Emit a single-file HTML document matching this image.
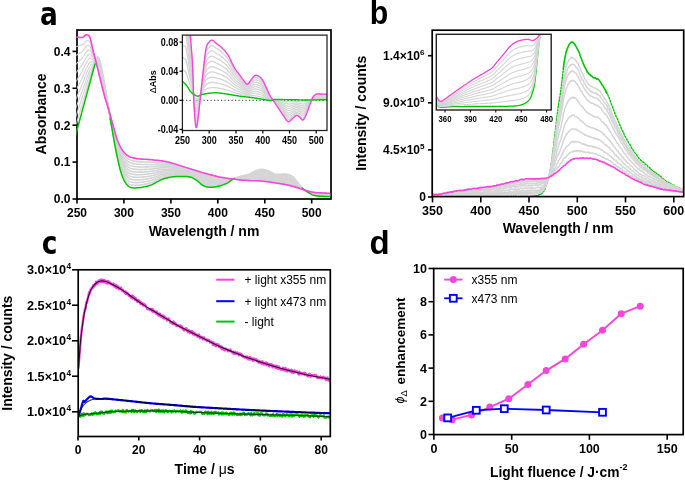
<!DOCTYPE html>
<html><head><meta charset="utf-8"><title>Figure</title>
<style>html,body{margin:0;padding:0;background:#fff;}svg{display:block;font-family:'Liberation Sans', Arial, sans-serif;}text{fill:#000;}</style>
</head><body>
<svg width="685" height="480" viewBox="0 0 685 480">
<rect width="685" height="480" fill="#fff"/>
<text x="0" y="0" font-size="31.5" font-weight="bold" text-anchor="middle" transform="translate(49 24.6) scale(0.84 1)" font-family="'DejaVu Sans', sans-serif">a</text>
<text x="0" y="0" font-size="33" font-weight="bold" text-anchor="middle" transform="translate(378.9 24.4) scale(0.92 1)">b</text>
<text x="0" y="0" font-size="31.5" font-weight="bold" text-anchor="middle" transform="translate(49.5 254.3) scale(0.84 1)" font-family="'DejaVu Sans', sans-serif">c</text>
<text x="379.5" y="254.3" font-size="33" font-weight="bold" text-anchor="middle">d</text>
<rect x="77" y="30" width="254" height="169" fill="none" stroke="#000" stroke-width="1.7"/>
<defs><clipPath id="ca"><rect x="76.3" y="30.9" width="253.79999999999998" height="167.2"/></clipPath></defs>
<g clip-path="url(#ca)">
<path d="M94.2,66.9l0.8-2.9 0.8-3 0.8-3.2 0.8-0.8 0.8,0.3 0.8,1.4 0.8,2.3 0.8,3.1 0.8,3.5 0.8,3.9 0.8,4.2 0.8,4.6 0.8,4.6 0.8,4.8 0.8,4.6 0.8,4.8 0.8,4.7 0.8,4.8 0.8,4.7 0.8,4.7 0.8,4.7" fill="none" stroke="#d5d5d5" stroke-width="2.0" stroke-linejoin="round" stroke-linecap="round"/>
<path d="M234.2,178.6l0.8-0.3 0.8-0.3 0.8-0.3 0.8-0.2 0.8-0.3 0.8-0.2 0.8-0.2 0.8-0.3 0.8-0.2 0.8-0.2 0.8-0.2 0.8-0.2 0.8-0.2 0.8-0.2 0.8-0.2 0.8-0.2 0.8-0.2 0.8-0.2 0.8-0.3 0.8-0.4 0.8-0.4 0.8-0.4 0.8-0.4 0.8-0.5 0.8-0.4 0.8-0.4 0.8-0.3 0.8-0.3 0.8-0.3 0.8-0.3 0.8-0.2 0.8-0.2 0.8-0.1 0.8-0.1 0.8,0 0.8,0.1 0.8,0.1 0.8,0.2 0.8,0.2 0.8,0.2 0.8,0.3 0.8,0.3 0.8,0.3 0.8,0.3 0.8,0.4 0.8,0.5 0.8,0.4 0.8,0.5 0.8,0.4 0.8,0.4 0.8,0.3 0.8,0.1 0.8,0.1 0.8,0.1 0.8-0.1 0.8,0 0.8,0 0.8,0 0.8-0.1 0.8-0.1 0.8-0.1 0.8-0.1 0.8,0 0.8,0 0.8,0.1 0.8,0.2 0.8,0.2 0.8,0.2 0.8,0.3 0.8,0.3 0.8,0.4 0.8,0.4 0.8,0.5 0.8,0.7 0.8,0.9 0.8,1 0.8,1 0.8,1 0.8,1 0.8,1 0.8,1 0.8,0.9 0.8,1 0.8,0.9" fill="none" stroke="#d5d5d5" stroke-width="2.0" stroke-linejoin="round" stroke-linecap="round"/>
<path d="M75.8,125.7l0.8-2.7 0.8-2.7 0.8-2.7 0.8-2.6 0.8-2.7 0.8-2.6 0.8-2.7 0.8-2.7 0.8-2.7 0.8-2.7 0.8-2.7 0.8-2.8 0.8-2.7 0.8-2.6 0.8-2.7 0.8-2.6 0.8-2.6 0.8-2.5 0.8-2.4 0.8-2.4 0.8-2.3 0.8-2.4 0.8-2.4 0.8-2.3 0.8-2.5 0.8-2.6 0.8-0.4 0.8,0.6 0.8,1.5 0.8,2.4 0.8,3.1" fill="none" stroke="#d5d5d5" stroke-width="1.15" stroke-linejoin="round" stroke-linecap="round"/>
<path d="M100.6,65.6l0.8,3.5 0.8,3.8 0.8,4.1 0.8,4.4 0.8,4.6 0.8,4.5 0.8,4.5 0.8,4.5 0.8,4.6 0.8,4.6 0.8,4.5 0.8,4.5 0.8,4.6 0.8,4.6 0.8,4.6 0.8,4.5 0.8,4.4 0.8,4.3 0.8,4 0.8,3.8 0.8,3.7 0.8,3.6 0.8,3.3 0.8,3.1 0.8,2.8 0.8,2.4 0.8,2.2 0.8,2 0.8,1.7 0.8,1.5 0.8,1.3 0.8,1.1 0.8,1 0.8,0.8 0.8,0.6 0.8,0.5 0.8,0.4 0.8,0.3 0.8,0.2 0.8,0.1 0.8,0.1 0.8,0 0.8,0 0.8,0 0.8,0 0.8,0 0.8,0 0.8-0.1 0.8-0.1 0.8-0.1 0.8-0.1 0.8-0.1 0.8-0.1 0.8-0.2 0.8-0.1 0.8-0.2 0.8-0.1 0.8-0.2 0.8-0.2 0.8-0.2 0.8-0.2 0.8-0.3 0.8-0.2 0.8-0.3 0.8-0.3 0.8-0.3 0.8-0.4 0.8-0.4 0.8-0.4 0.8-0.4 0.8-0.4 0.8-0.4 0.8-0.4 0.8-0.4 0.8-0.3 0.8-0.3 0.8-0.3 0.8-0.3 0.8-0.2 0.8-0.2 0.8-0.2 0.8-0.2 0.8-0.2 0.8-0.1 0.8-0.2 0.8-0.1 0.8-0.1 0.8-0.1 0.8,0 0.8-0.1 0.8-0.1 0.8,0 0.8,0 0.8-0.1 0.8,0 0.8,0 0.8,0 0.8,0 0.8,0 0.8,0 0.8,0 0.8,0 0.8,0 0.8,0.1 0.8,0 0.8,0.1 0.8,0 0.8,0.1 0.8,0.1 0.8,0.1 0.8,0.1 0.8,0.2 0.8,0.2 0.8,0.3 0.8,0.3 0.8,0.4 0.8,0.5 0.8,0.5 0.8,0.5 0.8,0.5 0.8,0.5 0.8,0.6 0.8,0.7 0.8,0.7 0.8,0.7 0.8,0.6 0.8,0.6 0.8,0.5 0.8,0.3 0.8,0.4 0.8,0.3 0.8,0.2 0.8,0.2 0.8,0.2 0.8,0.1 0.8,0 0.8,0.1 0.8,0 0.8,0 0.8-0.1 0.8-0.1 0.8,0 0.8-0.1 0.8-0.1 0.8-0.1 0.8-0.2 0.8-0.1 0.8-0.2 0.8-0.1 0.8-0.2 0.8-0.2 0.8-0.2 0.8-0.3 0.8-0.2 0.8-0.3 0.8-0.3 0.8-0.3 0.8-0.3 0.8-0.4 0.8-0.4 0.8-0.6 0.8-0.6 0.8-0.5 0.8-0.6 0.8-0.4 0.8-0.4 0.8-0.3 0.8-0.2 0.8-0.3 0.8-0.2 0.8-0.2 0.8-0.3 0.8-0.2 0.8-0.2 0.8-0.2 0.8-0.2 0.8-0.2 0.8-0.1 0.8-0.2 0.8-0.2 0.8-0.1 0.8-0.2 0.8-0.2 0.8-0.2 0.8-0.2 0.8-0.2 0.8-0.3 0.8-0.4 0.8-0.4 0.8-0.4 0.8-0.4 0.8-0.4 0.8-0.3 0.8-0.3 0.8-0.3 0.8-0.3 0.8-0.2 0.8-0.2 0.8-0.2 0.8-0.1 0.8,0 0.8-0.1 0.8,0.1 0.8,0.1 0.8,0.2 0.8,0.2 0.8,0.2 0.8,0.3 0.8,0.3 0.8,0.2 0.8,0.4 0.8,0.4 0.8,0.4 0.8,0.4 0.8,0.4 0.8,0.4 0.8,0.4 0.8,0.2 0.8,0.2 0.8,0.1 0.8,0 0.8,0 0.8,0 0.8,0 0.8,0 0.8-0.1 0.8-0.1 0.8,0 0.8-0.1 0.8,0 0.8,0.1 0.8,0.1 0.8,0.1 0.8,0.2 0.8,0.2 0.8,0.3 0.8,0.3 0.8,0.4 0.8,0.4 0.8,0.5 0.8,0.6 0.8,0.8 0.8,0.9 0.8,1 0.8,1 0.8,0.9 0.8,0.9 0.8,0.9 0.8,0.9 0.8,0.9 0.8,0.8 0.8,0.8 0.8,0.7 0.8,0.7 0.8,0.6 0.8,0.5 0.8,0.5 0.8,0.5 0.8,0.5 0.8,0.5 0.8,0.5 0.8,0.5 0.8,0.4 0.8,0.4 0.8,0.3 0.8,0.2 0.8,0.3 0.8,0.1 0.8,0.2 0.8,0.1 0.8,0.1 0.8,0.1 0.8,0 0.8,0.1 0.8,0 0.8,0.1 0.8,0 0.8,0 0.8,0.1 0.8,0 0.8,0 0.8,0.1 0.8,0 0.8,0 0.8,0 0.8,0.1 0.8,0" fill="none" stroke="#d5d5d5" stroke-width="1.6" stroke-linejoin="round" stroke-linecap="round"/>
<path d="M75.8,117l0.8-2.5 0.8-2.4 0.8-2.4 0.8-2.4 0.8-2.4 0.8-2.4 0.8-2.4 0.8-2.4 0.8-2.4 0.8-2.6 0.8-2.5 0.8-2.5 0.8-2.5 0.8-2.4 0.8-2.4 0.8-2.3 0.8-2.2 0.8-2.1 0.8-1.9 0.8-1.7 0.8-1.8 0.8-1.8 0.8-1.9 0.8-1.8 0.8-1.9 0.8-2 0.8-0.1 0.8,0.9 0.8,1.7 0.8,2.5 0.8,3" fill="none" stroke="#d5d5d5" stroke-width="1.15" stroke-linejoin="round" stroke-linecap="round"/>
<path d="M100.6,67l0.8,3.5 0.8,3.8 0.8,4 0.8,4.3 0.8,4.4 0.8,4.4 0.8,4.3 0.8,4.3 0.8,4.4 0.8,4.3 0.8,4.4 0.8,4.4 0.8,4.4 0.8,4.4 0.8,4.4 0.8,4.4 0.8,4.2 0.8,4.1 0.8,3.9 0.8,3.7 0.8,3.6 0.8,3.5 0.8,3.2 0.8,2.9 0.8,2.6 0.8,2.4 0.8,2.1 0.8,1.9 0.8,1.6 0.8,1.5 0.8,1.2 0.8,1.1 0.8,0.9 0.8,0.8 0.8,0.6 0.8,0.5 0.8,0.4 0.8,0.2 0.8,0.2 0.8,0.2 0.8,0.1 0.8,0 0.8,0.1 0.8,0 0.8,0 0.8,0 0.8,0 0.8-0.1 0.8,0 0.8-0.1 0.8-0.1 0.8-0.1 0.8-0.1 0.8-0.1 0.8-0.2 0.8-0.1 0.8-0.2 0.8-0.1 0.8-0.2 0.8-0.2 0.8-0.2 0.8-0.2 0.8-0.2 0.8-0.2 0.8-0.3 0.8-0.3 0.8-0.3 0.8-0.3 0.8-0.4 0.8-0.3 0.8-0.4 0.8-0.4 0.8-0.3 0.8-0.4 0.8-0.3 0.8-0.2 0.8-0.3 0.8-0.2 0.8-0.2 0.8-0.2 0.8-0.1 0.8-0.2 0.8-0.1 0.8-0.1 0.8-0.1 0.8-0.1 0.8-0.1 0.8-0.1 0.8,0 0.8,0 0.8-0.1 0.8,0 0.8,0 0.8,0 0.8,0 0.8,0 0.8,0 0.8,0.1 0.8,0 0.8,0 0.8,0.1 0.8,0 0.8,0 0.8,0.1 0.8,0.1 0.8,0 0.8,0.1 0.8,0.1 0.8,0.1 0.8,0.1 0.8,0.2 0.8,0.2 0.8,0.2 0.8,0.2 0.8,0.4 0.8,0.4 0.8,0.4 0.8,0.5 0.8,0.4 0.8,0.5 0.8,0.5 0.8,0.6 0.8,0.6 0.8,0.7 0.8,0.6 0.8,0.6 0.8,0.6 0.8,0.4 0.8,0.4 0.8,0.3 0.8,0.3 0.8,0.2 0.8,0.2 0.8,0.2 0.8,0.1 0.8,0.1 0.8,0 0.8,0.1 0.8,0 0.8-0.1 0.8,0 0.8,0 0.8-0.1 0.8-0.1 0.8-0.1 0.8-0.1 0.8-0.1 0.8-0.1 0.8-0.1 0.8-0.2 0.8-0.1 0.8-0.2 0.8-0.2 0.8-0.2 0.8-0.3 0.8-0.2 0.8-0.3 0.8-0.3 0.8-0.3 0.8-0.4 0.8-0.4 0.8-0.6 0.8-0.5 0.8-0.5 0.8-0.3 0.8-0.3 0.8-0.3 0.8-0.2 0.8-0.3 0.8-0.2 0.8-0.1 0.8-0.2 0.8-0.2 0.8-0.2 0.8-0.2 0.8-0.1 0.8-0.2 0.8-0.2 0.8-0.1 0.8-0.1 0.8-0.2 0.8-0.1 0.8-0.2 0.8-0.1 0.8-0.2 0.8-0.3 0.8-0.2 0.8-0.4 0.8-0.3 0.8-0.4 0.8-0.3 0.8-0.4 0.8-0.3 0.8-0.2 0.8-0.3 0.8-0.2 0.8-0.2 0.8-0.2 0.8-0.2 0.8-0.1 0.8,0 0.8,0 0.8,0.1 0.8,0.1 0.8,0.1 0.8,0.2 0.8,0.2 0.8,0.3 0.8,0.2 0.8,0.3 0.8,0.3 0.8,0.4 0.8,0.4 0.8,0.4 0.8,0.3 0.8,0.4 0.8,0.3 0.8,0.3 0.8,0.2 0.8,0.1 0.8,0 0.8,0 0.8,0 0.8,0 0.8,0 0.8,0 0.8-0.1 0.8,0 0.8-0.1 0.8,0 0.8,0.1 0.8,0.1 0.8,0.2 0.8,0.1 0.8,0.3 0.8,0.2 0.8,0.3 0.8,0.4 0.8,0.4 0.8,0.4 0.8,0.6 0.8,0.8 0.8,0.8 0.8,0.9 0.8,0.9 0.8,0.9 0.8,0.8 0.8,0.8 0.8,0.9 0.8,0.8 0.8,0.8 0.8,0.7 0.8,0.7 0.8,0.6 0.8,0.6 0.8,0.5 0.8,0.5 0.8,0.4 0.8,0.5 0.8,0.5 0.8,0.4 0.8,0.5 0.8,0.4 0.8,0.3 0.8,0.3 0.8,0.3 0.8,0.2 0.8,0.2 0.8,0.1 0.8,0.1 0.8,0.1 0.8,0.1 0.8,0 0.8,0.1 0.8,0 0.8,0.1 0.8,0 0.8,0 0.8,0.1 0.8,0 0.8,0 0.8,0.1 0.8,0 0.8,0 0.8,0 0.8,0.1 0.8,0" fill="none" stroke="#d5d5d5" stroke-width="1.6" stroke-linejoin="round" stroke-linecap="round"/>
<path d="M75.8,108.2l0.8-2.2 0.8-2.1 0.8-2.2 0.8-2.1 0.8-2.1 0.8-2.1 0.8-2.2 0.8-2.1 0.8-2.2 0.8-2.3 0.8-2.4 0.8-2.3 0.8-2.2 0.8-2.2 0.8-2 0.8-2 0.8-2 0.8-1.7 0.8-1.3 0.8-1.1 0.8-1.2 0.8-1.3 0.8-1.3 0.8-1.2 0.8-1.3 0.8-1.5 0.8,0.3 0.8,1.1 0.8,1.9 0.8,2.6 0.8,3" fill="none" stroke="#d5d5d5" stroke-width="1.15" stroke-linejoin="round" stroke-linecap="round"/>
<path d="M100.6,68.5l0.8,3.5 0.8,3.7 0.8,4 0.8,4.1 0.8,4.2 0.8,4.2 0.8,4.1 0.8,4.1 0.8,4.2 0.8,4.2 0.8,4.2 0.8,4.2 0.8,4.2 0.8,4.3 0.8,4.3 0.8,4.1 0.8,4.2 0.8,3.9 0.8,3.8 0.8,3.6 0.8,3.5 0.8,3.2 0.8,3.1 0.8,2.8 0.8,2.5 0.8,2.2 0.8,2 0.8,1.8 0.8,1.6 0.8,1.4 0.8,1.2 0.8,1.1 0.8,0.8 0.8,0.8 0.8,0.6 0.8,0.5 0.8,0.4 0.8,0.2 0.8,0.2 0.8,0.2 0.8,0.1 0.8,0 0.8,0.1 0.8,0 0.8,0 0.8,0 0.8,0 0.8,0 0.8,0 0.8-0.1 0.8-0.1 0.8,0 0.8-0.1 0.8-0.1 0.8-0.2 0.8-0.1 0.8-0.1 0.8-0.2 0.8-0.1 0.8-0.2 0.8-0.1 0.8-0.2 0.8-0.2 0.8-0.2 0.8-0.2 0.8-0.2 0.8-0.3 0.8-0.3 0.8-0.3 0.8-0.3 0.8-0.3 0.8-0.4 0.8-0.3 0.8-0.2 0.8-0.3 0.8-0.2 0.8-0.2 0.8-0.2 0.8-0.2 0.8-0.1 0.8-0.1 0.8-0.2 0.8-0.1 0.8,0 0.8-0.1 0.8-0.1 0.8,0 0.8,0 0.8-0.1 0.8,0 0.8,0 0.8,0.1 0.8,0 0.8,0 0.8,0 0.8,0.1 0.8,0 0.8,0.1 0.8,0 0.8,0.1 0.8,0 0.8,0.1 0.8,0.1 0.8,0 0.8,0.1 0.8,0.1 0.8,0.1 0.8,0.1 0.8,0.1 0.8,0.2 0.8,0.1 0.8,0.2 0.8,0.2 0.8,0.3 0.8,0.3 0.8,0.4 0.8,0.4 0.8,0.5 0.8,0.4 0.8,0.4 0.8,0.5 0.8,0.6 0.8,0.6 0.8,0.6 0.8,0.6 0.8,0.5 0.8,0.5 0.8,0.5 0.8,0.3 0.8,0.3 0.8,0.3 0.8,0.2 0.8,0.2 0.8,0.2 0.8,0.1 0.8,0.1 0.8,0.1 0.8,0.1 0.8,0 0.8,0 0.8,0 0.8-0.1 0.8,0 0.8,0 0.8-0.1 0.8-0.1 0.8,0 0.8-0.1 0.8-0.1 0.8-0.1 0.8-0.2 0.8-0.1 0.8-0.2 0.8-0.2 0.8-0.1 0.8-0.3 0.8-0.2 0.8-0.2 0.8-0.3 0.8-0.3 0.8-0.4 0.8-0.5 0.8-0.4 0.8-0.4 0.8-0.4 0.8-0.2 0.8-0.2 0.8-0.2 0.8-0.2 0.8-0.2 0.8-0.2 0.8-0.1 0.8-0.2 0.8-0.1 0.8-0.2 0.8-0.1 0.8-0.1 0.8-0.2 0.8-0.1 0.8-0.1 0.8-0.1 0.8-0.1 0.8-0.2 0.8-0.1 0.8-0.2 0.8-0.2 0.8-0.2 0.8-0.3 0.8-0.3 0.8-0.3 0.8-0.4 0.8-0.3 0.8-0.2 0.8-0.3 0.8-0.2 0.8-0.2 0.8-0.2 0.8-0.1 0.8-0.2 0.8,0 0.8-0.1 0.8,0 0.8,0.1 0.8,0.1 0.8,0.2 0.8,0.1 0.8,0.3 0.8,0.2 0.8,0.2 0.8,0.3 0.8,0.3 0.8,0.3 0.8,0.3 0.8,0.4 0.8,0.4 0.8,0.3 0.8,0.3 0.8,0.3 0.8,0.1 0.8,0.1 0.8,0.1 0.8,0 0.8,0 0.8,0 0.8,0 0.8,0 0.8,0 0.8-0.1 0.8,0 0.8,0.1 0.8,0 0.8,0.1 0.8,0.2 0.8,0.2 0.8,0.2 0.8,0.2 0.8,0.3 0.8,0.3 0.8,0.4 0.8,0.5 0.8,0.5 0.8,0.7 0.8,0.8 0.8,0.8 0.8,0.8 0.8,0.8 0.8,0.8 0.8,0.8 0.8,0.8 0.8,0.7 0.8,0.8 0.8,0.6 0.8,0.7 0.8,0.6 0.8,0.5 0.8,0.5 0.8,0.4 0.8,0.4 0.8,0.5 0.8,0.4 0.8,0.5 0.8,0.4 0.8,0.4 0.8,0.3 0.8,0.3 0.8,0.2 0.8,0.2 0.8,0.2 0.8,0.1 0.8,0.1 0.8,0.1 0.8,0.1 0.8,0 0.8,0.1 0.8,0 0.8,0.1 0.8,0 0.8,0 0.8,0.1 0.8,0 0.8,0 0.8,0.1 0.8,0 0.8,0 0.8,0 0.8,0.1 0.8,0" fill="none" stroke="#d5d5d5" stroke-width="1.6" stroke-linejoin="round" stroke-linecap="round"/>
<path d="M75.8,99.4l0.8-1.9 0.8-1.9 0.8-1.8 0.8-1.9 0.8-1.8 0.8-1.9 0.8-1.8 0.8-1.9 0.8-2 0.8-2.1 0.8-2.1 0.8-2.2 0.8-2 0.8-1.8 0.8-1.8 0.8-1.7 0.8-1.6 0.8-1.3 0.8-0.8 0.8-0.5 0.8-0.6 0.8-0.7 0.8-0.8 0.8-0.7 0.8-0.7 0.8-0.9 0.8,0.7 0.8,1.3 0.8,2.1 0.8,2.6 0.8,3.1" fill="none" stroke="#d5d5d5" stroke-width="1.15" stroke-linejoin="round" stroke-linecap="round"/>
<path d="M100.6,70l0.8,3.5 0.8,3.6 0.8,3.9 0.8,4 0.8,4.1 0.8,4 0.8,3.9 0.8,3.9 0.8,4 0.8,4 0.8,4 0.8,4 0.8,4.1 0.8,4.1 0.8,4.1 0.8,4 0.8,4 0.8,3.8 0.8,3.7 0.8,3.4 0.8,3.4 0.8,3.1 0.8,2.9 0.8,2.6 0.8,2.4 0.8,2.2 0.8,1.9 0.8,1.7 0.8,1.5 0.8,1.4 0.8,1.1 0.8,1 0.8,0.9 0.8,0.7 0.8,0.6 0.8,0.5 0.8,0.3 0.8,0.3 0.8,0.2 0.8,0.2 0.8,0.1 0.8,0.1 0.8,0 0.8,0.1 0.8,0 0.8,0 0.8,0 0.8,0 0.8,0 0.8,0 0.8-0.1 0.8-0.1 0.8,0 0.8-0.1 0.8-0.1 0.8-0.1 0.8-0.1 0.8-0.2 0.8-0.1 0.8-0.1 0.8-0.1 0.8-0.2 0.8-0.1 0.8-0.2 0.8-0.2 0.8-0.2 0.8-0.2 0.8-0.3 0.8-0.2 0.8-0.3 0.8-0.3 0.8-0.2 0.8-0.3 0.8-0.2 0.8-0.2 0.8-0.2 0.8-0.2 0.8-0.1 0.8-0.2 0.8-0.1 0.8-0.1 0.8,0 0.8-0.1 0.8-0.1 0.8,0 0.8,0 0.8,0 0.8,0 0.8,0 0.8,0 0.8,0 0.8,0.1 0.8,0 0.8,0.1 0.8,0.1 0.8,0 0.8,0.1 0.8,0.1 0.8,0 0.8,0.1 0.8,0.1 0.8,0.1 0.8,0.1 0.8,0.1 0.8,0.1 0.8,0.1 0.8,0.1 0.8,0.1 0.8,0.1 0.8,0.2 0.8,0.2 0.8,0.2 0.8,0.2 0.8,0.3 0.8,0.3 0.8,0.3 0.8,0.4 0.8,0.4 0.8,0.5 0.8,0.4 0.8,0.4 0.8,0.5 0.8,0.6 0.8,0.6 0.8,0.5 0.8,0.5 0.8,0.5 0.8,0.4 0.8,0.3 0.8,0.4 0.8,0.2 0.8,0.3 0.8,0.2 0.8,0.1 0.8,0.2 0.8,0.1 0.8,0.1 0.8,0 0.8,0.1 0.8,0 0.8,0 0.8,0 0.8,0 0.8,0 0.8,0 0.8,0 0.8-0.1 0.8,0 0.8-0.1 0.8-0.1 0.8-0.1 0.8-0.1 0.8-0.1 0.8-0.2 0.8-0.1 0.8-0.2 0.8-0.2 0.8-0.2 0.8-0.2 0.8-0.3 0.8-0.3 0.8-0.4 0.8-0.4 0.8-0.3 0.8-0.3 0.8-0.2 0.8-0.2 0.8-0.1 0.8-0.2 0.8-0.1 0.8-0.2 0.8-0.1 0.8-0.1 0.8-0.1 0.8-0.1 0.8-0.2 0.8-0.1 0.8-0.1 0.8-0.1 0.8-0.1 0.8-0.1 0.8-0.1 0.8-0.1 0.8-0.1 0.8-0.1 0.8-0.2 0.8-0.2 0.8-0.2 0.8-0.3 0.8-0.3 0.8-0.3 0.8-0.3 0.8-0.2 0.8-0.2 0.8-0.2 0.8-0.1 0.8-0.2 0.8-0.1 0.8-0.1 0.8-0.1 0.8,0 0.8,0 0.8,0 0.8,0.2 0.8,0.1 0.8,0.2 0.8,0.2 0.8,0.2 0.8,0.2 0.8,0.2 0.8,0.3 0.8,0.3 0.8,0.3 0.8,0.4 0.8,0.3 0.8,0.3 0.8,0.3 0.8,0.2 0.8,0.2 0.8,0.1 0.8,0.1 0.8,0 0.8,0 0.8,0 0.8,0.1 0.8,0 0.8-0.1 0.8,0 0.8,0 0.8,0.1 0.8,0.1 0.8,0.1 0.8,0.1 0.8,0.2 0.8,0.2 0.8,0.3 0.8,0.2 0.8,0.3 0.8,0.4 0.8,0.4 0.8,0.5 0.8,0.7 0.8,0.7 0.8,0.7 0.8,0.8 0.8,0.7 0.8,0.7 0.8,0.7 0.8,0.8 0.8,0.7 0.8,0.6 0.8,0.7 0.8,0.5 0.8,0.6 0.8,0.5 0.8,0.4 0.8,0.5 0.8,0.4 0.8,0.4 0.8,0.4 0.8,0.4 0.8,0.4 0.8,0.3 0.8,0.4 0.8,0.2 0.8,0.3 0.8,0.2 0.8,0.1 0.8,0.1 0.8,0.1 0.8,0.1 0.8,0.1 0.8,0 0.8,0.1 0.8,0 0.8,0.1 0.8,0 0.8,0 0.8,0.1 0.8,0 0.8,0 0.8,0.1 0.8,0 0.8,0 0.8,0 0.8,0.1 0.8,0" fill="none" stroke="#d5d5d5" stroke-width="1.6" stroke-linejoin="round" stroke-linecap="round"/>
<path d="M75.8,90.7l0.8-1.7 0.8-1.6 0.8-1.6 0.8-1.5 0.8-1.6 0.8-1.6 0.8-1.6 0.8-1.6 0.8-1.8 0.8-1.8 0.8-2 0.8-1.9 0.8-1.8 0.8-1.6 0.8-1.5 0.8-1.4 0.8-1.2 0.8-0.9 0.8-0.2 0.8,0.1 0.8,0 0.8-0.2 0.8-0.2 0.8-0.2 0.8-0.2 0.8-0.3 0.8,1 0.8,1.7 0.8,2.2 0.8,2.7 0.8,3.1" fill="none" stroke="#d5d5d5" stroke-width="1.15" stroke-linejoin="round" stroke-linecap="round"/>
<path d="M100.6,71.5l0.8,3.4 0.8,3.6 0.8,3.8 0.8,3.9 0.8,3.9 0.8,3.8 0.8,3.7 0.8,3.8 0.8,3.7 0.8,3.8 0.8,3.9 0.8,3.9 0.8,3.9 0.8,4 0.8,3.9 0.8,3.8 0.8,3.8 0.8,3.7 0.8,3.5 0.8,3.4 0.8,3.2 0.8,3 0.8,2.7 0.8,2.5 0.8,2.3 0.8,2 0.8,1.8 0.8,1.7 0.8,1.4 0.8,1.3 0.8,1.1 0.8,1 0.8,0.8 0.8,0.7 0.8,0.6 0.8,0.5 0.8,0.3 0.8,0.3 0.8,0.2 0.8,0.2 0.8,0.1 0.8,0.1 0.8,0.1 0.8,0 0.8,0.1 0.8,0 0.8,0 0.8,0 0.8,0 0.8,0 0.8-0.1 0.8,0 0.8-0.1 0.8,0 0.8-0.1 0.8-0.1 0.8-0.1 0.8-0.1 0.8-0.1 0.8-0.1 0.8-0.1 0.8-0.1 0.8-0.1 0.8-0.1 0.8-0.2 0.8-0.2 0.8-0.1 0.8-0.2 0.8-0.3 0.8-0.2 0.8-0.2 0.8-0.2 0.8-0.2 0.8-0.2 0.8-0.2 0.8-0.1 0.8-0.1 0.8-0.1 0.8-0.1 0.8-0.1 0.8-0.1 0.8,0 0.8-0.1 0.8,0 0.8,0 0.8,0 0.8,0.1 0.8,0 0.8,0 0.8,0.1 0.8,0.1 0.8,0 0.8,0.1 0.8,0.1 0.8,0.1 0.8,0.1 0.8,0.1 0.8,0 0.8,0.1 0.8,0.1 0.8,0.2 0.8,0.1 0.8,0.1 0.8,0.1 0.8,0.1 0.8,0.1 0.8,0.2 0.8,0.1 0.8,0.2 0.8,0.1 0.8,0.2 0.8,0.2 0.8,0.2 0.8,0.3 0.8,0.3 0.8,0.4 0.8,0.3 0.8,0.4 0.8,0.4 0.8,0.4 0.8,0.4 0.8,0.5 0.8,0.5 0.8,0.6 0.8,0.5 0.8,0.5 0.8,0.4 0.8,0.4 0.8,0.3 0.8,0.3 0.8,0.2 0.8,0.3 0.8,0.2 0.8,0.2 0.8,0.1 0.8,0.1 0.8,0.1 0.8,0.1 0.8,0.1 0.8,0.1 0.8,0 0.8,0 0.8,0 0.8,0.1 0.8,0 0.8,0 0.8-0.1 0.8,0 0.8,0 0.8-0.1 0.8,0 0.8-0.1 0.8-0.1 0.8-0.1 0.8-0.1 0.8-0.1 0.8-0.2 0.8-0.1 0.8-0.2 0.8-0.2 0.8-0.3 0.8-0.3 0.8-0.3 0.8-0.3 0.8-0.2 0.8-0.2 0.8-0.1 0.8-0.2 0.8-0.1 0.8-0.1 0.8-0.1 0.8-0.1 0.8-0.1 0.8,0 0.8-0.1 0.8-0.1 0.8-0.1 0.8-0.1 0.8-0.1 0.8,0 0.8-0.1 0.8-0.1 0.8-0.1 0.8-0.1 0.8-0.1 0.8-0.1 0.8-0.2 0.8-0.2 0.8-0.2 0.8-0.3 0.8-0.2 0.8-0.2 0.8-0.2 0.8-0.2 0.8-0.2 0.8-0.1 0.8-0.1 0.8-0.2 0.8,0 0.8-0.1 0.8,0 0.8,0 0.8,0.1 0.8,0.1 0.8,0.1 0.8,0.2 0.8,0.2 0.8,0.2 0.8,0.2 0.8,0.2 0.8,0.3 0.8,0.2 0.8,0.3 0.8,0.3 0.8,0.3 0.8,0.3 0.8,0.3 0.8,0.2 0.8,0.1 0.8,0.2 0.8,0 0.8,0.1 0.8,0 0.8,0.1 0.8,0 0.8,0 0.8,0 0.8,0 0.8,0.1 0.8,0 0.8,0.1 0.8,0.1 0.8,0.2 0.8,0.2 0.8,0.2 0.8,0.2 0.8,0.2 0.8,0.3 0.8,0.4 0.8,0.4 0.8,0.4 0.8,0.6 0.8,0.7 0.8,0.6 0.8,0.7 0.8,0.7 0.8,0.6 0.8,0.7 0.8,0.6 0.8,0.7 0.8,0.6 0.8,0.6 0.8,0.5 0.8,0.5 0.8,0.5 0.8,0.4 0.8,0.4 0.8,0.4 0.8,0.4 0.8,0.4 0.8,0.3 0.8,0.4 0.8,0.3 0.8,0.3 0.8,0.3 0.8,0.2 0.8,0.2 0.8,0.1 0.8,0.1 0.8,0.1 0.8,0.1 0.8,0.1 0.8,0 0.8,0.1 0.8,0 0.8,0.1 0.8,0 0.8,0 0.8,0.1 0.8,0 0.8,0 0.8,0.1 0.8,0 0.8,0 0.8,0 0.8,0.1 0.8,0" fill="none" stroke="#d5d5d5" stroke-width="1.6" stroke-linejoin="round" stroke-linecap="round"/>
<path d="M75.8,81.9l0.8-1.4 0.8-1.3 0.8-1.3 0.8-1.3 0.8-1.3 0.8-1.3 0.8-1.4 0.8-1.3 0.8-1.5 0.8-1.7 0.8-1.8 0.8-1.7 0.8-1.5 0.8-1.4 0.8-1.2 0.8-1 0.8-1 0.8-0.4 0.8,0.3 0.8,0.7 0.8,0.6 0.8,0.3 0.8,0.4 0.8,0.4 0.8,0.3 0.8,0.3 0.8,1.4 0.8,1.9 0.8,2.4 0.8,2.8 0.8,3.1" fill="none" stroke="#d5d5d5" stroke-width="1.15" stroke-linejoin="round" stroke-linecap="round"/>
<path d="M100.6,73l0.8,3.4 0.8,3.5 0.8,3.7 0.8,3.8 0.8,3.7 0.8,3.7 0.8,3.5 0.8,3.5 0.8,3.6 0.8,3.6 0.8,3.7 0.8,3.7 0.8,3.8 0.8,3.8 0.8,3.7 0.8,3.6 0.8,3.7 0.8,3.6 0.8,3.4 0.8,3.2 0.8,3.1 0.8,2.8 0.8,2.6 0.8,2.4 0.8,2.1 0.8,1.9 0.8,1.8 0.8,1.5 0.8,1.4 0.8,1.3 0.8,1 0.8,1 0.8,0.8 0.8,0.6 0.8,0.6 0.8,0.5 0.8,0.3 0.8,0.3 0.8,0.2 0.8,0.2 0.8,0.1 0.8,0.1 0.8,0.1 0.8,0.1 0.8,0 0.8,0.1 0.8,0 0.8,0 0.8,0 0.8,0 0.8,0 0.8,0 0.8-0.1 0.8,0 0.8-0.1 0.8,0 0.8-0.1 0.8-0.1 0.8-0.1 0.8,0 0.8-0.1 0.8-0.1 0.8-0.1 0.8-0.1 0.8-0.1 0.8-0.1 0.8-0.2 0.8-0.1 0.8-0.2 0.8-0.1 0.8-0.2 0.8-0.2 0.8-0.1 0.8-0.2 0.8-0.1 0.8-0.1 0.8-0.1 0.8-0.1 0.8,0 0.8-0.1 0.8,0 0.8,0 0.8,0 0.8,0 0.8,0 0.8,0.1 0.8,0 0.8,0.1 0.8,0.1 0.8,0.1 0.8,0.1 0.8,0.1 0.8,0.1 0.8,0.1 0.8,0.1 0.8,0.1 0.8,0.1 0.8,0.1 0.8,0.2 0.8,0.1 0.8,0.1 0.8,0.1 0.8,0.2 0.8,0.1 0.8,0.2 0.8,0.1 0.8,0.2 0.8,0.1 0.8,0.2 0.8,0.2 0.8,0.2 0.8,0.2 0.8,0.2 0.8,0.3 0.8,0.3 0.8,0.3 0.8,0.3 0.8,0.4 0.8,0.4 0.8,0.4 0.8,0.4 0.8,0.4 0.8,0.5 0.8,0.4 0.8,0.5 0.8,0.5 0.8,0.4 0.8,0.3 0.8,0.3 0.8,0.3 0.8,0.3 0.8,0.2 0.8,0.2 0.8,0.2 0.8,0.1 0.8,0.2 0.8,0.1 0.8,0.1 0.8,0.1 0.8,0.1 0.8,0.1 0.8,0 0.8,0.1 0.8,0 0.8,0 0.8,0.1 0.8,0 0.8,0 0.8,0 0.8,0 0.8,0 0.8-0.1 0.8,0 0.8-0.1 0.8-0.1 0.8-0.1 0.8-0.1 0.8-0.1 0.8-0.1 0.8-0.2 0.8-0.2 0.8-0.2 0.8-0.3 0.8-0.2 0.8-0.1 0.8-0.2 0.8-0.1 0.8-0.1 0.8,0 0.8-0.1 0.8-0.1 0.8,0 0.8-0.1 0.8-0.1 0.8,0 0.8-0.1 0.8-0.1 0.8,0 0.8-0.1 0.8,0 0.8-0.1 0.8,0 0.8-0.1 0.8-0.1 0.8,0 0.8-0.1 0.8-0.2 0.8-0.1 0.8-0.2 0.8-0.2 0.8-0.2 0.8-0.2 0.8-0.2 0.8-0.1 0.8-0.2 0.8-0.1 0.8-0.1 0.8-0.1 0.8,0 0.8-0.1 0.8,0 0.8,0.1 0.8,0 0.8,0.1 0.8,0.2 0.8,0.1 0.8,0.2 0.8,0.2 0.8,0.2 0.8,0.2 0.8,0.2 0.8,0.3 0.8,0.2 0.8,0.3 0.8,0.3 0.8,0.2 0.8,0.3 0.8,0.2 0.8,0.1 0.8,0.1 0.8,0.1 0.8,0 0.8,0.1 0.8,0.1 0.8,0 0.8,0 0.8,0.1 0.8,0 0.8,0.1 0.8,0 0.8,0.1 0.8,0.2 0.8,0.1 0.8,0.2 0.8,0.2 0.8,0.2 0.8,0.3 0.8,0.2 0.8,0.4 0.8,0.3 0.8,0.5 0.8,0.5 0.8,0.5 0.8,0.6 0.8,0.6 0.8,0.6 0.8,0.6 0.8,0.6 0.8,0.6 0.8,0.6 0.8,0.6 0.8,0.5 0.8,0.5 0.8,0.5 0.8,0.4 0.8,0.4 0.8,0.3 0.8,0.4 0.8,0.4 0.8,0.3 0.8,0.4 0.8,0.3 0.8,0.3 0.8,0.3 0.8,0.2 0.8,0.2 0.8,0.2 0.8,0.1 0.8,0.2 0.8,0 0.8,0.1 0.8,0.1 0.8,0 0.8,0.1 0.8,0 0.8,0.1 0.8,0 0.8,0 0.8,0.1 0.8,0 0.8,0 0.8,0.1 0.8,0 0.8,0 0.8,0 0.8,0.1 0.8,0" fill="none" stroke="#d5d5d5" stroke-width="1.6" stroke-linejoin="round" stroke-linecap="round"/>
<path d="M75.8,73.1l0.8-1.1 0.8-1.1 0.8-1 0.8-1 0.8-1 0.8-1.1 0.8-1 0.8-1.2 0.8-1.2 0.8-1.4 0.8-1.6 0.8-1.6 0.8-1.3 0.8-1 0.8-0.9 0.8-0.8 0.8-0.6 0.8,0 0.8,0.8 0.8,1.3 0.8,1.2 0.8,0.9 0.8,0.9 0.8,0.9 0.8,1 0.8,0.8 0.8,1.8 0.8,2.1 0.8,2.6 0.8,2.8 0.8,3.2" fill="none" stroke="#d5d5d5" stroke-width="1.15" stroke-linejoin="round" stroke-linecap="round"/>
<path d="M100.6,74.5l0.8,3.3 0.8,3.5 0.8,3.6 0.8,3.6 0.8,3.6 0.8,3.5 0.8,3.4 0.8,3.3 0.8,3.3 0.8,3.5 0.8,3.5 0.8,3.5 0.8,3.7 0.8,3.6 0.8,3.5 0.8,3.5 0.8,3.5 0.8,3.5 0.8,3.3 0.8,3.1 0.8,2.9 0.8,2.7 0.8,2.4 0.8,2.2 0.8,2.1 0.8,1.8 0.8,1.6 0.8,1.5 0.8,1.3 0.8,1.2 0.8,1 0.8,0.9 0.8,0.8 0.8,0.7 0.8,0.5 0.8,0.4 0.8,0.4 0.8,0.3 0.8,0.2 0.8,0.2 0.8,0.1 0.8,0.1 0.8,0.1 0.8,0.1 0.8,0.1 0.8,0.1 0.8,0 0.8,0 0.8,0.1 0.8,0 0.8,0 0.8-0.1 0.8,0 0.8,0 0.8-0.1 0.8,0 0.8,0 0.8-0.1 0.8,0 0.8-0.1 0.8,0 0.8-0.1 0.8,0 0.8-0.1 0.8-0.1 0.8-0.1 0.8-0.1 0.8-0.1 0.8-0.1 0.8-0.1 0.8-0.1 0.8-0.2 0.8-0.1 0.8-0.1 0.8,0 0.8-0.1 0.8-0.1 0.8,0 0.8,0 0.8,0 0.8,0 0.8,0 0.8,0.1 0.8,0 0.8,0.1 0.8,0 0.8,0.1 0.8,0.1 0.8,0.1 0.8,0.1 0.8,0.2 0.8,0.1 0.8,0.1 0.8,0.2 0.8,0.1 0.8,0.1 0.8,0.2 0.8,0.1 0.8,0.2 0.8,0.1 0.8,0.2 0.8,0.1 0.8,0.2 0.8,0.1 0.8,0.2 0.8,0.2 0.8,0.1 0.8,0.2 0.8,0.2 0.8,0.2 0.8,0.2 0.8,0.2 0.8,0.3 0.8,0.2 0.8,0.3 0.8,0.3 0.8,0.4 0.8,0.3 0.8,0.4 0.8,0.3 0.8,0.4 0.8,0.4 0.8,0.4 0.8,0.4 0.8,0.5 0.8,0.4 0.8,0.3 0.8,0.4 0.8,0.3 0.8,0.2 0.8,0.3 0.8,0.2 0.8,0.2 0.8,0.2 0.8,0.2 0.8,0.1 0.8,0.2 0.8,0.1 0.8,0.1 0.8,0.1 0.8,0.1 0.8,0.1 0.8,0.1 0.8,0.1 0.8,0 0.8,0.1 0.8,0 0.8,0.1 0.8,0 0.8,0 0.8,0 0.8,0 0.8,0 0.8,0 0.8-0.1 0.8,0 0.8,0 0.8-0.1 0.8-0.1 0.8-0.1 0.8-0.1 0.8-0.2 0.8-0.2 0.8-0.1 0.8-0.2 0.8,0 0.8-0.1 0.8-0.1 0.8,0 0.8,0 0.8-0.1 0.8,0 0.8,0 0.8-0.1 0.8,0 0.8-0.1 0.8,0 0.8,0 0.8-0.1 0.8,0 0.8,0 0.8,0 0.8-0.1 0.8,0 0.8-0.1 0.8-0.1 0.8-0.1 0.8-0.1 0.8-0.1 0.8-0.2 0.8-0.1 0.8-0.2 0.8-0.1 0.8-0.1 0.8-0.1 0.8-0.1 0.8-0.1 0.8-0.1 0.8,0 0.8,0 0.8,0 0.8,0 0.8,0.1 0.8,0.1 0.8,0.1 0.8,0.1 0.8,0.2 0.8,0.2 0.8,0.2 0.8,0.1 0.8,0.2 0.8,0.3 0.8,0.2 0.8,0.3 0.8,0.2 0.8,0.2 0.8,0.2 0.8,0.2 0.8,0.2 0.8,0.1 0.8,0.1 0.8,0 0.8,0.1 0.8,0.1 0.8,0 0.8,0.1 0.8,0 0.8,0.1 0.8,0.1 0.8,0 0.8,0.2 0.8,0.1 0.8,0.2 0.8,0.1 0.8,0.2 0.8,0.2 0.8,0.3 0.8,0.2 0.8,0.3 0.8,0.4 0.8,0.4 0.8,0.4 0.8,0.5 0.8,0.5 0.8,0.6 0.8,0.5 0.8,0.5 0.8,0.6 0.8,0.5 0.8,0.5 0.8,0.5 0.8,0.5 0.8,0.5 0.8,0.4 0.8,0.4 0.8,0.3 0.8,0.4 0.8,0.3 0.8,0.4 0.8,0.3 0.8,0.3 0.8,0.3 0.8,0.3 0.8,0.3 0.8,0.2 0.8,0.2 0.8,0.1 0.8,0.2 0.8,0.1 0.8,0 0.8,0.1 0.8,0.1 0.8,0 0.8,0.1 0.8,0 0.8,0 0.8,0.1 0.8,0 0.8,0.1 0.8,0 0.8,0 0.8,0.1 0.8,0 0.8,0 0.8,0.1 0.8,0 0.8,0" fill="none" stroke="#d5d5d5" stroke-width="1.6" stroke-linejoin="round" stroke-linecap="round"/>
<path d="M75.8,64.4l0.8-0.9 0.8-0.8 0.8-0.7 0.8-0.8 0.8-0.7 0.8-0.8 0.8-0.8 0.8-0.9 0.8-1 0.8-1.2 0.8-1.4 0.8-1.3 0.8-1.1 0.8-0.8 0.8-0.6 0.8-0.5 0.8-0.2 0.8,0.4 0.8,1.4 0.8,1.9 0.8,1.7 0.8,1.5 0.8,1.4 0.8,1.5 0.8,1.5 0.8,1.4 0.8,2.1 0.8,2.4 0.8,2.8 0.8,2.9 0.8,3.2" fill="none" stroke="#d5d5d5" stroke-width="1.15" stroke-linejoin="round" stroke-linecap="round"/>
<path d="M100.6,76l0.8,3.3 0.8,3.4 0.8,3.5 0.8,3.5 0.8,3.5 0.8,3.3 0.8,3.1 0.8,3.2 0.8,3.1 0.8,3.2 0.8,3.4 0.8,3.4 0.8,3.4 0.8,3.5 0.8,3.4 0.8,3.3 0.8,3.3 0.8,3.3 0.8,3.2 0.8,3 0.8,2.8 0.8,2.6 0.8,2.2 0.8,2.1 0.8,1.9 0.8,1.7 0.8,1.6 0.8,1.4 0.8,1.2 0.8,1.1 0.8,1 0.8,0.9 0.8,0.7 0.8,0.7 0.8,0.5 0.8,0.4 0.8,0.4 0.8,0.3 0.8,0.2 0.8,0.2 0.8,0.1 0.8,0.1 0.8,0.2 0.8,0.1 0.8,0.1 0.8,0 0.8,0.1 0.8,0 0.8,0.1 0.8,0 0.8,0 0.8,0 0.8,0 0.8,0 0.8,0 0.8-0.1 0.8,0 0.8,0 0.8,0 0.8-0.1 0.8,0 0.8,0 0.8,0 0.8,0 0.8-0.1 0.8,0 0.8-0.1 0.8-0.1 0.8,0 0.8-0.1 0.8-0.1 0.8,0 0.8-0.1 0.8,0 0.8-0.1 0.8,0 0.8,0 0.8,0 0.8,0 0.8,0 0.8,0.1 0.8,0 0.8,0.1 0.8,0.1 0.8,0.1 0.8,0.1 0.8,0.1 0.8,0.1 0.8,0.2 0.8,0.1 0.8,0.2 0.8,0.1 0.8,0.2 0.8,0.1 0.8,0.2 0.8,0.2 0.8,0.2 0.8,0.1 0.8,0.2 0.8,0.2 0.8,0.1 0.8,0.2 0.8,0.2 0.8,0.2 0.8,0.2 0.8,0.1 0.8,0.2 0.8,0.2 0.8,0.2 0.8,0.2 0.8,0.2 0.8,0.3 0.8,0.2 0.8,0.3 0.8,0.3 0.8,0.3 0.8,0.3 0.8,0.3 0.8,0.3 0.8,0.3 0.8,0.4 0.8,0.3 0.8,0.4 0.8,0.4 0.8,0.4 0.8,0.4 0.8,0.3 0.8,0.3 0.8,0.3 0.8,0.2 0.8,0.3 0.8,0.2 0.8,0.2 0.8,0.2 0.8,0.2 0.8,0.2 0.8,0.1 0.8,0.2 0.8,0.1 0.8,0.2 0.8,0.1 0.8,0.1 0.8,0.1 0.8,0.1 0.8,0.1 0.8,0.1 0.8,0.1 0.8,0 0.8,0.1 0.8,0.1 0.8,0 0.8,0 0.8,0.1 0.8,0 0.8,0 0.8,0 0.8,0 0.8-0.1 0.8,0 0.8,0 0.8-0.1 0.8-0.1 0.8-0.1 0.8-0.1 0.8-0.1 0.8,0 0.8,0 0.8-0.1 0.8,0 0.8,0 0.8,0 0.8,0 0.8,0 0.8,0 0.8,0 0.8,0 0.8,0 0.8,0 0.8-0.1 0.8,0 0.8,0 0.8,0 0.8,0 0.8,0 0.8,0 0.8-0.1 0.8-0.1 0.8,0 0.8-0.1 0.8-0.2 0.8-0.1 0.8-0.1 0.8-0.1 0.8-0.1 0.8,0 0.8-0.1 0.8-0.1 0.8,0 0.8,0 0.8,0 0.8,0 0.8,0.1 0.8,0 0.8,0.1 0.8,0.1 0.8,0.2 0.8,0.1 0.8,0.2 0.8,0.1 0.8,0.2 0.8,0.2 0.8,0.2 0.8,0.2 0.8,0.2 0.8,0.2 0.8,0.2 0.8,0.2 0.8,0.2 0.8,0.1 0.8,0.1 0.8,0.1 0.8,0.1 0.8,0.1 0.8,0.1 0.8,0.1 0.8,0 0.8,0.1 0.8,0.1 0.8,0.1 0.8,0.1 0.8,0.1 0.8,0.1 0.8,0.2 0.8,0.2 0.8,0.2 0.8,0.2 0.8,0.2 0.8,0.2 0.8,0.3 0.8,0.3 0.8,0.4 0.8,0.4 0.8,0.4 0.8,0.4 0.8,0.5 0.8,0.5 0.8,0.4 0.8,0.5 0.8,0.5 0.8,0.4 0.8,0.5 0.8,0.4 0.8,0.4 0.8,0.4 0.8,0.4 0.8,0.3 0.8,0.3 0.8,0.3 0.8,0.3 0.8,0.4 0.8,0.3 0.8,0.2 0.8,0.3 0.8,0.2 0.8,0.2 0.8,0.2 0.8,0.2 0.8,0.1 0.8,0.1 0.8,0.1 0.8,0 0.8,0.1 0.8,0 0.8,0.1 0.8,0 0.8,0 0.8,0.1 0.8,0 0.8,0.1 0.8,0 0.8,0 0.8,0.1 0.8,0 0.8,0 0.8,0.1 0.8,0 0.8,0" fill="none" stroke="#d5d5d5" stroke-width="1.6" stroke-linejoin="round" stroke-linecap="round"/>
<path d="M75.8,55.6l0.8-0.6 0.8-0.5 0.8-0.5 0.8-0.4 0.8-0.5 0.8-0.5 0.8-0.6 0.8-0.6 0.8-0.7 0.8-1.1 0.8-1.1 0.8-1.2 0.8-0.8 0.8-0.6 0.8-0.3 0.8-0.1 0.8,0.1 0.8,0.8 0.8,1.9 0.8,2.5 0.8,2.3 0.8,2 0.8,2 0.8,2 0.8,2.1 0.8,2 0.8,2.5 0.8,2.7 0.8,2.9 0.8,3 0.8,3.2" fill="none" stroke="#d5d5d5" stroke-width="1.15" stroke-linejoin="round" stroke-linecap="round"/>
<path d="M100.6,77.5l0.8,3.3 0.8,3.3 0.8,3.4 0.8,3.4 0.8,3.3 0.8,3.1 0.8,3 0.8,2.9 0.8,3 0.8,3 0.8,3.1 0.8,3.3 0.8,3.3 0.8,3.3 0.8,3.2 0.8,3.2 0.8,3.1 0.8,3.2 0.8,3.1 0.8,2.9 0.8,2.6 0.8,2.4 0.8,2.2 0.8,1.9 0.8,1.8 0.8,1.6 0.8,1.4 0.8,1.3 0.8,1.2 0.8,1.1 0.8,0.9 0.8,0.9 0.8,0.7 0.8,0.6 0.8,0.5 0.8,0.4 0.8,0.4 0.8,0.2 0.8,0.3 0.8,0.1 0.8,0.2 0.8,0.2 0.8,0.1 0.8,0.1 0.8,0.1 0.8,0.1 0.8,0.1 0.8,0.1 0.8,0 0.8,0 0.8,0.1 0.8,0 0.8,0 0.8,0 0.8,0 0.8,0 0.8,0 0.8,0 0.8,0 0.8,0 0.8,0 0.8,0 0.8,0 0.8,0 0.8,0 0.8,0 0.8,0 0.8,0 0.8,0 0.8-0.1 0.8,0 0.8,0 0.8,0 0.8,0 0.8,0 0.8,0 0.8,0 0.8,0.1 0.8,0 0.8,0.1 0.8,0.1 0.8,0.1 0.8,0.1 0.8,0.1 0.8,0.1 0.8,0.1 0.8,0.2 0.8,0.2 0.8,0.1 0.8,0.2 0.8,0.2 0.8,0.2 0.8,0.1 0.8,0.2 0.8,0.2 0.8,0.2 0.8,0.2 0.8,0.2 0.8,0.2 0.8,0.2 0.8,0.2 0.8,0.2 0.8,0.2 0.8,0.2 0.8,0.2 0.8,0.2 0.8,0.2 0.8,0.2 0.8,0.2 0.8,0.3 0.8,0.2 0.8,0.2 0.8,0.3 0.8,0.2 0.8,0.3 0.8,0.3 0.8,0.3 0.8,0.3 0.8,0.3 0.8,0.3 0.8,0.3 0.8,0.3 0.8,0.4 0.8,0.3 0.8,0.3 0.8,0.4 0.8,0.3 0.8,0.3 0.8,0.2 0.8,0.3 0.8,0.2 0.8,0.2 0.8,0.2 0.8,0.2 0.8,0.2 0.8,0.2 0.8,0.2 0.8,0.2 0.8,0.1 0.8,0.2 0.8,0.1 0.8,0.2 0.8,0.1 0.8,0.2 0.8,0.1 0.8,0.1 0.8,0.1 0.8,0.1 0.8,0.1 0.8,0.1 0.8,0.1 0.8,0 0.8,0.1 0.8,0.1 0.8,0 0.8,0 0.8,0.1 0.8,0 0.8,0 0.8,0 0.8,0 0.8,0 0.8-0.1 0.8,0 0.8,0 0.8,0 0.8,0 0.8,0 0.8,0.1 0.8,0 0.8,0 0.8,0 0.8,0.1 0.8,0 0.8,0 0.8,0 0.8,0 0.8,0 0.8,0.1 0.8,0 0.8,0 0.8,0 0.8,0 0.8,0 0.8,0 0.8,0 0.8,0 0.8-0.1 0.8-0.1 0.8,0 0.8-0.1 0.8-0.1 0.8,0 0.8-0.1 0.8,0 0.8-0.1 0.8,0 0.8,0 0.8,0 0.8,0 0.8,0 0.8,0.1 0.8,0.1 0.8,0.1 0.8,0.1 0.8,0.1 0.8,0.1 0.8,0.2 0.8,0.1 0.8,0.2 0.8,0.1 0.8,0.2 0.8,0.2 0.8,0.2 0.8,0.2 0.8,0.1 0.8,0.2 0.8,0.2 0.8,0.1 0.8,0.1 0.8,0.1 0.8,0.1 0.8,0.1 0.8,0.1 0.8,0.1 0.8,0.1 0.8,0.1 0.8,0.1 0.8,0.1 0.8,0.1 0.8,0.1 0.8,0.2 0.8,0.1 0.8,0.2 0.8,0.2 0.8,0.2 0.8,0.2 0.8,0.2 0.8,0.3 0.8,0.2 0.8,0.4 0.8,0.3 0.8,0.4 0.8,0.4 0.8,0.3 0.8,0.4 0.8,0.4 0.8,0.4 0.8,0.5 0.8,0.4 0.8,0.4 0.8,0.3 0.8,0.4 0.8,0.4 0.8,0.3 0.8,0.3 0.8,0.3 0.8,0.3 0.8,0.2 0.8,0.3 0.8,0.3 0.8,0.3 0.8,0.2 0.8,0.2 0.8,0.2 0.8,0.2 0.8,0.1 0.8,0.1 0.8,0.1 0.8,0.1 0.8,0 0.8,0.1 0.8,0 0.8,0.1 0.8,0 0.8,0 0.8,0.1 0.8,0 0.8,0.1 0.8,0 0.8,0 0.8,0.1 0.8,0 0.8,0 0.8,0.1 0.8,0 0.8,0" fill="none" stroke="#d5d5d5" stroke-width="1.6" stroke-linejoin="round" stroke-linecap="round"/>
<path d="M75.8,46.8l0.8-0.3 0.8-0.2 0.8-0.2 0.8-0.2 0.8-0.2 0.8-0.3 0.8-0.2 0.8-0.4 0.8-0.5 0.8-0.8 0.8-1 0.8-1 0.8-0.6 0.8-0.2 0.8-0.1 0.8,0.2 0.8,0.4 0.8,1.3 0.8,2.4 0.8,3.1 0.8,3 0.8,2.5 0.8,2.5 0.8,2.6 0.8,2.6 0.8,2.6 0.8,2.8 0.8,3 0.8,3 0.8,3.2 0.8,3.2" fill="none" stroke="#d5d5d5" stroke-width="1.15" stroke-linejoin="round" stroke-linecap="round"/>
<path d="M100.6,79l0.8,3.2 0.8,3.3 0.8,3.3 0.8,3.3 0.8,3.1 0.8,3 0.8,2.7 0.8,2.8 0.8,2.7 0.8,2.8 0.8,3 0.8,3.1 0.8,3.2 0.8,3.1 0.8,3.1 0.8,2.9 0.8,3.1 0.8,3 0.8,3 0.8,2.7 0.8,2.5 0.8,2.3 0.8,2 0.8,1.8 0.8,1.6 0.8,1.5 0.8,1.4 0.8,1.2 0.8,1.1 0.8,1 0.8,0.9 0.8,0.8 0.8,0.7 0.8,0.6 0.8,0.5 0.8,0.4 0.8,0.3 0.8,0.3 0.8,0.2 0.8,0.2 0.8,0.2 0.8,0.2 0.8,0.1 0.8,0.2 0.8,0.1 0.8,0.1 0.8,0.1 0.8,0.1 0.8,0 0.8,0.1 0.8,0 0.8,0 0.8,0.1 0.8,0 0.8,0 0.8,0 0.8,0.1 0.8,0 0.8,0 0.8,0 0.8,0.1 0.8,0 0.8,0 0.8,0.1 0.8,0 0.8,0.1 0.8,0 0.8,0 0.8,0 0.8,0.1 0.8,0 0.8,0 0.8,0.1 0.8,0 0.8,0 0.8,0.1 0.8,0.1 0.8,0.1 0.8,0 0.8,0.1 0.8,0.2 0.8,0.1 0.8,0.1 0.8,0.2 0.8,0.1 0.8,0.2 0.8,0.2 0.8,0.2 0.8,0.2 0.8,0.2 0.8,0.2 0.8,0.2 0.8,0.2 0.8,0.2 0.8,0.2 0.8,0.3 0.8,0.2 0.8,0.2 0.8,0.2 0.8,0.3 0.8,0.2 0.8,0.2 0.8,0.2 0.8,0.2 0.8,0.3 0.8,0.2 0.8,0.2 0.8,0.2 0.8,0.3 0.8,0.2 0.8,0.2 0.8,0.3 0.8,0.2 0.8,0.3 0.8,0.2 0.8,0.3 0.8,0.3 0.8,0.3 0.8,0.2 0.8,0.3 0.8,0.3 0.8,0.3 0.8,0.3 0.8,0.3 0.8,0.3 0.8,0.3 0.8,0.3 0.8,0.2 0.8,0.3 0.8,0.2 0.8,0.2 0.8,0.2 0.8,0.3 0.8,0.2 0.8,0.2 0.8,0.2 0.8,0.2 0.8,0.2 0.8,0.1 0.8,0.2 0.8,0.2 0.8,0.2 0.8,0.1 0.8,0.2 0.8,0.2 0.8,0.1 0.8,0.1 0.8,0.2 0.8,0.1 0.8,0.1 0.8,0.1 0.8,0.1 0.8,0.1 0.8,0.1 0.8,0.1 0.8,0.1 0.8,0.1 0.8,0.1 0.8,0 0.8,0.1 0.8,0 0.8,0.1 0.8,0 0.8,0 0.8,0.1 0.8,0 0.8,0.1 0.8,0 0.8,0.1 0.8,0 0.8,0.1 0.8,0.1 0.8,0 0.8,0.1 0.8,0 0.8,0 0.8,0.1 0.8,0 0.8,0.1 0.8,0 0.8,0 0.8,0.1 0.8,0 0.8,0 0.8,0 0.8,0.1 0.8,0 0.8,0 0.8-0.1 0.8,0 0.8,0 0.8,0 0.8-0.1 0.8,0 0.8,0 0.8,0 0.8,0 0.8,0 0.8,0 0.8,0 0.8,0.1 0.8,0 0.8,0.1 0.8,0.1 0.8,0.1 0.8,0.1 0.8,0.1 0.8,0.2 0.8,0.1 0.8,0.1 0.8,0.2 0.8,0.1 0.8,0.2 0.8,0.1 0.8,0.2 0.8,0.1 0.8,0.2 0.8,0.1 0.8,0.1 0.8,0.2 0.8,0.1 0.8,0.1 0.8,0.1 0.8,0.1 0.8,0.1 0.8,0.1 0.8,0.1 0.8,0.2 0.8,0.1 0.8,0.1 0.8,0.1 0.8,0.2 0.8,0.2 0.8,0.1 0.8,0.2 0.8,0.2 0.8,0.2 0.8,0.2 0.8,0.3 0.8,0.2 0.8,0.3 0.8,0.2 0.8,0.3 0.8,0.4 0.8,0.3 0.8,0.3 0.8,0.3 0.8,0.4 0.8,0.3 0.8,0.4 0.8,0.3 0.8,0.4 0.8,0.3 0.8,0.3 0.8,0.3 0.8,0.3 0.8,0.2 0.8,0.3 0.8,0.2 0.8,0.3 0.8,0.2 0.8,0.3 0.8,0.2 0.8,0.2 0.8,0.2 0.8,0.1 0.8,0.1 0.8,0.1 0.8,0.1 0.8,0.1 0.8,0 0.8,0.1 0.8,0 0.8,0.1 0.8,0 0.8,0 0.8,0.1 0.8,0 0.8,0.1 0.8,0 0.8,0 0.8,0.1 0.8,0 0.8,0 0.8,0.1 0.8,0 0.8,0" fill="none" stroke="#d5d5d5" stroke-width="1.6" stroke-linejoin="round" stroke-linecap="round"/>
<path d="M75.8,134.5l0.8-3 0.8-3 0.8-2.9 0.8-2.9 0.8-3 0.8-2.9 0.8-2.9 0.8-3 0.8-2.9 0.8-2.9 0.8-3 0.8-2.9 0.8-2.9 0.8-3 0.8-2.9 0.8-3 0.8-2.9 0.8-2.9 0.8-3 0.8-2.9 0.8-2.9 0.8-3 0.8-2.9 0.8-2.9" fill="none" stroke="#00c400" stroke-width="1.5" stroke-linejoin="round" stroke-linecap="round"/>
<path d="M110.2,118l0.8,4.7 0.8,4.8 0.8,4.7 0.8,4.7 0.8,4.6 0.8,4.4 0.8,4.1 0.8,3.9 0.8,3.9 0.8,3.7 0.8,3.5 0.8,3.2 0.8,2.9 0.8,2.6 0.8,2.3 0.8,2 0.8,1.8 0.8,1.6 0.8,1.3 0.8,1.2 0.8,0.9 0.8,0.8 0.8,0.7 0.8,0.5 0.8,0.4 0.8,0.3 0.8,0.2 0.8,0.1 0.8,0.1 0.8,0 0.8,0 0.8,0 0.8-0.1 0.8,0 0.8,0 0.8-0.1 0.8-0.1 0.8-0.1 0.8-0.1 0.8-0.1 0.8-0.2 0.8-0.2 0.8-0.1 0.8-0.2 0.8-0.2 0.8-0.2 0.8-0.2 0.8-0.3 0.8-0.2 0.8-0.3 0.8-0.2 0.8-0.3 0.8-0.4 0.8-0.4 0.8-0.4 0.8-0.4 0.8-0.4 0.8-0.5 0.8-0.5 0.8-0.4 0.8-0.5 0.8-0.4 0.8-0.4 0.8-0.3 0.8-0.4 0.8-0.2 0.8-0.3 0.8-0.3 0.8-0.2 0.8-0.2 0.8-0.2 0.8-0.2 0.8-0.2 0.8-0.1 0.8-0.2 0.8-0.1 0.8-0.1 0.8-0.1 0.8-0.1 0.8,0 0.8-0.1 0.8-0.1 0.8,0 0.8-0.1 0.8,0 0.8,0 0.8,0 0.8-0.1 0.8,0 0.8,0 0.8,0 0.8,0 0.8,0.1 0.8,0 0.8,0 0.8,0.1 0.8,0.1 0.8,0.1 0.8,0.1 0.8,0.1 0.8,0.3 0.8,0.2 0.8,0.4 0.8,0.4 0.8,0.5 0.8,0.5 0.8,0.5 0.8,0.5 0.8,0.6 0.8,0.7 0.8,0.7 0.8,0.7 0.8,0.7 0.8,0.7 0.8,0.6 0.8,0.5 0.8,0.4 0.8,0.4 0.8,0.3 0.8,0.2 0.8,0.2 0.8,0.1 0.8,0.1 0.8,0.1 0.8,0 0.8,0 0.8-0.1 0.8,0 0.8-0.1 0.8-0.1 0.8-0.1 0.8-0.2 0.8-0.1 0.8-0.2 0.8-0.1 0.8-0.2 0.8-0.2 0.8-0.2 0.8-0.3 0.8-0.2 0.8-0.3 0.8-0.3 0.8-0.3 0.8-0.4 0.8-0.3 0.8-0.4 0.8-0.4 0.8-0.5 0.8-0.6 0.8-0.6 0.8-0.7 0.8-0.6 0.8-0.5 0.8-0.4 0.8-0.3" fill="none" stroke="#00c400" stroke-width="1.5" stroke-linejoin="round" stroke-linecap="round"/>
<path d="M302.2,188l0.8,0.7 0.8,0.7 0.8,0.7 0.8,0.5 0.8,0.6 0.8,0.5 0.8,0.5 0.8,0.5 0.8,0.5 0.8,0.5 0.8,0.5 0.8,0.4 0.8,0.3 0.8,0.3 0.8,0.2 0.8,0.2 0.8,0.2 0.8,0.1 0.8,0.1 0.8,0.1 0.8,0 0.8,0.1 0.8,0 0.8,0.1 0.8,0 0.8,0 0.8,0.1 0.8,0 0.8,0 0.8,0.1 0.8,0 0.8,0 0.8,0 0.8,0.1 0.8,0" fill="none" stroke="#00c400" stroke-width="1.5" stroke-linejoin="round" stroke-linecap="round"/>
<path d="M75.8,37.1l0.8,0 0.8,0 0.8,0.1 0.8,0.1 0.8,0.1 0.8,0.1 0.8,0 0.8,0 0.8-0.3 0.8-0.6 0.8-0.7 0.8-0.8 0.8-0.3 0.8,0 0.8,0.3 0.8,0.5 0.8,0.8 0.8,1.7 0.8,3.1 0.8,3.7 0.8,3.6 0.8,3.2 0.8,3.1 0.8,3.2 0.8,3.2 0.8,3.3 0.8,3.2 0.8,3.3 0.8,3.2 0.8,3.2 0.8,3.2 0.8,3.3 0.8,3.2 0.8,3.2 0.8,3.1 0.8,3 0.8,2.7 0.8,2.6 0.8,2.5 0.8,2.5 0.8,2.6 0.8,2.8 0.8,2.9 0.8,3 0.8,3 0.8,2.8 0.8,2.8 0.8,2.9 0.8,2.9 0.8,2.8 0.8,2.6 0.8,2.4 0.8,2.1 0.8,1.8 0.8,1.6 0.8,1.5 0.8,1.4 0.8,1.3 0.8,1.1 0.8,1 0.8,1 0.8,0.8 0.8,0.8 0.8,0.7 0.8,0.5 0.8,0.5 0.8,0.4 0.8,0.3 0.8,0.3 0.8,0.2 0.8,0.2 0.8,0.2 0.8,0.2 0.8,0.2 0.8,0.1 0.8,0.2 0.8,0.1 0.8,0.1 0.8,0.1 0.8,0.1 0.8,0 0.8,0.1 0.8,0 0.8,0.1 0.8,0 0.8,0.1 0.8,0 0.8,0 0.8,0.1 0.8,0 0.8,0.1 0.8,0.1 0.8,0 0.8,0.1 0.8,0.1 0.8,0.1 0.8,0.1 0.8,0 0.8,0.1 0.8,0.1 0.8,0.1 0.8,0 0.8,0.1 0.8,0.1 0.8,0.1 0.8,0.1 0.8,0.1 0.8,0.1 0.8,0.2 0.8,0.1 0.8,0.1 0.8,0.2 0.8,0.1 0.8,0.2 0.8,0.2 0.8,0.2 0.8,0.2 0.8,0.2 0.8,0.2 0.8,0.3 0.8,0.2 0.8,0.2 0.8,0.3 0.8,0.2 0.8,0.3 0.8,0.2 0.8,0.3 0.8,0.2 0.8,0.3 0.8,0.2 0.8,0.3 0.8,0.2 0.8,0.3 0.8,0.2 0.8,0.3 0.8,0.2 0.8,0.3 0.8,0.2 0.8,0.3 0.8,0.2 0.8,0.3 0.8,0.2 0.8,0.3 0.8,0.2 0.8,0.3 0.8,0.2 0.8,0.3 0.8,0.2 0.8,0.3 0.8,0.2 0.8,0.3 0.8,0.2 0.8,0.3 0.8,0.2 0.8,0.3 0.8,0.2 0.8,0.3 0.8,0.2 0.8,0.2 0.8,0.3 0.8,0.2 0.8,0.2 0.8,0.2 0.8,0.2 0.8,0.3 0.8,0.2 0.8,0.2 0.8,0.2 0.8,0.2 0.8,0.2 0.8,0.2 0.8,0.2 0.8,0.2 0.8,0.2 0.8,0.2 0.8,0.2 0.8,0.2 0.8,0.2 0.8,0.2 0.8,0.1 0.8,0.2 0.8,0.1 0.8,0.2 0.8,0.1 0.8,0.1 0.8,0.2 0.8,0.1 0.8,0.1 0.8,0.2 0.8,0.1 0.8,0.1 0.8,0.1 0.8,0.1 0.8,0.1 0.8,0.1 0.8,0.1 0.8,0.1 0.8,0.1 0.8,0.1 0.8,0.1 0.8,0.1 0.8,0.1 0.8,0.1 0.8,0.1 0.8,0.1 0.8,0 0.8,0.1 0.8,0.1 0.8,0.1 0.8,0 0.8,0.1 0.8,0 0.8,0.1 0.8,0.1 0.8,0 0.8,0.1 0.8,0 0.8,0.1 0.8,0 0.8,0 0.8,0 0.8,0 0.8,0.1 0.8,0 0.8,0 0.8,0 0.8,0 0.8,0 0.8,0.1 0.8,0 0.8,0.1 0.8,0 0.8,0.1 0.8,0.1 0.8,0.1 0.8,0.1 0.8,0.1 0.8,0.1 0.8,0.1 0.8,0.1 0.8,0.1 0.8,0.1 0.8,0.1 0.8,0.2 0.8,0.1 0.8,0.1 0.8,0.1 0.8,0.1 0.8,0.2 0.8,0.1 0.8,0.1 0.8,0.1 0.8,0.2 0.8,0.1 0.8,0.1 0.8,0.1 0.8,0.2 0.8,0.1 0.8,0.1 0.8,0.2 0.8,0.1 0.8,0.2 0.8,0.1 0.8,0.2 0.8,0.2 0.8,0.2 0.8,0.1 0.8,0.2 0.8,0.2 0.8,0.2 0.8,0.2 0.8,0.2 0.8,0.3 0.8,0.2 0.8,0.2 0.8,0.3 0.8,0.2 0.8,0.3 0.8,0.3 0.8,0.2 0.8,0.3 0.8,0.3 0.8,0.3 0.8,0.3 0.8,0.2 0.8,0.3 0.8,0.2 0.8,0.3 0.8,0.2 0.8,0.2 0.8,0.3 0.8,0.2 0.8,0.2 0.8,0.2 0.8,0.1 0.8,0.2 0.8,0.1 0.8,0.1 0.8,0.1 0.8,0.1 0.8,0.1 0.8,0 0.8,0 0.8,0.1 0.8,0 0.8,0.1 0.8,0 0.8,0 0.8,0.1 0.8,0 0.8,0.1 0.8,0 0.8,0 0.8,0.1 0.8,0 0.8,0 0.8,0.1 0.8,0" fill="none" stroke="#f545dc" stroke-width="1.6" stroke-linejoin="round" stroke-linecap="round"/>
</g>
<line x1="77" y1="199" x2="77" y2="203.5" stroke="#000" stroke-width="1.6"/>
<text x="77" y="217" font-size="12" font-weight="bold" text-anchor="middle">250</text>
<line x1="123.9" y1="199" x2="123.9" y2="203.5" stroke="#000" stroke-width="1.6"/>
<text x="123.9" y="217" font-size="12" font-weight="bold" text-anchor="middle">300</text>
<line x1="170.9" y1="199" x2="170.9" y2="203.5" stroke="#000" stroke-width="1.6"/>
<text x="170.9" y="217" font-size="12" font-weight="bold" text-anchor="middle">350</text>
<line x1="217.8" y1="199" x2="217.8" y2="203.5" stroke="#000" stroke-width="1.6"/>
<text x="217.8" y="217" font-size="12" font-weight="bold" text-anchor="middle">400</text>
<line x1="264.8" y1="199" x2="264.8" y2="203.5" stroke="#000" stroke-width="1.6"/>
<text x="264.8" y="217" font-size="12" font-weight="bold" text-anchor="middle">450</text>
<line x1="311.7" y1="199" x2="311.7" y2="203.5" stroke="#000" stroke-width="1.6"/>
<text x="311.7" y="217" font-size="12" font-weight="bold" text-anchor="middle">500</text>
<line x1="72.5" y1="199" x2="77" y2="199" stroke="#000" stroke-width="1.6"/>
<text x="70.5" y="203.3" font-size="12" font-weight="bold" text-anchor="end">0.0</text>
<line x1="72.5" y1="162.1" x2="77" y2="162.1" stroke="#000" stroke-width="1.6"/>
<text x="70.5" y="166.4" font-size="12" font-weight="bold" text-anchor="end">0.1</text>
<line x1="72.5" y1="125.2" x2="77" y2="125.2" stroke="#000" stroke-width="1.6"/>
<text x="70.5" y="129.5" font-size="12" font-weight="bold" text-anchor="end">0.2</text>
<line x1="72.5" y1="88.3" x2="77" y2="88.3" stroke="#000" stroke-width="1.6"/>
<text x="70.5" y="92.6" font-size="12" font-weight="bold" text-anchor="end">0.3</text>
<line x1="72.5" y1="51.4" x2="77" y2="51.4" stroke="#000" stroke-width="1.6"/>
<text x="70.5" y="55.7" font-size="12" font-weight="bold" text-anchor="end">0.4</text>
<text x="204" y="235.5" font-size="14" font-weight="bold" text-anchor="middle">Wavelength / nm</text>
<text x="0" y="0" font-size="14" font-weight="bold" text-anchor="middle" transform="translate(45.5 114) rotate(-90)">Absorbance</text>
<rect x="182.4" y="35.1" width="144.6" height="95.4" fill="#fff"/>
<defs><clipPath id="cia"><rect x="182.4" y="35.1" width="144.6" height="95.4"/></clipPath></defs>
<g clip-path="url(#cia)">
<line x1="182.5" y1="100.3" x2="327" y2="100.3" stroke="#333" stroke-width="1" stroke-dasharray="1.2 2.3"/>
<path d="M182.5,69.3l0.5,0.4 0.5,0.4 0.5,0.4 0.5,0.4 0.5,0.4 0.5,0.5 0.5,0.5 0.5,1.4 0.5,1.6 0.5,1.5 0.5,1.6 0.5,1.6 0.5,1.6 0.5,1.5 0.5,1.5 0.5,1.4 0.5,1.3 0.5,1.1 0.5,0.9 0.5,1.1 0.5,1.8 0.5,1.9 0.5,1.3 0.5,1.1 0.5,1 0.5,0.8 0.5,0.5 0.5,0.2 0.5,0 0.5-0.1 0.5-0.4 0.5-0.5 0.5-0.7 0.5-0.8 0.5-0.7 0.5-0.7 0.5-0.6 0.5-0.6 0.5-0.6 0.5-0.6 0.5-0.5 0.5-0.6 0.5-0.6 0.5-0.5 0.5-0.5 0.5-0.5 0.5-0.3 0.5-0.3 0.5-0.2 0.5-0.2 0.5-0.1 0.5-0.1 0.5-0.1 0.5-0.2 0.5-0.1 0.5,0 0.5-0.1 0.5-0.1 0.5,0 0.5,0 0.5,0 0.5,0 0.5,0 0.5,0 0.5,0 0.5,0.1 0.5,0 0.5,0.1 0.5,0 0.5,0.1 0.5,0 0.5,0.1 0.5,0.1 0.5,0.1 0.5,0.1 0.5,0.1 0.5,0.1 0.5,0.1 0.5,0.1 0.5,0.1 0.5,0.1 0.5,0.1 0.5,0.2 0.5,0.1 0.5,0.1 0.5,0.1 0.5,0.2 0.5,0.1 0.5,0.1 0.5,0.2 0.5,0.1 0.5,0.2 0.5,0.1 0.5,0.2 0.5,0.2 0.5,0.2 0.5,0.2 0.5,0.1 0.5,0.2 0.5,0.2 0.5,0.2 0.5,0.2 0.5,0.1 0.5,0.2 0.5,0.1 0.5,0.2 0.5,0.1 0.5,0.2 0.5,0.1 0.5,0.2 0.5,0.1 0.5,0.1 0.5,0.2 0.5,0.1 0.5,0.1 0.5,0.2 0.5,0.1 0.5,0.1 0.5,0.2 0.5,0.1 0.5,0.1 0.5,0.1 0.5,0.1 0.5,0.1 0.5,0.2 0.5,0.1 0.5,0.1 0.5,0.1 0.5,0.1 0.5,0 0.5,0 0.5,0 0.5,0 0.5,0 0.5,0 0.5-0.1 0.5,0 0.5,0 0.5,0 0.5,0 0.5,0 0.5,0 0.5,0 0.5,0 0.5,0.1 0.5,0 0.5,0.1 0.5,0 0.5,0.1 0.5,0.1 0.5,0.1 0.5,0.1 0.5,0.1 0.5,0.2 0.5,0.1 0.5,0.1 0.5,0.1 0.5,0.2 0.5,0.1 0.5,0.2 0.5,0.1 0.5,0.2 0.5,0.2 0.5,0.2 0.5,0.2 0.5,0.2 0.5,0.2 0.5,0.1 0.5,0.2 0.5,0.2 0.5,0.2 0.5,0.2 0.5,0.1 0.5,0.2 0.5,0.1 0.5,0.1 0.5,0.1 0.5,0 0.5,0 0.5-0.1 0.5-0.2 0.5-0.1 0.5,0 0.5,0 0.5,0.1 0.5,0 0.5,0.1 0.5,0 0.5,0.1 0.5,0.1 0.5,0.1 0.5,0.1 0.5,0 0.5,0.1 0.5,0.1 0.5,0.1 0.5,0.1 0.5,0 0.5,0.1 0.5,0.1 0.5,0.1 0.5,0.1 0.5,0.1 0.5,0.1 0.5,0 0.5,0.1 0.5,0.1 0.5,0.1 0.5,0.1 0.5,0 0.5,0 0.5,0.1 0.5,0 0.5,0 0.5-0.1 0.5,0 0.5-0.1 0.5,0 0.5,0 0.5-0.1 0.5,0 0.5,0 0.5-0.1 0.5,0 0.5-0.1 0.5,0 0.5,0 0.5,0 0.5,0 0.5,0 0.5,0.1 0.5,0 0.5,0 0.5,0.1 0.5,0 0.5,0.1 0.5,0.1 0.5,0.1 0.5,0 0.5,0 0.5,0 0.5,0 0.5,0 0.5-0.1 0.5-0.1 0.5-0.1 0.5-0.1 0.5-0.1 0.5-0.1 0.5-0.2 0.5-0.1 0.5-0.1 0.5-0.2 0.5-0.1 0.5-0.2 0.5-0.1 0.5-0.1 0.5-0.2 0.5-0.1 0.5-0.1 0.5-0.1 0.5-0.1 0.5-0.1 0.5,0 0.5-0.1 0.5,0 0.5,0 0.5-0.1 0.5,0 0.5,0 0.5,0 0.5,0 0.5,0 0.5-0.1 0.5,0 0.5,0 0.5,0 0.5,0 0.5,0 0.5,0 0.5,0 0.5-0.1 0.5,0 0.5,0 0.5,0 0.5,0 0.5,0 0.5,0 0.5,0" fill="none" stroke="#d5d5d5" stroke-width="1.3" stroke-linejoin="round" stroke-linecap="round"/>
<path d="M182.5,57.1l0.5,0.4 0.5,0.3 0.5,0.4 0.5,0.4 0.5,0.4 0.5,0.4 0.5,0.4 0.5,2.3 0.5,2.3 0.5,2.3 0.5,2.4 0.5,2.4 0.5,2.3 0.5,2.3 0.5,2.3 0.5,2.1 0.5,1.9 0.5,1.7 0.5,1.5 0.5,1.8 0.5,3.1 0.5,3.7 0.5,2.2 0.5,1.9 0.5,1.6 0.5,1.3 0.5,0.8 0.5,0.2 0.5-0.2 0.5-0.5 0.5-0.7 0.5-0.9 0.5-1.2 0.5-1.2 0.5-1.1 0.5-1.2 0.5-1 0.5-1.1 0.5-1.1 0.5-1 0.5-1 0.5-1 0.5-1 0.5-1 0.5-0.9 0.5-0.8 0.5-0.6 0.5-0.5 0.5-0.4 0.5-0.2 0.5-0.2 0.5-0.2 0.5-0.1 0.5-0.2 0.5-0.2 0.5-0.1 0.5-0.1 0.5,0 0.5-0.1 0.5,0 0.5,0 0.5,0.1 0.5,0 0.5,0.1 0.5,0.1 0.5,0.1 0.5,0.1 0.5,0 0.5,0.1 0.5,0.1 0.5,0.1 0.5,0.1 0.5,0.1 0.5,0.1 0.5,0.2 0.5,0.1 0.5,0.1 0.5,0.2 0.5,0.1 0.5,0.2 0.5,0.2 0.5,0.1 0.5,0.2 0.5,0.2 0.5,0.1 0.5,0.2 0.5,0.2 0.5,0.2 0.5,0.2 0.5,0.2 0.5,0.2 0.5,0.2 0.5,0.3 0.5,0.3 0.5,0.2 0.5,0.3 0.5,0.3 0.5,0.3 0.5,0.2 0.5,0.3 0.5,0.3 0.5,0.3 0.5,0.2 0.5,0.3 0.5,0.2 0.5,0.2 0.5,0.2 0.5,0.2 0.5,0.2 0.5,0.2 0.5,0.2 0.5,0.2 0.5,0.2 0.5,0.2 0.5,0.2 0.5,0.2 0.5,0.2 0.5,0.1 0.5,0.2 0.5,0.2 0.5,0.2 0.5,0.2 0.5,0.2 0.5,0.1 0.5,0.2 0.5,0.2 0.5,0.1 0.5,0.2 0.5,0.1 0.5,0 0.5,0 0.5,0 0.5-0.1 0.5-0.1 0.5-0.1 0.5-0.1 0.5-0.1 0.5-0.1 0.5-0.1 0.5-0.1 0.5,0 0.5-0.1 0.5-0.1 0.5,0 0.5,0 0.5,0 0.5,0.1 0.5,0.1 0.5,0 0.5,0.2 0.5,0.1 0.5,0.1 0.5,0.1 0.5,0.2 0.5,0.1 0.5,0.2 0.5,0.1 0.5,0.2 0.5,0.2 0.5,0.2 0.5,0.3 0.5,0.2 0.5,0.3 0.5,0.3 0.5,0.3 0.5,0.3 0.5,0.3 0.5,0.2 0.5,0.3 0.5,0.3 0.5,0.3 0.5,0.3 0.5,0.2 0.5,0.3 0.5,0.2 0.5,0.2 0.5,0.2 0.5,0.1 0.5,0 0.5,0 0.5-0.1 0.5,0 0.5,0.1 0.5,0.1 0.5,0.1 0.5,0.1 0.5,0.2 0.5,0.1 0.5,0.2 0.5,0.1 0.5,0.2 0.5,0.1 0.5,0.2 0.5,0.1 0.5,0.2 0.5,0.2 0.5,0.1 0.5,0.2 0.5,0.1 0.5,0.2 0.5,0.1 0.5,0.2 0.5,0.2 0.5,0.1 0.5,0.2 0.5,0.1 0.5,0.2 0.5,0.1 0.5,0.2 0.5,0.1 0.5,0 0.5,0.1 0.5,0 0.5-0.1 0.5,0 0.5-0.1 0.5-0.1 0.5-0.1 0.5-0.1 0.5-0.1 0.5-0.1 0.5-0.1 0.5-0.1 0.5,0 0.5-0.1 0.5-0.1 0.5,0 0.5-0.1 0.5,0.1 0.5,0 0.5,0.1 0.5,0 0.5,0.1 0.5,0.1 0.5,0.1 0.5,0.1 0.5,0.2 0.5,0.1 0.5,0.1 0.5,0.1 0.5,0 0.5-0.1 0.5-0.1 0.5-0.2 0.5-0.2 0.5-0.2 0.5-0.2 0.5-0.2 0.5-0.2 0.5-0.3 0.5-0.3 0.5-0.3 0.5-0.3 0.5-0.3 0.5-0.2 0.5-0.3 0.5-0.3 0.5-0.3 0.5-0.2 0.5-0.2 0.5-0.2 0.5-0.2 0.5-0.1 0.5-0.1 0.5-0.1 0.5,0 0.5-0.1 0.5,0 0.5-0.1 0.5,0 0.5,0 0.5,0 0.5,0 0.5,0 0.5-0.1 0.5,0 0.5,0 0.5,0 0.5,0 0.5,0 0.5,0 0.5,0 0.5,0 0.5,0 0.5,0 0.5-0.1 0.5,0 0.5,0 0.5,0" fill="none" stroke="#d5d5d5" stroke-width="1.3" stroke-linejoin="round" stroke-linecap="round"/>
<path d="M182.5,45l0.5,0.3 0.5,0.3 0.5,0.3 0.5,0.4 0.5,0.3 0.5,0.4 0.5,0.4 0.5,3 0.5,3.1 0.5,3.1 0.5,3.2 0.5,3.1 0.5,3.1 0.5,3.1 0.5,3.1 0.5,2.8 0.5,2.6 0.5,2.2 0.5,2.1 0.5,2.5 0.5,4.5 0.5,5.3 0.5,3.2 0.5,2.7 0.5,2.3 0.5,1.7 0.5,1 0.5,0.3 0.5-0.4 0.5-0.8 0.5-1.1 0.5-1.3 0.5-1.6 0.5-1.7 0.5-1.6 0.5-1.5 0.5-1.6 0.5-1.5 0.5-1.5 0.5-1.5 0.5-1.4 0.5-1.5 0.5-1.4 0.5-1.4 0.5-1.3 0.5-1.2 0.5-0.9 0.5-0.7 0.5-0.5 0.5-0.4 0.5-0.2 0.5-0.2 0.5-0.2 0.5-0.3 0.5-0.2 0.5-0.1 0.5-0.2 0.5,0 0.5-0.1 0.5,0.1 0.5,0 0.5,0.1 0.5,0.1 0.5,0.1 0.5,0.1 0.5,0.2 0.5,0.1 0.5,0.1 0.5,0.1 0.5,0.2 0.5,0.1 0.5,0.1 0.5,0.2 0.5,0.1 0.5,0.2 0.5,0.1 0.5,0.2 0.5,0.2 0.5,0.2 0.5,0.2 0.5,0.2 0.5,0.2 0.5,0.2 0.5,0.2 0.5,0.3 0.5,0.2 0.5,0.2 0.5,0.3 0.5,0.2 0.5,0.3 0.5,0.3 0.5,0.3 0.5,0.3 0.5,0.4 0.5,0.3 0.5,0.4 0.5,0.4 0.5,0.4 0.5,0.4 0.5,0.3 0.5,0.4 0.5,0.4 0.5,0.3 0.5,0.3 0.5,0.3 0.5,0.3 0.5,0.3 0.5,0.2 0.5,0.3 0.5,0.2 0.5,0.3 0.5,0.2 0.5,0.3 0.5,0.2 0.5,0.3 0.5,0.2 0.5,0.3 0.5,0.3 0.5,0.2 0.5,0.3 0.5,0.2 0.5,0.3 0.5,0.2 0.5,0.2 0.5,0.3 0.5,0.2 0.5,0.2 0.5,0.2 0.5,0.1 0.5,0 0.5,0 0.5-0.1 0.5-0.1 0.5-0.2 0.5-0.2 0.5-0.2 0.5-0.2 0.5-0.1 0.5-0.2 0.5-0.1 0.5-0.2 0.5-0.1 0.5-0.1 0.5-0.1 0.5,0 0.5,0 0.5,0 0.5,0.1 0.5,0.1 0.5,0.1 0.5,0.1 0.5,0.2 0.5,0.1 0.5,0.2 0.5,0.1 0.5,0.2 0.5,0.2 0.5,0.3 0.5,0.2 0.5,0.3 0.5,0.3 0.5,0.4 0.5,0.3 0.5,0.4 0.5,0.4 0.5,0.4 0.5,0.4 0.5,0.3 0.5,0.4 0.5,0.4 0.5,0.4 0.5,0.4 0.5,0.4 0.5,0.3 0.5,0.3 0.5,0.3 0.5,0.2 0.5,0.2 0.5,0.2 0.5,0 0.5,0 0.5,0.1 0.5,0.2 0.5,0.1 0.5,0.3 0.5,0.2 0.5,0.2 0.5,0.2 0.5,0.2 0.5,0.3 0.5,0.2 0.5,0.2 0.5,0.3 0.5,0.2 0.5,0.2 0.5,0.2 0.5,0.3 0.5,0.2 0.5,0.2 0.5,0.3 0.5,0.2 0.5,0.2 0.5,0.3 0.5,0.2 0.5,0.2 0.5,0.3 0.5,0.2 0.5,0.2 0.5,0.2 0.5,0.1 0.5,0.1 0.5,0.1 0.5,0 0.5-0.1 0.5-0.1 0.5-0.2 0.5-0.1 0.5-0.2 0.5-0.1 0.5-0.1 0.5-0.1 0.5-0.2 0.5-0.1 0.5-0.1 0.5-0.2 0.5-0.1 0.5-0.1 0.5,0 0.5,0 0.5,0.1 0.5,0.1 0.5,0.1 0.5,0.1 0.5,0.1 0.5,0.2 0.5,0.1 0.5,0.2 0.5,0.2 0.5,0.2 0.5,0.1 0.5,0 0.5-0.1 0.5-0.2 0.5-0.2 0.5-0.3 0.5-0.3 0.5-0.4 0.5-0.3 0.5-0.4 0.5-0.4 0.5-0.4 0.5-0.4 0.5-0.5 0.5-0.4 0.5-0.4 0.5-0.4 0.5-0.4 0.5-0.4 0.5-0.4 0.5-0.3 0.5-0.3 0.5-0.2 0.5-0.2 0.5-0.2 0.5-0.1 0.5-0.1 0.5-0.1 0.5,0 0.5-0.1 0.5,0 0.5,0 0.5,0 0.5,0 0.5,0 0.5,0 0.5,0 0.5-0.1 0.5,0 0.5,0 0.5,0 0.5,0 0.5,0 0.5,0 0.5,0 0.5,0 0.5,0 0.5,0 0.5,0 0.5,0" fill="none" stroke="#d5d5d5" stroke-width="1.3" stroke-linejoin="round" stroke-linecap="round"/>
<path d="M182.5,32.8l0.5,0.3 0.5,0.3 0.5,0.3 0.5,0.2 0.5,0.3 0.5,0.3 0.5,0.4 0.5,3.8 0.5,3.9 0.5,3.9 0.5,3.9 0.5,4 0.5,3.9 0.5,3.8 0.5,3.8 0.5,3.6 0.5,3.3 0.5,2.8 0.5,2.5 0.5,3.3 0.5,5.9 0.5,7 0.5,4.1 0.5,3.5 0.5,2.9 0.5,2.3 0.5,1.2 0.5,0.3 0.5-0.6 0.5-1.1 0.5-1.4 0.5-1.8 0.5-2.1 0.5-2.1 0.5-2 0.5-2 0.5-2 0.5-2 0.5-2 0.5-1.9 0.5-1.9 0.5-1.9 0.5-1.9 0.5-1.8 0.5-1.7 0.5-1.5 0.5-1.2 0.5-0.9 0.5-0.7 0.5-0.4 0.5-0.3 0.5-0.3 0.5-0.2 0.5-0.3 0.5-0.3 0.5-0.2 0.5-0.1 0.5-0.1 0.5,0 0.5,0 0.5,0.1 0.5,0.1 0.5,0.1 0.5,0.2 0.5,0.2 0.5,0.1 0.5,0.2 0.5,0.2 0.5,0.1 0.5,0.2 0.5,0.2 0.5,0.1 0.5,0.2 0.5,0.2 0.5,0.2 0.5,0.2 0.5,0.2 0.5,0.2 0.5,0.3 0.5,0.2 0.5,0.2 0.5,0.3 0.5,0.3 0.5,0.2 0.5,0.3 0.5,0.3 0.5,0.2 0.5,0.4 0.5,0.3 0.5,0.3 0.5,0.4 0.5,0.4 0.5,0.4 0.5,0.4 0.5,0.5 0.5,0.4 0.5,0.5 0.5,0.5 0.5,0.5 0.5,0.5 0.5,0.4 0.5,0.5 0.5,0.4 0.5,0.4 0.5,0.3 0.5,0.4 0.5,0.3 0.5,0.4 0.5,0.3 0.5,0.3 0.5,0.3 0.5,0.3 0.5,0.3 0.5,0.3 0.5,0.3 0.5,0.3 0.5,0.4 0.5,0.3 0.5,0.3 0.5,0.3 0.5,0.3 0.5,0.3 0.5,0.3 0.5,0.3 0.5,0.3 0.5,0.3 0.5,0.2 0.5,0.3 0.5,0.1 0.5,0.1 0.5-0.1 0.5-0.1 0.5-0.3 0.5-0.2 0.5-0.3 0.5-0.3 0.5-0.2 0.5-0.2 0.5-0.3 0.5-0.2 0.5-0.2 0.5-0.2 0.5-0.2 0.5-0.1 0.5-0.1 0.5,0 0.5,0 0.5,0.1 0.5,0.1 0.5,0.1 0.5,0.2 0.5,0.1 0.5,0.2 0.5,0.2 0.5,0.2 0.5,0.2 0.5,0.3 0.5,0.2 0.5,0.3 0.5,0.4 0.5,0.4 0.5,0.4 0.5,0.4 0.5,0.5 0.5,0.5 0.5,0.5 0.5,0.5 0.5,0.4 0.5,0.5 0.5,0.5 0.5,0.5 0.5,0.5 0.5,0.5 0.5,0.4 0.5,0.4 0.5,0.4 0.5,0.3 0.5,0.3 0.5,0.2 0.5,0.1 0.5,0.2 0.5,0.1 0.5,0.3 0.5,0.2 0.5,0.3 0.5,0.3 0.5,0.3 0.5,0.3 0.5,0.3 0.5,0.3 0.5,0.3 0.5,0.3 0.5,0.3 0.5,0.3 0.5,0.3 0.5,0.3 0.5,0.3 0.5,0.3 0.5,0.3 0.5,0.3 0.5,0.3 0.5,0.3 0.5,0.3 0.5,0.4 0.5,0.3 0.5,0.3 0.5,0.3 0.5,0.2 0.5,0.3 0.5,0.2 0.5,0.1 0.5,0.1 0.5,0 0.5-0.1 0.5-0.2 0.5-0.2 0.5-0.2 0.5-0.2 0.5-0.2 0.5-0.1 0.5-0.2 0.5-0.2 0.5-0.2 0.5-0.2 0.5-0.1 0.5-0.2 0.5-0.1 0.5,0 0.5,0 0.5,0.1 0.5,0.1 0.5,0.1 0.5,0.2 0.5,0.1 0.5,0.2 0.5,0.3 0.5,0.2 0.5,0.3 0.5,0.2 0.5,0.1 0.5,0 0.5-0.2 0.5-0.2 0.5-0.3 0.5-0.4 0.5-0.4 0.5-0.5 0.5-0.4 0.5-0.5 0.5-0.5 0.5-0.6 0.5-0.6 0.5-0.6 0.5-0.6 0.5-0.5 0.5-0.5 0.5-0.6 0.5-0.5 0.5-0.5 0.5-0.5 0.5-0.3 0.5-0.3 0.5-0.3 0.5-0.2 0.5-0.1 0.5-0.1 0.5-0.1 0.5-0.1 0.5,0 0.5-0.1 0.5,0 0.5,0 0.5,0 0.5,0 0.5,0 0.5,0 0.5,0 0.5,0 0.5,0 0.5,0 0.5,0 0.5,0 0.5,0 0.5,0 0.5,0 0.5,0 0.5,0 0.5,0 0.5,0" fill="none" stroke="#d5d5d5" stroke-width="1.3" stroke-linejoin="round" stroke-linecap="round"/>
<path d="M182.5,20.7l0.5,0.2 0.5,0.3 0.5,0.2 0.5,0.2 0.5,0.3 0.5,0.2 0.5,0.3 0.5,4.6 0.5,4.7 0.5,4.7 0.5,4.7 0.5,4.7 0.5,4.7 0.5,4.6 0.5,4.6 0.5,4.3 0.5,4 0.5,3.3 0.5,3.1 0.5,3.9 0.5,7.4 0.5,8.6 0.5,5.1 0.5,4.3 0.5,3.6 0.5,2.7 0.5,1.5 0.5,0.3 0.5-0.8 0.5-1.4 0.5-1.8 0.5-2.3 0.5-2.4 0.5-2.5 0.5-2.5 0.5-2.5 0.5-2.5 0.5-2.4 0.5-2.5 0.5-2.4 0.5-2.2 0.5-2.4 0.5-2.3 0.5-2.3 0.5-2.1 0.5-1.8 0.5-1.5 0.5-1.1 0.5-0.8 0.5-0.5 0.5-0.4 0.5-0.3 0.5-0.3 0.5-0.4 0.5-0.3 0.5-0.2 0.5-0.2 0.5-0.1 0.5,0 0.5,0 0.5,0.1 0.5,0.2 0.5,0.2 0.5,0.2 0.5,0.2 0.5,0.2 0.5,0.2 0.5,0.2 0.5,0.2 0.5,0.2 0.5,0.2 0.5,0.2 0.5,0.2 0.5,0.2 0.5,0.3 0.5,0.2 0.5,0.3 0.5,0.2 0.5,0.3 0.5,0.3 0.5,0.3 0.5,0.3 0.5,0.3 0.5,0.3 0.5,0.3 0.5,0.3 0.5,0.4 0.5,0.3 0.5,0.4 0.5,0.4 0.5,0.5 0.5,0.4 0.5,0.5 0.5,0.5 0.5,0.6 0.5,0.6 0.5,0.5 0.5,0.6 0.5,0.6 0.5,0.6 0.5,0.5 0.5,0.6 0.5,0.5 0.5,0.4 0.5,0.5 0.5,0.4 0.5,0.4 0.5,0.4 0.5,0.4 0.5,0.3 0.5,0.4 0.5,0.3 0.5,0.4 0.5,0.4 0.5,0.3 0.5,0.4 0.5,0.4 0.5,0.4 0.5,0.4 0.5,0.4 0.5,0.4 0.5,0.3 0.5,0.4 0.5,0.3 0.5,0.3 0.5,0.4 0.5,0.3 0.5,0.3 0.5,0.1 0.5,0.1 0.5-0.1 0.5-0.2 0.5-0.3 0.5-0.4 0.5-0.3 0.5-0.4 0.5-0.3 0.5-0.2 0.5-0.3 0.5-0.3 0.5-0.3 0.5-0.3 0.5-0.3 0.5-0.1 0.5-0.2 0.5,0 0.5,0 0.5,0.1 0.5,0.1 0.5,0.1 0.5,0.2 0.5,0.2 0.5,0.2 0.5,0.2 0.5,0.2 0.5,0.3 0.5,0.3 0.5,0.3 0.5,0.4 0.5,0.4 0.5,0.4 0.5,0.5 0.5,0.6 0.5,0.5 0.5,0.6 0.5,0.6 0.5,0.6 0.5,0.5 0.5,0.6 0.5,0.6 0.5,0.6 0.5,0.6 0.5,0.6 0.5,0.5 0.5,0.5 0.5,0.4 0.5,0.5 0.5,0.3 0.5,0.3 0.5,0.3 0.5,0.2 0.5,0.2 0.5,0.4 0.5,0.3 0.5,0.3 0.5,0.4 0.5,0.4 0.5,0.4 0.5,0.3 0.5,0.4 0.5,0.4 0.5,0.4 0.5,0.4 0.5,0.4 0.5,0.3 0.5,0.4 0.5,0.4 0.5,0.4 0.5,0.3 0.5,0.4 0.5,0.4 0.5,0.3 0.5,0.4 0.5,0.4 0.5,0.4 0.5,0.4 0.5,0.4 0.5,0.3 0.5,0.3 0.5,0.2 0.5,0.2 0.5,0.1 0.5-0.1 0.5-0.1 0.5-0.2 0.5-0.2 0.5-0.3 0.5-0.2 0.5-0.2 0.5-0.2 0.5-0.3 0.5-0.2 0.5-0.2 0.5-0.3 0.5-0.2 0.5-0.2 0.5-0.1 0.5-0.1 0.5,0 0.5,0.1 0.5,0.2 0.5,0.2 0.5,0.2 0.5,0.1 0.5,0.3 0.5,0.3 0.5,0.3 0.5,0.3 0.5,0.2 0.5,0.2 0.5,0 0.5-0.2 0.5-0.3 0.5-0.4 0.5-0.5 0.5-0.5 0.5-0.5 0.5-0.6 0.5-0.6 0.5-0.7 0.5-0.7 0.5-0.7 0.5-0.8 0.5-0.7 0.5-0.7 0.5-0.6 0.5-0.7 0.5-0.7 0.5-0.6 0.5-0.6 0.5-0.4 0.5-0.4 0.5-0.3 0.5-0.2 0.5-0.2 0.5-0.2 0.5-0.1 0.5-0.1 0.5,0 0.5-0.1 0.5,0 0.5,0 0.5,0 0.5,0 0.5,0 0.5,0 0.5,0 0.5,0 0.5,0 0.5,0 0.5,0 0.5,0 0.5,0 0.5,0 0.5,0 0.5,0 0.5,0 0.5,0 0.5,0" fill="none" stroke="#d5d5d5" stroke-width="1.3" stroke-linejoin="round" stroke-linecap="round"/>
<path d="M182.5,8.6l0.5,0.1 0.5,0.2 0.5,0.2 0.5,0.2 0.5,0.2 0.5,0.2 0.5,0.2 0.5,5.4 0.5,5.5 0.5,5.5 0.5,5.5 0.5,5.5 0.5,5.5 0.5,5.4 0.5,5.3 0.5,5 0.5,4.6 0.5,3.9 0.5,3.7 0.5,4.6 0.5,8.8 0.5,10.2 0.5,6.1 0.5,5.1 0.5,4.2 0.5,3.2 0.5,1.8 0.5,0.3 0.5-1 0.5-1.7 0.5-2.2 0.5-2.7 0.5-2.9 0.5-2.9 0.5-2.9 0.5-3 0.5-2.9 0.5-3 0.5-2.8 0.5-2.9 0.5-2.7 0.5-2.7 0.5-2.8 0.5-2.7 0.5-2.5 0.5-2.2 0.5-1.8 0.5-1.3 0.5-0.9 0.5-0.7 0.5-0.4 0.5-0.4 0.5-0.3 0.5-0.4 0.5-0.4 0.5-0.3 0.5-0.2 0.5,0 0.5-0.1 0.5,0.1 0.5,0.1 0.5,0.2 0.5,0.2 0.5,0.3 0.5,0.2 0.5,0.3 0.5,0.3 0.5,0.2 0.5,0.3 0.5,0.2 0.5,0.2 0.5,0.2 0.5,0.3 0.5,0.2 0.5,0.3 0.5,0.2 0.5,0.3 0.5,0.3 0.5,0.4 0.5,0.3 0.5,0.3 0.5,0.4 0.5,0.3 0.5,0.4 0.5,0.3 0.5,0.4 0.5,0.4 0.5,0.4 0.5,0.5 0.5,0.4 0.5,0.5 0.5,0.6 0.5,0.6 0.5,0.6 0.5,0.6 0.5,0.7 0.5,0.7 0.5,0.6 0.5,0.7 0.5,0.7 0.5,0.6 0.5,0.6 0.5,0.6 0.5,0.6 0.5,0.5 0.5,0.5 0.5,0.4 0.5,0.5 0.5,0.4 0.5,0.5 0.5,0.4 0.5,0.4 0.5,0.4 0.5,0.4 0.5,0.5 0.5,0.4 0.5,0.5 0.5,0.4 0.5,0.5 0.5,0.4 0.5,0.5 0.5,0.4 0.5,0.4 0.5,0.4 0.5,0.4 0.5,0.4 0.5,0.4 0.5,0.2 0.5,0.2 0.5,0.1 0.5-0.1 0.5-0.3 0.5-0.3 0.5-0.5 0.5-0.4 0.5-0.4 0.5-0.4 0.5-0.4 0.5-0.3 0.5-0.4 0.5-0.4 0.5-0.3 0.5-0.3 0.5-0.2 0.5-0.2 0.5-0.1 0.5,0 0.5,0.1 0.5,0.1 0.5,0.2 0.5,0.1 0.5,0.3 0.5,0.2 0.5,0.2 0.5,0.2 0.5,0.3 0.5,0.4 0.5,0.3 0.5,0.5 0.5,0.4 0.5,0.5 0.5,0.6 0.5,0.7 0.5,0.6 0.5,0.7 0.5,0.7 0.5,0.7 0.5,0.7 0.5,0.6 0.5,0.8 0.5,0.7 0.5,0.7 0.5,0.6 0.5,0.6 0.5,0.6 0.5,0.5 0.5,0.5 0.5,0.5 0.5,0.4 0.5,0.3 0.5,0.3 0.5,0.4 0.5,0.4 0.5,0.4 0.5,0.4 0.5,0.4 0.5,0.5 0.5,0.4 0.5,0.5 0.5,0.5 0.5,0.4 0.5,0.5 0.5,0.4 0.5,0.5 0.5,0.4 0.5,0.5 0.5,0.4 0.5,0.5 0.5,0.4 0.5,0.5 0.5,0.4 0.5,0.5 0.5,0.4 0.5,0.5 0.5,0.5 0.5,0.4 0.5,0.4 0.5,0.4 0.5,0.4 0.5,0.3 0.5,0.2 0.5,0.1 0.5-0.1 0.5-0.1 0.5-0.2 0.5-0.3 0.5-0.3 0.5-0.4 0.5-0.2 0.5-0.2 0.5-0.3 0.5-0.3 0.5-0.3 0.5-0.3 0.5-0.2 0.5-0.3 0.5-0.1 0.5-0.1 0.5,0 0.5,0.1 0.5,0.2 0.5,0.2 0.5,0.2 0.5,0.3 0.5,0.2 0.5,0.4 0.5,0.4 0.5,0.3 0.5,0.3 0.5,0.2 0.5,0 0.5-0.2 0.5-0.4 0.5-0.5 0.5-0.5 0.5-0.7 0.5-0.6 0.5-0.7 0.5-0.7 0.5-0.8 0.5-0.9 0.5-0.9 0.5-0.9 0.5-0.8 0.5-0.9 0.5-0.8 0.5-0.8 0.5-0.8 0.5-0.7 0.5-0.7 0.5-0.5 0.5-0.5 0.5-0.3 0.5-0.3 0.5-0.2 0.5-0.2 0.5-0.1 0.5-0.1 0.5-0.1 0.5-0.1 0.5,0 0.5,0 0.5,0 0.5,0 0.5,0 0.5,0 0.5,0 0.5,0 0.5,0 0.5,0 0.5,0 0.5,0 0.5,0 0.5,0 0.5,0.1 0.5,0 0.5,0 0.5,0 0.5,0" fill="none" stroke="#d5d5d5" stroke-width="1.3" stroke-linejoin="round" stroke-linecap="round"/>
<path d="M182.5,-3.6l0.5,0.2 0.5,0.1 0.5,0.1 0.5,0.2 0.5,0.1 0.5,0.2 0.5,0.1 0.5,6.3 0.5,6.2 0.5,6.3 0.5,6.3 0.5,6.3 0.5,6.2 0.5,6.2 0.5,6 0.5,5.9 0.5,5.2 0.5,4.5 0.5,4.1 0.5,5.4 0.5,10.1 0.5,12 0.5,7 0.5,5.9 0.5,4.9 0.5,3.7 0.5,1.9 0.5,0.4 0.5-1.2 0.5-2.1 0.5-2.5 0.5-3.1 0.5-3.3 0.5-3.4 0.5-3.4 0.5-3.4 0.5-3.4 0.5-3.4 0.5-3.3 0.5-3.3 0.5-3.1 0.5-3.2 0.5-3.3 0.5-3.1 0.5-2.9 0.5-2.5 0.5-2.1 0.5-1.5 0.5-1.1 0.5-0.7 0.5-0.5 0.5-0.4 0.5-0.4 0.5-0.5 0.5-0.4 0.5-0.3 0.5-0.2 0.5-0.1 0.5,0 0.5,0 0.5,0.2 0.5,0.2 0.5,0.3 0.5,0.3 0.5,0.3 0.5,0.3 0.5,0.3 0.5,0.3 0.5,0.3 0.5,0.2 0.5,0.3 0.5,0.2 0.5,0.3 0.5,0.3 0.5,0.3 0.5,0.3 0.5,0.3 0.5,0.4 0.5,0.3 0.5,0.4 0.5,0.4 0.5,0.4 0.5,0.3 0.5,0.4 0.5,0.5 0.5,0.4 0.5,0.4 0.5,0.5 0.5,0.5 0.5,0.5 0.5,0.6 0.5,0.6 0.5,0.7 0.5,0.7 0.5,0.7 0.5,0.8 0.5,0.8 0.5,0.8 0.5,0.7 0.5,0.8 0.5,0.7 0.5,0.7 0.5,0.7 0.5,0.6 0.5,0.6 0.5,0.6 0.5,0.5 0.5,0.5 0.5,0.5 0.5,0.5 0.5,0.5 0.5,0.5 0.5,0.4 0.5,0.5 0.5,0.5 0.5,0.5 0.5,0.5 0.5,0.6 0.5,0.5 0.5,0.5 0.5,0.5 0.5,0.5 0.5,0.4 0.5,0.5 0.5,0.4 0.5,0.5 0.5,0.4 0.5,0.3 0.5,0.2 0.5,0.1 0.5-0.1 0.5-0.3 0.5-0.5 0.5-0.5 0.5-0.5 0.5-0.5 0.5-0.5 0.5-0.4 0.5-0.4 0.5-0.5 0.5-0.4 0.5-0.4 0.5-0.4 0.5-0.3 0.5-0.1 0.5-0.1 0.5,0 0.5,0 0.5,0.1 0.5,0.2 0.5,0.2 0.5,0.2 0.5,0.2 0.5,0.3 0.5,0.3 0.5,0.3 0.5,0.4 0.5,0.4 0.5,0.5 0.5,0.5 0.5,0.6 0.5,0.7 0.5,0.7 0.5,0.8 0.5,0.7 0.5,0.8 0.5,0.8 0.5,0.8 0.5,0.8 0.5,0.8 0.5,0.8 0.5,0.8 0.5,0.7 0.5,0.7 0.5,0.7 0.5,0.6 0.5,0.6 0.5,0.5 0.5,0.5 0.5,0.4 0.5,0.4 0.5,0.5 0.5,0.4 0.5,0.5 0.5,0.6 0.5,0.5 0.5,0.5 0.5,0.5 0.5,0.6 0.5,0.5 0.5,0.5 0.5,0.6 0.5,0.5 0.5,0.5 0.5,0.5 0.5,0.6 0.5,0.5 0.5,0.5 0.5,0.5 0.5,0.5 0.5,0.5 0.5,0.6 0.5,0.5 0.5,0.6 0.5,0.5 0.5,0.5 0.5,0.5 0.5,0.5 0.5,0.4 0.5,0.3 0.5,0.2 0.5,0.2 0.5-0.1 0.5-0.1 0.5-0.3 0.5-0.3 0.5-0.4 0.5-0.4 0.5-0.3 0.5-0.3 0.5-0.3 0.5-0.3 0.5-0.4 0.5-0.3 0.5-0.3 0.5-0.3 0.5-0.1 0.5-0.1 0.5,0 0.5,0.1 0.5,0.2 0.5,0.2 0.5,0.3 0.5,0.3 0.5,0.3 0.5,0.4 0.5,0.4 0.5,0.5 0.5,0.3 0.5,0.2 0.5,0 0.5-0.3 0.5-0.4 0.5-0.5 0.5-0.7 0.5-0.7 0.5-0.8 0.5-0.8 0.5-0.8 0.5-1 0.5-1 0.5-1 0.5-1.1 0.5-1 0.5-0.9 0.5-1 0.5-0.9 0.5-0.9 0.5-0.9 0.5-0.8 0.5-0.6 0.5-0.5 0.5-0.4 0.5-0.4 0.5-0.2 0.5-0.2 0.5-0.2 0.5-0.1 0.5-0.1 0.5-0.1 0.5,0 0.5,0 0.5,0 0.5,0 0.5,0 0.5,0 0.5,0 0.5,0 0.5,0 0.5,0 0.5,0.1 0.5,0 0.5,0 0.5,0 0.5,0 0.5,0 0.5,0 0.5,0 0.5,0.1" fill="none" stroke="#d5d5d5" stroke-width="1.3" stroke-linejoin="round" stroke-linecap="round"/>
<path d="M182.5,-15.7l0.5,0.1 0.5,0.1 0.5,0.1 0.5,0 0.5,0.1 0.5,0.1 0.5,0.2 0.5,7 0.5,7 0.5,7.1 0.5,7.1 0.5,7 0.5,7 0.5,7 0.5,6.8 0.5,6.6 0.5,5.9 0.5,5 0.5,4.7 0.5,6.1 0.5,11.5 0.5,13.6 0.5,8 0.5,6.7 0.5,5.5 0.5,4.2 0.5,2.2 0.5,0.3 0.5-1.3 0.5-2.4 0.5-2.9 0.5-3.5 0.5-3.8 0.5-3.8 0.5-3.8 0.5-3.8 0.5-3.9 0.5-3.9 0.5-3.8 0.5-3.7 0.5-3.6 0.5-3.6 0.5-3.7 0.5-3.6 0.5-3.3 0.5-2.9 0.5-2.3 0.5-1.7 0.5-1.2 0.5-0.9 0.5-0.5 0.5-0.5 0.5-0.4 0.5-0.6 0.5-0.4 0.5-0.4 0.5-0.2 0.5-0.1 0.5,0 0.5,0.1 0.5,0.1 0.5,0.3 0.5,0.3 0.5,0.4 0.5,0.3 0.5,0.4 0.5,0.3 0.5,0.4 0.5,0.3 0.5,0.3 0.5,0.2 0.5,0.3 0.5,0.3 0.5,0.3 0.5,0.4 0.5,0.3 0.5,0.4 0.5,0.4 0.5,0.4 0.5,0.4 0.5,0.4 0.5,0.4 0.5,0.5 0.5,0.4 0.5,0.5 0.5,0.5 0.5,0.5 0.5,0.5 0.5,0.6 0.5,0.6 0.5,0.6 0.5,0.7 0.5,0.7 0.5,0.8 0.5,0.9 0.5,0.8 0.5,0.9 0.5,0.9 0.5,0.8 0.5,0.9 0.5,0.8 0.5,0.8 0.5,0.8 0.5,0.7 0.5,0.6 0.5,0.7 0.5,0.6 0.5,0.5 0.5,0.6 0.5,0.5 0.5,0.6 0.5,0.5 0.5,0.5 0.5,0.6 0.5,0.5 0.5,0.6 0.5,0.6 0.5,0.6 0.5,0.6 0.5,0.5 0.5,0.6 0.5,0.5 0.5,0.5 0.5,0.5 0.5,0.6 0.5,0.5 0.5,0.5 0.5,0.3 0.5,0.3 0.5,0 0.5-0.1 0.5-0.4 0.5-0.5 0.5-0.6 0.5-0.6 0.5-0.6 0.5-0.5 0.5-0.5 0.5-0.5 0.5-0.5 0.5-0.5 0.5-0.5 0.5-0.4 0.5-0.4 0.5-0.2 0.5-0.1 0.5,0 0.5,0 0.5,0.2 0.5,0.1 0.5,0.2 0.5,0.3 0.5,0.2 0.5,0.3 0.5,0.3 0.5,0.4 0.5,0.4 0.5,0.4 0.5,0.6 0.5,0.6 0.5,0.6 0.5,0.8 0.5,0.8 0.5,0.9 0.5,0.8 0.5,0.9 0.5,0.9 0.5,0.9 0.5,0.9 0.5,0.9 0.5,0.9 0.5,0.9 0.5,0.8 0.5,0.9 0.5,0.7 0.5,0.7 0.5,0.6 0.5,0.6 0.5,0.6 0.5,0.5 0.5,0.6 0.5,0.5 0.5,0.5 0.5,0.6 0.5,0.6 0.5,0.6 0.5,0.6 0.5,0.6 0.5,0.6 0.5,0.6 0.5,0.6 0.5,0.6 0.5,0.6 0.5,0.7 0.5,0.6 0.5,0.6 0.5,0.6 0.5,0.5 0.5,0.6 0.5,0.6 0.5,0.6 0.5,0.6 0.5,0.6 0.5,0.6 0.5,0.6 0.5,0.6 0.5,0.6 0.5,0.5 0.5,0.5 0.5,0.4 0.5,0.2 0.5,0.2 0.5-0.1 0.5-0.2 0.5-0.3 0.5-0.4 0.5-0.4 0.5-0.4 0.5-0.4 0.5-0.3 0.5-0.3 0.5-0.4 0.5-0.4 0.5-0.4 0.5-0.3 0.5-0.3 0.5-0.3 0.5-0.1 0.5,0 0.5,0.2 0.5,0.2 0.5,0.3 0.5,0.3 0.5,0.3 0.5,0.3 0.5,0.5 0.5,0.5 0.5,0.5 0.5,0.4 0.5,0.2 0.5,0 0.5-0.3 0.5-0.5 0.5-0.6 0.5-0.8 0.5-0.8 0.5-0.9 0.5-0.9 0.5-1 0.5-1 0.5-1.2 0.5-1.2 0.5-1.1 0.5-1.2 0.5-1.1 0.5-1.1 0.5-1.1 0.5-1 0.5-1 0.5-0.9 0.5-0.7 0.5-0.6 0.5-0.5 0.5-0.4 0.5-0.2 0.5-0.3 0.5-0.1 0.5-0.2 0.5-0.1 0.5,0 0.5-0.1 0.5,0 0.5,0 0.5,0 0.5,0 0.5,0.1 0.5,0 0.5,0 0.5,0 0.5,0 0.5,0 0.5,0 0.5,0 0.5,0 0.5,0 0.5,0.1 0.5,0 0.5,0 0.5,0" fill="none" stroke="#d5d5d5" stroke-width="1.3" stroke-linejoin="round" stroke-linecap="round"/>
<path d="M182.5,-27.9l0.5,0.1 0.5,0 0.5,0.1 0.5,0 0.5,0.1 0.5,0 0.5,0.1 0.5,7.8 0.5,7.9 0.5,7.8 0.5,7.9 0.5,7.8 0.5,7.8 0.5,7.7 0.5,7.5 0.5,7.4 0.5,6.5 0.5,5.7 0.5,5.2 0.5,6.8 0.5,12.9 0.5,15.3 0.5,8.9 0.5,7.4 0.5,6.3 0.5,4.6 0.5,2.5 0.5,0.3 0.5-1.5 0.5-2.7 0.5-3.3 0.5-3.9 0.5-4.2 0.5-4.3 0.5-4.2 0.5-4.3 0.5-4.4 0.5-4.3 0.5-4.3 0.5-4.1 0.5-4 0.5-4.1 0.5-4.1 0.5-4 0.5-3.7 0.5-3.3 0.5-2.6 0.5-1.9 0.5-1.4 0.5-0.9 0.5-0.7 0.5-0.5 0.5-0.4 0.5-0.6 0.5-0.5 0.5-0.4 0.5-0.3 0.5-0.1 0.5,0 0.5,0.1 0.5,0.2 0.5,0.3 0.5,0.4 0.5,0.4 0.5,0.4 0.5,0.4 0.5,0.4 0.5,0.3 0.5,0.4 0.5,0.3 0.5,0.3 0.5,0.3 0.5,0.4 0.5,0.3 0.5,0.4 0.5,0.4 0.5,0.4 0.5,0.4 0.5,0.4 0.5,0.5 0.5,0.5 0.5,0.4 0.5,0.5 0.5,0.5 0.5,0.5 0.5,0.5 0.5,0.6 0.5,0.6 0.5,0.6 0.5,0.7 0.5,0.7 0.5,0.8 0.5,0.8 0.5,0.9 0.5,0.9 0.5,0.9 0.5,1 0.5,1 0.5,1 0.5,0.9 0.5,1 0.5,0.8 0.5,0.9 0.5,0.7 0.5,0.8 0.5,0.7 0.5,0.6 0.5,0.7 0.5,0.6 0.5,0.6 0.5,0.6 0.5,0.6 0.5,0.6 0.5,0.6 0.5,0.6 0.5,0.6 0.5,0.7 0.5,0.6 0.5,0.7 0.5,0.6 0.5,0.6 0.5,0.6 0.5,0.6 0.5,0.5 0.5,0.6 0.5,0.6 0.5,0.5 0.5,0.4 0.5,0.3 0.5,0 0.5-0.2 0.5-0.4 0.5-0.5 0.5-0.7 0.5-0.7 0.5-0.7 0.5-0.6 0.5-0.5 0.5-0.6 0.5-0.6 0.5-0.6 0.5-0.5 0.5-0.5 0.5-0.4 0.5-0.2 0.5-0.2 0.5,0 0.5,0 0.5,0.2 0.5,0.2 0.5,0.2 0.5,0.2 0.5,0.3 0.5,0.3 0.5,0.4 0.5,0.3 0.5,0.5 0.5,0.5 0.5,0.6 0.5,0.6 0.5,0.8 0.5,0.8 0.5,0.9 0.5,1 0.5,1 0.5,0.9 0.5,1 0.5,1 0.5,1 0.5,1 0.5,1 0.5,1 0.5,1 0.5,0.9 0.5,0.8 0.5,0.8 0.5,0.7 0.5,0.7 0.5,0.6 0.5,0.7 0.5,0.6 0.5,0.6 0.5,0.6 0.5,0.7 0.5,0.7 0.5,0.6 0.5,0.7 0.5,0.7 0.5,0.7 0.5,0.7 0.5,0.6 0.5,0.7 0.5,0.7 0.5,0.7 0.5,0.7 0.5,0.6 0.5,0.7 0.5,0.7 0.5,0.6 0.5,0.7 0.5,0.6 0.5,0.7 0.5,0.7 0.5,0.7 0.5,0.7 0.5,0.7 0.5,0.6 0.5,0.6 0.5,0.5 0.5,0.4 0.5,0.3 0.5,0.2 0.5-0.1 0.5-0.2 0.5-0.3 0.5-0.5 0.5-0.5 0.5-0.4 0.5-0.4 0.5-0.4 0.5-0.4 0.5-0.4 0.5-0.5 0.5-0.4 0.5-0.4 0.5-0.3 0.5-0.3 0.5-0.1 0.5,0 0.5,0.1 0.5,0.3 0.5,0.3 0.5,0.4 0.5,0.3 0.5,0.4 0.5,0.5 0.5,0.6 0.5,0.5 0.5,0.5 0.5,0.2 0.5,0 0.5-0.3 0.5-0.6 0.5-0.7 0.5-0.8 0.5-1 0.5-1 0.5-1 0.5-1.1 0.5-1.2 0.5-1.3 0.5-1.3 0.5-1.3 0.5-1.3 0.5-1.3 0.5-1.2 0.5-1.2 0.5-1.2 0.5-1.1 0.5-1 0.5-0.8 0.5-0.7 0.5-0.5 0.5-0.4 0.5-0.3 0.5-0.3 0.5-0.2 0.5-0.2 0.5-0.1 0.5,0 0.5-0.1 0.5,0 0.5,0 0.5,0 0.5,0.1 0.5,0 0.5,0 0.5,0 0.5,0 0.5,0 0.5,0 0.5,0 0.5,0.1 0.5,0 0.5,0 0.5,0 0.5,0 0.5,0.1 0.5,0" fill="none" stroke="#d5d5d5" stroke-width="1.3" stroke-linejoin="round" stroke-linecap="round"/>
<path d="M182.5,81.4l0.5,0.5 0.5,0.4 0.5,0.5 0.5,0.4 0.5,0.5 0.5,0.5 0.5,0.6 0.5,0.6 0.5,0.7 0.5,0.8 0.5,0.8 0.5,0.8 0.5,0.8 0.5,0.8 0.5,0.8 0.5,0.6 0.5,0.6 0.5,0.5 0.5,0.5 0.5,0.3 0.5,0.4 0.5,0.3 0.5,0.3 0.5,0.3 0.5,0.4 0.5,0.2 0.5,0.3 0.5,0.2 0.5,0.2 0.5,0.2 0.5,0 0.5-0.1 0.5-0.3 0.5-0.3 0.5-0.3 0.5-0.2 0.5-0.2 0.5-0.1 0.5-0.1 0.5-0.2 0.5-0.1 0.5-0.1 0.5-0.1 0.5-0.1 0.5-0.2 0.5,0 0.5-0.1 0.5-0.1 0.5-0.1 0.5-0.1 0.5,0 0.5-0.1 0.5,0 0.5-0.1 0.5-0.1 0.5,0 0.5-0.1 0.5,0 0.5,0 0.5-0.1 0.5,0 0.5,0 0.5-0.1 0.5,0 0.5,0 0.5,0 0.5,0 0.5,0 0.5,0 0.5,0 0.5,0.1 0.5,0 0.5,0 0.5,0.1 0.5,0.1 0.5,0 0.5,0.1 0.5,0.1 0.5,0 0.5,0.1 0.5,0.1 0.5,0.1 0.5,0 0.5,0.1 0.5,0.1 0.5,0.1 0.5,0 0.5,0.1 0.5,0.1 0.5,0.1 0.5,0 0.5,0.1 0.5,0.1 0.5,0.1 0.5,0.1 0.5,0.1 0.5,0 0.5,0.1 0.5,0.1 0.5,0.1 0.5,0.1 0.5,0.1 0.5,0.1 0.5,0 0.5,0.1 0.5,0.1 0.5,0.1 0.5,0.1 0.5,0 0.5,0.1 0.5,0.1 0.5,0.1 0.5,0.1 0.5,0 0.5,0.1 0.5,0.1 0.5,0 0.5,0.1 0.5,0.1 0.5,0 0.5,0.1 0.5,0 0.5,0.1 0.5,0.1 0.5,0 0.5,0.1 0.5,0 0.5,0.1 0.5,0 0.5,0.1 0.5,0 0.5,0.1 0.5,0.1 0.5,0 0.5,0.1 0.5,0 0.5,0.1 0.5,0 0.5,0.1 0.5,0.1 0.5,0 0.5,0.1 0.5,0.1 0.5,0 0.5,0.1 0.5,0.1 0.5,0.1 0.5,0 0.5,0.1 0.5,0.1 0.5,0.1 0.5,0.1 0.5,0.1 0.5,0.1 0.5,0 0.5,0.1 0.5,0.1 0.5,0.1 0.5,0.1 0.5,0.1 0.5,0.1 0.5,0.1 0.5,0.1 0.5,0.1 0.5,0.1 0.5,0.1 0.5,0 0.5,0.1 0.5,0.1 0.5,0.1 0.5,0.1 0.5,0 0.5,0.1 0.5,0.1 0.5,0 0.5,0 0.5,0 0.5,0 0.5-0.1 0.5-0.3 0.5-0.2 0.5-0.2 0.5-0.1 0.5-0.1 0.5,0 0.5,0 0.5,0 0.5,0 0.5,0 0.5,0 0.5,0 0.5,0 0.5,0 0.5,0 0.5,0 0.5,0 0.5,0 0.5,0 0.5,0 0.5,0 0.5,0.1 0.5,0 0.5,0 0.5,0 0.5,0 0.5,0 0.5,0 0.5,0 0.5,0 0.5,0.1 0.5,0 0.5,0 0.5,0 0.5,0 0.5,0 0.5,0 0.5,0 0.5,0 0.5,0 0.5,0 0.5,0.1 0.5,0 0.5,0 0.5,0 0.5,0 0.5,0 0.5,0 0.5,0 0.5,0 0.5,0 0.5,0.1 0.5,0 0.5,0 0.5,0 0.5,0 0.5,0 0.5,0 0.5,0 0.5,0 0.5,0 0.5,0 0.5,0.1 0.5,0 0.5,0 0.5,0 0.5,0 0.5,0 0.5,0 0.5,0 0.5,0 0.5,0 0.5,0 0.5,0 0.5,0 0.5,0 0.5,0 0.5,0 0.5,0 0.5,0 0.5,0 0.5,0 0.5,0 0.5,0 0.5-0.1 0.5,0 0.5,0 0.5,0 0.5,0 0.5,0 0.5,0 0.5,0 0.5,0 0.5-0.1 0.5,0 0.5,0 0.5,0 0.5,0 0.5,0 0.5,0 0.5-0.1 0.5,0 0.5,0 0.5,0 0.5,0 0.5,0 0.5-0.1 0.5,0 0.5,0 0.5,0" fill="none" stroke="#00c400" stroke-width="1.4" stroke-linejoin="round" stroke-linecap="round"/>
<path d="M182.5,-40l0.5,0 0.5,0 0.5,0 0.5,0 0.5,0 0.5,0 0.5,0 0.5,8.6 0.5,8.7 0.5,8.6 0.5,8.6 0.5,8.6 0.5,8.6 0.5,8.5 0.5,8.3 0.5,8.1 0.5,7.2 0.5,6.2 0.5,5.7 0.5,7.5 0.5,14.4 0.5,16.9 0.5,9.9 0.5,8.2 0.5,6.9 0.5,5.1 0.5,2.8 0.5,0.3 0.5-1.7 0.5-3 0.5-3.7 0.5-4.3 0.5-4.7 0.5-4.7 0.5-4.7 0.5-4.7 0.5-4.8 0.5-4.8 0.5-4.7 0.5-4.6 0.5-4.5 0.5-4.5 0.5-4.6 0.5-4.4 0.5-4.1 0.5-3.6 0.5-2.9 0.5-2.1 0.5-1.5 0.5-1 0.5-0.8 0.5-0.5 0.5-0.5 0.5-0.7 0.5-0.5 0.5-0.5 0.5-0.2 0.5-0.1 0.5,0 0.5,0.1 0.5,0.2 0.5,0.3 0.5,0.4 0.5,0.4 0.5,0.5 0.5,0.5 0.5,0.4 0.5,0.4 0.5,0.4 0.5,0.3 0.5,0.4 0.5,0.4 0.5,0.3 0.5,0.4 0.5,0.4 0.5,0.4 0.5,0.4 0.5,0.5 0.5,0.5 0.5,0.5 0.5,0.5 0.5,0.5 0.5,0.5 0.5,0.6 0.5,0.5 0.5,0.6 0.5,0.6 0.5,0.7 0.5,0.7 0.5,0.7 0.5,0.8 0.5,0.8 0.5,0.9 0.5,1 0.5,1 0.5,1.1 0.5,1 0.5,1.1 0.5,1.1 0.5,1 0.5,1.1 0.5,0.9 0.5,1 0.5,0.8 0.5,0.8 0.5,0.8 0.5,0.7 0.5,0.7 0.5,0.7 0.5,0.6 0.5,0.7 0.5,0.6 0.5,0.7 0.5,0.6 0.5,0.7 0.5,0.7 0.5,0.7 0.5,0.7 0.5,0.7 0.5,0.8 0.5,0.6 0.5,0.7 0.5,0.6 0.5,0.6 0.5,0.7 0.5,0.6 0.5,0.6 0.5,0.4 0.5,0.3 0.5,0.1 0.5-0.3 0.5-0.4 0.5-0.7 0.5-0.7 0.5-0.8 0.5-0.8 0.5-0.6 0.5-0.6 0.5-0.7 0.5-0.7 0.5-0.6 0.5-0.6 0.5-0.6 0.5-0.4 0.5-0.3 0.5-0.2 0.5,0 0.5,0.1 0.5,0.1 0.5,0.2 0.5,0.2 0.5,0.3 0.5,0.3 0.5,0.3 0.5,0.4 0.5,0.4 0.5,0.5 0.5,0.6 0.5,0.6 0.5,0.7 0.5,0.8 0.5,0.9 0.5,1 0.5,1.1 0.5,1.1 0.5,1 0.5,1.1 0.5,1.1 0.5,1.1 0.5,1.1 0.5,1.1 0.5,1.1 0.5,1.1 0.5,1 0.5,0.9 0.5,0.9 0.5,0.8 0.5,0.7 0.5,0.8 0.5,0.7 0.5,0.7 0.5,0.7 0.5,0.7 0.5,0.8 0.5,0.7 0.5,0.8 0.5,0.7 0.5,0.8 0.5,0.7 0.5,0.8 0.5,0.7 0.5,0.8 0.5,0.8 0.5,0.7 0.5,0.8 0.5,0.7 0.5,0.8 0.5,0.7 0.5,0.7 0.5,0.8 0.5,0.7 0.5,0.7 0.5,0.8 0.5,0.8 0.5,0.7 0.5,0.8 0.5,0.7 0.5,0.6 0.5,0.6 0.5,0.5 0.5,0.3 0.5,0.2 0.5-0.1 0.5-0.2 0.5-0.4 0.5-0.5 0.5-0.6 0.5-0.5 0.5-0.4 0.5-0.4 0.5-0.5 0.5-0.4 0.5-0.5 0.5-0.5 0.5-0.5 0.5-0.3 0.5-0.3 0.5-0.1 0.5,0 0.5,0.1 0.5,0.3 0.5,0.4 0.5,0.3 0.5,0.4 0.5,0.4 0.5,0.6 0.5,0.7 0.5,0.6 0.5,0.5 0.5,0.2 0.5,0 0.5-0.4 0.5-0.5 0.5-0.8 0.5-1 0.5-1.1 0.5-1.1 0.5-1.1 0.5-1.2 0.5-1.3 0.5-1.5 0.5-1.4 0.5-1.5 0.5-1.5 0.5-1.3 0.5-1.4 0.5-1.3 0.5-1.4 0.5-1.2 0.5-1.1 0.5-0.9 0.5-0.7 0.5-0.6 0.5-0.5 0.5-0.4 0.5-0.2 0.5-0.3 0.5-0.1 0.5-0.2 0.5,0 0.5-0.1 0.5,0 0.5,0 0.5,0.1 0.5,0 0.5,0 0.5,0 0.5,0 0.5,0 0.5,0 0.5,0.1 0.5,0 0.5,0 0.5,0 0.5,0 0.5,0.1 0.5,0 0.5,0 0.5,0.1" fill="none" stroke="#f545dc" stroke-width="1.4" stroke-linejoin="round" stroke-linecap="round"/>
</g>
<rect x="182.4" y="35.1" width="144.6" height="95.4" fill="none" stroke="#222" stroke-width="1.25"/>
<line x1="182.5" y1="130.5" x2="182.5" y2="133.5" stroke="#000" stroke-width="1.2"/>
<text x="0" y="0" font-size="10" font-weight="bold" text-anchor="middle" transform="translate(182.5 143.6) scale(0.9 1)">250</text>
<line x1="209.2" y1="130.5" x2="209.2" y2="133.5" stroke="#000" stroke-width="1.2"/>
<text x="0" y="0" font-size="10" font-weight="bold" text-anchor="middle" transform="translate(209.2 143.6) scale(0.9 1)">300</text>
<line x1="236" y1="130.5" x2="236" y2="133.5" stroke="#000" stroke-width="1.2"/>
<text x="0" y="0" font-size="10" font-weight="bold" text-anchor="middle" transform="translate(236 143.6) scale(0.9 1)">350</text>
<line x1="262.8" y1="130.5" x2="262.8" y2="133.5" stroke="#000" stroke-width="1.2"/>
<text x="0" y="0" font-size="10" font-weight="bold" text-anchor="middle" transform="translate(262.8 143.6) scale(0.9 1)">400</text>
<line x1="289.5" y1="130.5" x2="289.5" y2="133.5" stroke="#000" stroke-width="1.2"/>
<text x="0" y="0" font-size="10" font-weight="bold" text-anchor="middle" transform="translate(289.5 143.6) scale(0.9 1)">450</text>
<line x1="316.2" y1="130.5" x2="316.2" y2="133.5" stroke="#000" stroke-width="1.2"/>
<text x="0" y="0" font-size="10" font-weight="bold" text-anchor="middle" transform="translate(316.2 143.6) scale(0.9 1)">500</text>
<line x1="179.5" y1="42.1" x2="182.5" y2="42.1" stroke="#000" stroke-width="1.2"/>
<text x="0" y="0" font-size="10" font-weight="bold" text-anchor="end" transform="translate(178.3 45.5) scale(0.9 1)">0.08</text>
<line x1="179.5" y1="71.2" x2="182.5" y2="71.2" stroke="#000" stroke-width="1.2"/>
<text x="0" y="0" font-size="10" font-weight="bold" text-anchor="end" transform="translate(178.3 74.6) scale(0.9 1)">0.04</text>
<line x1="179.5" y1="100.3" x2="182.5" y2="100.3" stroke="#000" stroke-width="1.2"/>
<text x="0" y="0" font-size="10" font-weight="bold" text-anchor="end" transform="translate(178.3 103.7) scale(0.9 1)">0.00</text>
<line x1="179.5" y1="129.4" x2="182.5" y2="129.4" stroke="#000" stroke-width="1.2"/>
<text x="0" y="0" font-size="10" font-weight="bold" text-anchor="end" transform="translate(178.3 132.8) scale(0.9 1)">-0.04</text>
<text x="0" y="0" font-size="9" font-weight="bold" text-anchor="middle" transform="translate(156 81.8) rotate(-90)"><tspan font-weight="normal">&#916;</tspan>Abs</text>
<defs><clipPath id="cb"><rect x="432.2" y="30.2" width="251.50000000000006" height="166.4"/></clipPath></defs>
<g clip-path="url(#cb)">
<path d="M432.5,196.2l0.7,0.3 0.7-0.1 0.7,0.2 0.7,0 0.7-0.5 0.7-0.1 0.7,0.8 0.7-0.5 0.7-0.1 0.7,0.8 0.7-0.5 0.7,0.3 0.7-0.3 0.7,0.1 0.7-0.4 0.7,0.4 0.7,0.3 0.7-0.4 0.7,0.2 0.7,0 0.7-0.6 0.7,0.7 0.7-0.2 0.7-0.3 0.7-0.3 0.7,0.9 0.7-0.4 0.7,0.2 0.7,0.2 0.7-0.2 0.7,0.2 0.7-0.5 0.7,0.4 0.7-0.4 0.7,0.5 0.7,0 0.7-0.8 0.7,0 0.7,0.1 0.7,0.8 0.7-0.6 0.7,0.2 0.7-0.3 0.7,0.2 0.7-0.1 0.7,0 0.7,0.2 0.7,0 0.7,0.3 0.7-0.2 0.7,0.2 0.7,0 0.7,0.1 0.7-0.3 0.7-0.5 0.7,0.7 0.7,0.1 0.7-0.1 0.7-0.3 0.7,0.1 0.7-0.5 0.7,0.6 0.7-0.2 0.7-0.3 0.7-0.2 0.7,0.8 0.7,0.1 0.7-0.9 0.7,0.7 0.7-0.4 0.7-0.2 0.7,0.1 0.7,0.5 0.7,0.1 0.7-0.8 0.7,0.5 0.7-0.5 0.7,0.6 0.7-0.4 0.7,0.6 0.7,0.1 0.7-0.5 0.7,0.5 0.7-0.7 0.7-0.2 0.7,0.5 0.7-0.6 0.7,0.2 0.7,0.2 0.7,0.2 0.7-0.4 0.7-0.2 0.7,0.9 0.7-0.6 0.7,0.7 0.7-0.1 0.7-0.5 0.7,0.1 0.7,0 0.7,0.1 0.7,0 0.7,0 0.7,0 0.7,0.3 0.7-0.4 0.7-0.1 0.7,0.3 0.7-0.5 0.7,0.1 0.7,0.7 0.7-0.5 0.7,0 0.7-0.5 0.7,0.4 0.7,0.2 0.7-0.6 0.7,0.6 0.7,0 0.7-0.6 0.7,0.6 0.7-0.2 0.7,0.3 0.7-0.4 0.7,0.4 0.7,0 0.7-0.7 0.7,0 0.7,0.6 0.7,0.3 0.7-0.7 0.7,0.2 0.7,0.1 0.7-0.2 0.7,0 0.7-0.1 0.7,0.1 0.7,0.2 0.7-0.3 0.7,0.1 0.7,0.4 0.7-0.8 0.7,0.5 0.7,0.2 0.7-0.5 0.7-0.1 0.7,0.5 0.7-0.7 0.7-0.2 0.7,0.1 0.7,0.1 0.7-0.8 0.7,0 0.7-0.3 0.7,0.1 0.7-0.9 0.7-0.1 0.7-1.4 0.7-0.6 0.7-0.6 0.7-0.9 0.7-1.9 0.7-1.9 0.7-2.1 0.7-1.7 0.7-2.8 0.7-2.1 0.7-3 0.7-4.2 0.7-4.1 0.7-4.4 0.7-5.4 0.7-5.2 0.7-6 0.7-6.2 0.7-6 0.7-5.5 0.7-6.3 0.7-5.8 0.7-5.6 0.7-5.2 0.7-4.5 0.7-3.5 0.7-5.1 0.7-5.1 0.7-5.1 0.7-6.8 0.7-6.4" fill="none" stroke="#00c400" stroke-width="1.4" stroke-linejoin="round" stroke-linecap="round" stroke-dasharray="1.6 1.6"/>
<path d="M563.4,68.4l0.7-6.1 0.7-3.8 0.7-3.4 0.7-3.5 0.7-1.7 0.7-1.8 0.7-1.8 0.7-1.3 0.7-1.3 0.7-0.7 0.7-0.6 0.7-0.5 0.7,0.5 0.7,0.1 0.7,1.2 0.7,0 0.7,1.7 0.7,0.9 0.7,1.4 0.7,1.3 0.7,1.4 0.7,1.4 0.7,1.4 0.7,2.8 0.7,1.4 0.7,1.9 0.7,2 0.7,1.5 0.7,1.5 0.7,2 0.7,1.2 0.7,1.2 0.7,1.4 0.7,1.8 0.7,0.6 0.7,1.2 0.7,0.3 0.7,0.5 0.7,1 0.7,0.8 0.7-0.2 0.7,1 0.7,0.5 0.7,0.3 0.7,0.4 0.7-0.5 0.7,0.9 0.7,0.6 0.7-0.5 0.7,0.7 0.7,0.6 0.7,1 0.7,1 0.7,1.2 0.7,1.6 0.7,0.5 0.7,1.3 0.7,1.2 0.7,1.1 0.7,1 0.7,2 0.7,1.1" fill="none" stroke="#00c400" stroke-width="1.6" stroke-linejoin="round" stroke-linecap="round"/>
<path d="M606.1,92l0.7,1.1 0.7,0.6 0.7,2 0.7,1.5 0.7,1.9 0.7,1.9 0.7,2.2 0.7,1.9 0.7,1.7 0.7,1.8 0.7,2 0.7,1.5 0.7,2.2 0.7,1.8 0.7,1.2 0.7,1.3 0.7,1.8 0.7,1.9 0.7,1.9 0.7,1.7 0.7,1.1 0.7,1.9 0.7,1.4 0.7,1.3 0.7,1.4 0.7,1.6 0.7,1.6 0.7,1.1 0.7,1.6 0.7,1.1 0.7,1.1 0.7,1.5 0.7,1.3 0.7,0.6 0.7,1.5 0.7,1.1 0.7,1.6 0.7,1.1 0.7,0.5 0.7,1.6 0.7,0.9 0.7,0.5 0.7,1.2 0.7,0.6 0.7,1.6 0.7,0.7 0.7,1 0.7,0.7 0.7,0.7 0.7,0.8 0.7,0.5 0.7,0.2 0.7,1.1 0.7,0.1 0.7,0.8 0.7,1.2 0.7-0.1 0.7,0.7 0.7,0.6 0.7,1.4 0.7-0.1 0.7,0.4 0.7,1.4 0.7-0.1 0.7,1.2 0.7,0.4 0.7,0.7 0.7,0.7 0.7,0.2 0.7,0.7 0.7-0.2 0.7,1.3 0.7,0.3 0.7,0.7 0.7,0 0.7,1.2 0.7,0.7 0.7-0.3 0.7,0.9 0.7,0.8 0.7,0.9 0.7,0 0.7,0.5 0.7,0.6 0.7,0.8 0.7,0.7 0.7,0 0.7,0.5 0.7,0.4 0.7,0.3 0.7,0.5 0.7,0 0.7,0.8 0.7,0.9 0.7-0.2 0.7,0.6 0.7-0.2 0.7,0.9 0.7,0.4 0.7,0.2 0.7,0.2 0.7,0.3 0.7,0.5 0.7,0.5 0.7-0.4 0.7,0.2 0.7,1 0.7,0.5 0.7-0.1 0.7,0.2" fill="none" stroke="#00c400" stroke-width="1.4" stroke-linejoin="round" stroke-linecap="round" stroke-dasharray="1.6 1.6"/>
<path d="M432.5,196.4l0.7-0.6 0.7,0.2 0.7-0.1 0.7,0.5 0.7-0.3 0.7-0.2 0.7,0.6 0.7,0.3 0.7-0.8 0.7,0.5 0.7-0.4 0.7,0.5 0.7-0.3 0.7-0.4 0.7-0.1 0.7-0.3 0.7,0.6 0.7-0.2 0.7-0.2 0.7,0.2 0.7-0.1 0.7,0.5 0.7-0.7 0.7,1 0.7-0.7 0.7,0.2 0.7-0.2 0.7,0.4 0.7,0 0.7-0.4 0.7-0.1 0.7,0.3 0.7,0.2 0.7-0.6 0.7,0.4 0.7,0.2 0.7-0.6 0.7-0.3 0.7,0 0.7,0.6 0.7-0.1 0.7,0.4 0.7-0.2 0.7-0.7 0.7-0.1 0.7,0.1 0.7-0.1 0.7,0.6 0.7,0.1 0.7,0.1 0.7-0.8 0.7,0.7 0.7-0.7 0.7,0.2 0.7,0.3 0.7-0.8 0.7,0 0.7,0.9 0.7-0.7 0.7,0.1 0.7,0.3 0.7,0.1 0.7-0.8 0.7,0.3 0.7,0.1 0.7,0.1 0.7-0.3 0.7,0.4 0.7,0.4 0.7-0.7 0.7,0.2 0.7-0.5 0.7,0.2 0.7,0.4 0.7-0.6 0.7,0.9 0.7,0 0.7-1 0.7,1 0.7-0.7 0.7,0.5 0.7-0.1 0.7-0.5 0.7,0.4 0.7,0 0.7,0.1 0.7-0.6 0.7,0.6 0.7,0.2 0.7-0.4 0.7-0.2 0.7-0.5 0.7,0.4 0.7-0.1 0.7,0.4 0.7-0.1 0.7-0.2 0.7-0.4 0.7,0.5 0.7-0.1 0.7-0.5 0.7,0.8 0.7-0.3 0.7-0.7 0.7,1 0.7-1 0.7,0.2 0.7,0.5 0.7-0.2 0.7-0.1 0.7,0.1 0.7-0.2 0.7-0.2 0.7-0.2 0.7-0.2 0.7,0.8 0.7,0 0.7-0.2 0.7,0.2 0.7-0.5 0.7-0.1 0.7,0.1 0.7,0.6 0.7-1.1 0.7,0.6 0.7-0.3 0.7,0.6 0.7-0.6 0.7,0 0.7,0.1 0.7,0.1 0.7,0.3 0.7-0.5 0.7,0.6 0.7-0.9 0.7,0.1 0.7-0.2 0.7,0 0.7,0.8 0.7-0.1 0.7-0.6 0.7,0 0.7,0.2 0.7,0.4 0.7,0.1 0.7-0.2 0.7-0.3 0.7-0.7 0.7,0.2 0.7-0.4 0.7,0.2 0.7-0.1 0.7-0.7 0.7-0.3 0.7,0.2 0.7-1.5 0.7,0.4 0.7-0.6 0.7-0.7 0.7-1.7 0.7-1.1 0.7-1.4 0.7-1.7 0.7-1.5 0.7-2.5 0.7-2.9 0.7-2 0.7-3.6 0.7-3.6 0.7-4.1 0.7-5.5 0.7-3.8 0.7-5.1 0.7-5.5 0.7-5.3 0.7-5.4 0.7-5.5 0.7-4.7 0.7-5.6 0.7-4.1 0.7-3.8 0.7-3.9 0.7-3.6 0.7-4 0.7-5.4 0.7-6.9 0.7-4.9 0.7-5.2 0.7-4.5 0.7-2.7 0.7-2.6 0.7-2.2 0.7-1.2 0.7-1 0.7-1.9 0.7-0.2 0.7-1 0.7-1.2 0.7,0.5 0.7-0.3 0.7,0.7 0.7,0.3 0.7,0.7 0.7,0.3 0.7,1.4 0.7,1.2 0.7,1 0.7,0.8 0.7,1.8 0.7,1.5 0.7,1.3 0.7,1.6 0.7,1.6 0.7,1.6 0.7,1.4 0.7,1.8 0.7,1.5 0.7,1.2 0.7,1.1 0.7,1.5 0.7,0.7 0.7,1.1 0.7,1.1 0.7,0.2 0.7,0.3 0.7,1.4 0.7,0.3 0.7,0 0.7,0.3 0.7,0.6 0.7,0.4 0.7-0.1 0.7,0.1 0.7,0.5 0.7,1 0.7-0.4 0.7,0.8 0.7,0.2 0.7,0.8 0.7,0.9 0.7,1.3 0.7,0.9 0.7,1 0.7,1.2 0.7,1.1 0.7,1.4 0.7,0.4 0.7,1 0.7,1.6 0.7,1.2 0.7,1.8 0.7,0.7 0.7,2.1 0.7,1.7 0.7,1.3 0.7,2.8 0.7,0.9 0.7,1.6 0.7,2.1 0.7,1.2 0.7,2.1 0.7,1.1 0.7,1.2 0.7,1.4 0.7,2.3 0.7,1 0.7,2.1 0.7,1 0.7,2 0.7,0.6 0.7,1.3 0.7,1.3 0.7,2 0.7,1.1 0.7,1 0.7,1 0.7,1.9 0.7,1.6 0.7,0.7 0.7,0.4 0.7,1.1 0.7,1.1 0.7,1.2 0.7,0.9 0.7,1 0.7,1.7 0.7,1.3 0.7,0.1 0.7,1.9 0.7,0.3 0.7,1.3 0.7,1 0.7,0.8 0.7-0.2 0.7,1.1 0.7,1 0.7,1.2 0.7-0.4 0.7,0.9 0.7,1.3 0.7-0.3 0.7,1 0.7,0.5 0.7,1 0.7,0.8 0.7-0.3 0.7,1.2 0.7,0.6 0.7,0.7 0.7,0.2 0.7,0.9 0.7-0.1 0.7,0.6 0.7,0.2 0.7,1.2 0.7,0.2 0.7,0.2 0.7,0.4 0.7,1.1 0.7,0.4 0.7,0.6 0.7,0.1 0.7,0.6 0.7,0.2 0.7,1.1 0.7-0.3 0.7,1.1 0.7,0.9 0.7,0.4 0.7-0.1 0.7,0.6 0.7,1.2 0.7,0.3 0.7,0.7 0.7,0.4 0.7-0.1 0.7,0.9 0.7,0.1 0.7-0.1 0.7,0.4 0.7,0 0.7,0.7 0.7,1 0.7-0.7 0.7,0.8 0.7-0.2 0.7,0.3 0.7,0.9 0.7-0.2 0.7,0.1 0.7,0.4 0.7,0.9 0.7,0.2 0.7-0.4 0.7,0.5 0.7,1.2 0.7-0.6 0.7,0.7" fill="none" stroke="#d5d5d5" stroke-width="1.5" stroke-linejoin="round" stroke-linecap="round"/>
<path d="M432.5,195.9l0.7,0.5 0.7-0.1 0.7,0.2 0.7-0.3 0.7-0.4 0.7,0 0.7-0.2 0.7,0.9 0.7-0.9 0.7-0.1 0.7,1.1 0.7-0.9 0.7,0.8 0.7-1 0.7,0.4 0.7-0.3 0.7,0.7 0.7-0.3 0.7,0 0.7,0.1 0.7,0.1 0.7-0.6 0.7,0.3 0.7-0.2 0.7-0.5 0.7,0.9 0.7-0.3 0.7,0.2 0.7-0.7 0.7,0.3 0.7-0.1 0.7,0.3 0.7-0.8 0.7,0.3 0.7,0.2 0.7-0.5 0.7,0.5 0.7,0.2 0.7-0.4 0.7,0.3 0.7-0.1 0.7-0.5 0.7,0.1 0.7,0.8 0.7-0.8 0.7,0.1 0.7-0.5 0.7,0.2 0.7-0.1 0.7,0.9 0.7-0.3 0.7,0.2 0.7,0.1 0.7-0.4 0.7,0.3 0.7-0.5 0.7-0.1 0.7,0.6 0.7-0.1 0.7,0 0.7-0.5 0.7,0.3 0.7-0.5 0.7,0.7 0.7-0.1 0.7-0.7 0.7,0.7 0.7-0.9 0.7-0.1 0.7,0.7 0.7-0.5 0.7,0.2 0.7,0.2 0.7-0.8 0.7,0.9 0.7-0.6 0.7,0.2 0.7-0.2 0.7,0.5 0.7,0 0.7-0.6 0.7-0.2 0.7,0.2 0.7,0.1 0.7-0.4 0.7,0.1 0.7,0.7 0.7-0.1 0.7,0.3 0.7-0.1 0.7-0.1 0.7-0.6 0.7-0.3 0.7,0.1 0.7,0.2 0.7,0 0.7,0 0.7-0.2 0.7,0.5 0.7-0.7 0.7,0.2 0.7,0.4 0.7-0.1 0.7-0.6 0.7-0.1 0.7,0.6 0.7-1 0.7,0.1 0.7,0.5 0.7,0 0.7-0.5 0.7-0.2 0.7,0.2 0.7,0.6 0.7-0.4 0.7,0.6 0.7-0.2 0.7,0.2 0.7-1.2 0.7,0.2 0.7-0.3 0.7,0.5 0.7-0.1 0.7-0.4 0.7,0.6 0.7-0.6 0.7,0.2 0.7-0.1 0.7,0.7 0.7-0.5 0.7-0.2 0.7-0.3 0.7,0.5 0.7,0.2 0.7,0 0.7,0.3 0.7-0.2 0.7-0.6 0.7-0.2 0.7,0.7 0.7,0.1 0.7-0.4 0.7,0.4 0.7-0.4 0.7-0.3 0.7-0.2 0.7-0.3 0.7,0.6 0.7,0.2 0.7-0.1 0.7-0.7 0.7,0 0.7,0.1 0.7-0.5 0.7-0.6 0.7-0.8 0.7-0.4 0.7-1 0.7-0.8 0.7-0.3 0.7-0.8 0.7-2 0.7-1.8 0.7-1.8 0.7-1.9 0.7-1.9 0.7-2.9 0.7-2.4 0.7-4.4 0.7-3.9 0.7-4.1 0.7-4.5 0.7-4.2 0.7-4.9 0.7-5 0.7-5.4 0.7-5.5 0.7-4.2 0.7-4.7 0.7-4.4 0.7-4.1 0.7-2.9 0.7-3.3 0.7-5.1 0.7-4.4 0.7-5.9 0.7-5.2 0.7-4.2 0.7-3.6 0.7-3.3 0.7-2.8 0.7-1.1 0.7-2.6 0.7-1.1 0.7-0.6 0.7-1.5 0.7-0.8 0.7,0.3 0.7-0.3 0.7-0.8 0.7,0.3 0.7,0.4 0.7,0.4 0.7,0.8 0.7,1.8 0.7-0.2 0.7,1.3 0.7,1.1 0.7,1.2 0.7,2.2 0.7,1.9 0.7,1.7 0.7,1.2 0.7,1.6 0.7,0.3 0.7,1.6 0.7,2.1 0.7,0.2 0.7,1.4 0.7,1.4 0.7,0.8 0.7,1.1 0.7,0.2 0.7,0.8 0.7,1.4 0.7-0.5 0.7,1.4 0.7-0.5 0.7,1.3 0.7,0 0.7,0.3 0.7-0.3 0.7,0.3 0.7,1.1 0.7-0.4 0.7,0.3 0.7,1.2 0.7,0.6 0.7-0.3 0.7,2 0.7,0.5 0.7,0.9 0.7,0.8 0.7,1.4 0.7,1.7 0.7,0.1 0.7,0.7 0.7,1 0.7,1 0.7,1.5 0.7,2 0.7,0.4 0.7,1.7 0.7,2.5 0.7,1.7 0.7,1.7 0.7,0.7 0.7,1.8 0.7,2.3 0.7,1 0.7,1.7 0.7,0.9 0.7,1 0.7,1.8 0.7,1.9 0.7,1.5 0.7,1.2 0.7,1.2 0.7,1.4 0.7,1.2 0.7,1.4 0.7,1.7 0.7,0.5 0.7,1.7 0.7,1.7 0.7,1.1 0.7,0.3 0.7,2.1 0.7,1 0.7,0.3 0.7,1.1 0.7,1 0.7,0.8 0.7,2.1 0.7,0.3 0.7,1.5 0.7,0 0.7,0.8 0.7,2 0.7,0.8 0.7,1 0.7,0.5 0.7,0.6 0.7,1.1 0.7-0.1 0.7,1.2 0.7,0.6 0.7,0.3 0.7,1.2 0.7,0.2 0.7,0.9 0.7,0.4 0.7,0.5 0.7,0.6 0.7,0.8 0.7,1 0.7,0.5 0.7,0.5 0.7,0.5 0.7-0.2 0.7,1.3 0.7-0.3 0.7,0.3 0.7,1 0.7,0.7 0.7,0 0.7,0.9 0.7,0 0.7,1.3 0.7-0.1 0.7,0.5 0.7,0.5 0.7,0.9 0.7,0.6 0.7,0 0.7,0.3 0.7,0.8 0.7-0.2 0.7,1 0.7,1 0.7,0.4 0.7-0.4 0.7,1.3 0.7-0.1 0.7,1.1 0.7-0.4 0.7,0.2 0.7,0.7 0.7,0.8 0.7-0.2 0.7,0.8 0.7,0.1 0.7-0.1 0.7,0.2 0.7,0.6 0.7,0.1 0.7,0.3 0.7,0.6 0.7,0.6 0.7-0.1 0.7-0.3 0.7,0.4 0.7,0.4 0.7,0.6 0.7-0.3 0.7,0.2 0.7,0.6 0.7,0.2" fill="none" stroke="#d5d5d5" stroke-width="1.5" stroke-linejoin="round" stroke-linecap="round"/>
<path d="M432.5,195.2l0.7,0.8 0.7,0.5 0.7-0.4 0.7,0.3 0.7,0.1 0.7,0 0.7,0 0.7-0.6 0.7,0.3 0.7-0.7 0.7,0.9 0.7-0.7 0.7,0.1 0.7,0.5 0.7-0.8 0.7-0.1 0.7,0.7 0.7-0.3 0.7-0.7 0.7-0.1 0.7,0.4 0.7-0.4 0.7,0.9 0.7-0.8 0.7,0.1 0.7,0.1 0.7,0.1 0.7-0.1 0.7,0.2 0.7,0 0.7-0.3 0.7-0.4 0.7,1 0.7-0.4 0.7-0.7 0.7,0.4 0.7,0.3 0.7,0.3 0.7-1.2 0.7,0 0.7,0.5 0.7-0.1 0.7,0.5 0.7-0.1 0.7-0.6 0.7,0.1 0.7,0.2 0.7,0.3 0.7-0.8 0.7,0.2 0.7-0.4 0.7,0.6 0.7-0.8 0.7,1.1 0.7-0.5 0.7,0 0.7-0.6 0.7,0.2 0.7,0.2 0.7,0.5 0.7-0.4 0.7-0.4 0.7,0.9 0.7-0.4 0.7-0.2 0.7-0.4 0.7,0.1 0.7,0.7 0.7-1 0.7,0.5 0.7,0.1 0.7-0.4 0.7,0.5 0.7,0.1 0.7,0 0.7-0.2 0.7-0.7 0.7-0.2 0.7,0.5 0.7-0.2 0.7-0.2 0.7,0.8 0.7-0.8 0.7,0.7 0.7,0.1 0.7-1 0.7,0.9 0.7-0.6 0.7-0.3 0.7,0 0.7-0.3 0.7,0.6 0.7-0.2 0.7,0.5 0.7-0.1 0.7-0.9 0.7,0.3 0.7,0 0.7-0.3 0.7,0 0.7,0 0.7,0.5 0.7-0.5 0.7-0.3 0.7,0.1 0.7,0.2 0.7,0.1 0.7-0.4 0.7,0.5 0.7-0.7 0.7,0.6 0.7-0.2 0.7-0.5 0.7,0.6 0.7-0.4 0.7,0.1 0.7,0 0.7,0 0.7-0.2 0.7-0.5 0.7,0.8 0.7,0.1 0.7-0.5 0.7,0.1 0.7-0.4 0.7,0.7 0.7-0.3 0.7-0.6 0.7,0.7 0.7,0.2 0.7-0.8 0.7,0.8 0.7-0.7 0.7-0.4 0.7,0.7 0.7-0.5 0.7,0.5 0.7-0.2 0.7-0.6 0.7,0.5 0.7,0.3 0.7-0.4 0.7,0 0.7,0.4 0.7-0.5 0.7,0 0.7,0 0.7,0.1 0.7-0.8 0.7-0.3 0.7,0.7 0.7-0.4 0.7-0.6 0.7,0.4 0.7-0.4 0.7-0.9 0.7,0.1 0.7-0.8 0.7-0.8 0.7-1.5 0.7-1.4 0.7-0.5 0.7-1.5 0.7-2.1 0.7-1.8 0.7-2 0.7-2.7 0.7-2.3 0.7-3.4 0.7-4 0.7-4.4 0.7-3.6 0.7-4.6 0.7-4.2 0.7-5.4 0.7-4.4 0.7-4.8 0.7-4.2 0.7-4.2 0.7-4.7 0.7-3.6 0.7-2.7 0.7-3.7 0.7-3.5 0.7-5.2 0.7-5.3 0.7-4.5 0.7-3.9 0.7-3.5 0.7-3.1 0.7-2.4 0.7-2.2 0.7-1.4 0.7-1.3 0.7-0.3 0.7-1.9 0.7,0.3 0.7-1.1 0.7-0.3 0.7-0.3 0.7,1.1 0.7-0.5 0.7,1 0.7,0.5 0.7,0.4 0.7,0.9 0.7,1.9 0.7,0.9 0.7,1.2 0.7,1.7 0.7,0.6 0.7,2.2 0.7,1.4 0.7,0.6 0.7,1.5 0.7,1.8 0.7,0.4 0.7,1.7 0.7,0.4 0.7,1.6 0.7,0.5 0.7,1.1 0.7,0.5 0.7,1.1 0.7,0.4 0.7,0.2 0.7,0.6 0.7,0.1 0.7,0.7 0.7-0.3 0.7,0.7 0.7,0.4 0.7,0.1 0.7-0.2 0.7,0.5 0.7,0.8 0.7-0.1 0.7,1.2 0.7,0.4 0.7,1.4 0.7,0.8 0.7,0.9 0.7,0.6 0.7,0.6 0.7,1.6 0.7,1.1 0.7,1.1 0.7,0 0.7,1 0.7,2.1 0.7,1 0.7,1 0.7,1.8 0.7,0.8 0.7,2 0.7,1.8 0.7,1.4 0.7,1.1 0.7,1.4 0.7,2 0.7,1.7 0.7,0.5 0.7,1.1 0.7,1.4 0.7,2.2 0.7,0.9 0.7,1.5 0.7,1.9 0.7,0.8 0.7,0.8 0.7,1.8 0.7,0.4 0.7,1.5 0.7,1.7 0.7,0.6 0.7,1 0.7,1.7 0.7,0.8 0.7,1.9 0.7-0.1 0.7,1.9 0.7,0.5 0.7,1.4 0.7,0.5 0.7,1.2 0.7,0.6 0.7,0.7 0.7,1.2 0.7,1.3 0.7,0.3 0.7,0.6 0.7,1.1 0.7,0.3 0.7,1 0.7,1.1 0.7,0.6 0.7,0.7 0.7,0.3 0.7,0.3 0.7,0.5 0.7,1 0.7,0.4 0.7,1 0.7,0.1 0.7,1.2 0.7,0.3 0.7,0.6 0.7,0.6 0.7,0.2 0.7,0.4 0.7,0.4 0.7,0.2 0.7,1.3 0.7,0.1 0.7,0 0.7,1.4 0.7,0.1 0.7,0.5 0.7,0.2 0.7,0.1 0.7,1.5 0.7-0.5 0.7,0.7 0.7,1.2 0.7-0.6 0.7,0.9 0.7,0.5 0.7,0.2 0.7,1.3 0.7-0.2 0.7,0 0.7,1 0.7-0.2 0.7,1.3 0.7,0.5 0.7,0.4 0.7-0.7 0.7,1.1 0.7-0.1 0.7,0.5 0.7,0.1 0.7,0.3 0.7,0.1 0.7,0.9 0.7-0.4 0.7,1.3 0.7-0.8 0.7,1.4 0.7-0.7 0.7,0.1 0.7,1.1 0.7,0 0.7,0.5 0.7,0 0.7,0.4 0.7-0.4 0.7,0.9 0.7,0.1" fill="none" stroke="#d5d5d5" stroke-width="1.5" stroke-linejoin="round" stroke-linecap="round"/>
<path d="M432.5,196.1l0.7-1 0.7,0.2 0.7,0.8 0.7,0.3 0.7-0.6 0.7,0.4 0.7-0.3 0.7-0.2 0.7,0.1 0.7,0.1 0.7-0.7 0.7,0.2 0.7,0.5 0.7-0.6 0.7,0.2 0.7-0.3 0.7,0.1 0.7,0.3 0.7,0 0.7,0.3 0.7-0.7 0.7-0.3 0.7,0.1 0.7-0.4 0.7,0.2 0.7,0.4 0.7,0 0.7-0.5 0.7-0.1 0.7-0.2 0.7,0.1 0.7,0.3 0.7-0.3 0.7,0.7 0.7-0.4 0.7-0.3 0.7,0.1 0.7-0.5 0.7,0.8 0.7,0 0.7-0.5 0.7,0.4 0.7-0.6 0.7-0.1 0.7,0 0.7-0.1 0.7,0.4 0.7,0 0.7,0.1 0.7-0.8 0.7,0.8 0.7-0.4 0.7-0.1 0.7,0.1 0.7-0.1 0.7-0.3 0.7,0.2 0.7,0.2 0.7,0.1 0.7,0.2 0.7-0.9 0.7,0.8 0.7-0.1 0.7-0.2 0.7,0.3 0.7-1 0.7,0.7 0.7,0.1 0.7-0.9 0.7,0.5 0.7,0.4 0.7-0.8 0.7,0.7 0.7,0 0.7-0.6 0.7-0.4 0.7,0.1 0.7,0.7 0.7-0.5 0.7-0.2 0.7,0.1 0.7,0.6 0.7-0.9 0.7-0.3 0.7,1.1 0.7-0.8 0.7,0 0.7,0.7 0.7-0.9 0.7-0.3 0.7,1 0.7-0.9 0.7,0 0.7,0.8 0.7-0.9 0.7,0.7 0.7-0.7 0.7-0.1 0.7-0.2 0.7,0.3 0.7,0 0.7-0.2 0.7,0 0.7-0.3 0.7,0.6 0.7,0.1 0.7-0.3 0.7,0 0.7-0.9 0.7,0.1 0.7-0.1 0.7-0.1 0.7,0.9 0.7-0.1 0.7,0 0.7-0.5 0.7-0.6 0.7,0.3 0.7-0.5 0.7,1 0.7-0.8 0.7,0 0.7,0.7 0.7-0.9 0.7,0.8 0.7-0.8 0.7,0.4 0.7-0.7 0.7,0.9 0.7-0.6 0.7-0.1 0.7,0.3 0.7-0.1 0.7-0.4 0.7-0.2 0.7,0.6 0.7-0.7 0.7,1 0.7-0.7 0.7-0.2 0.7,0.2 0.7-0.3 0.7,0.2 0.7,0.3 0.7-0.2 0.7-0.1 0.7-0.2 0.7,0.1 0.7,0.3 0.7-0.5 0.7,0.2 0.7-0.5 0.7-0.6 0.7-0.2 0.7,0.4 0.7-0.8 0.7-0.6 0.7-0.4 0.7-0.2 0.7-1.4 0.7-1 0.7-1.2 0.7-1.8 0.7-0.9 0.7-1.8 0.7-1.9 0.7-2.2 0.7-2.5 0.7-2.6 0.7-4.1 0.7-2.7 0.7-4.8 0.7-3 0.7-5 0.7-3.6 0.7-4.8 0.7-4.4 0.7-3.5 0.7-3.6 0.7-3.7 0.7-3.2 0.7-2.8 0.7-4.2 0.7-3.1 0.7-4.7 0.7-3.9 0.7-4.9 0.7-3.7 0.7-3 0.7-2.2 0.7-2.5 0.7-1.4 0.7-1.9 0.7-1.8 0.7-0.1 0.7-1.8 0.7-0.7 0.7,0.4 0.7-1 0.7,0.4 0.7-0.6 0.7,0.6 0.7,1 0.7-0.2 0.7,1.2 0.7,1.3 0.7,0 0.7,1.5 0.7,1.2 0.7,1.2 0.7,1.6 0.7,1.2 0.7,0.4 0.7,1.3 0.7,1.5 0.7,1.6 0.7,0.1 0.7,1.5 0.7,0.5 0.7,1.8 0.7,0.3 0.7,0.8 0.7,0.8 0.7-0.1 0.7,1.1 0.7,0.5 0.7,0.5 0.7-0.4 0.7,0.3 0.7,0.2 0.7,1.2 0.7-0.2 0.7,0.2 0.7,0.5 0.7,0.4 0.7-0.1 0.7,0.4 0.7,1 0.7,0.6 0.7,0.3 0.7,0.6 0.7,1.9 0.7,0.8 0.7,0.7 0.7,0.7 0.7,1.5 0.7,0.1 0.7,0.6 0.7,0.8 0.7,1.4 0.7,1.4 0.7,1 0.7,2.1 0.7,1 0.7,1.2 0.7,1.7 0.7,1.3 0.7,1.5 0.7,1.2 0.7,1.4 0.7,1.2 0.7,1.6 0.7,0.5 0.7,1.9 0.7,0.7 0.7,1.9 0.7,0.3 0.7,1.8 0.7,1.1 0.7,1.4 0.7,0.6 0.7,1.2 0.7,1 0.7,1.6 0.7,1.1 0.7,0.4 0.7,1.2 0.7,1.1 0.7,1.9 0.7,0.3 0.7,1.1 0.7,0.6 0.7,1.3 0.7,1.1 0.7,0.7 0.7,0.1 0.7,1.3 0.7,0.9 0.7,0.3 0.7,1.7 0.7,0.2 0.7,0.7 0.7,1.1 0.7,0.7 0.7,0.5 0.7,1.1 0.7,0.2 0.7,0.4 0.7,0.2 0.7,1.2 0.7,0.3 0.7,0.7 0.7,0.3 0.7,0.1 0.7,0.5 0.7,0.7 0.7,0.4 0.7,1.4 0.7,0.1 0.7,0.1 0.7,1 0.7,0.4 0.7-0.3 0.7,1.3 0.7-0.2 0.7,1.3 0.7-0.6 0.7,0.6 0.7,0.4 0.7,1.2 0.7,0.3 0.7,0.2 0.7-0.1 0.7,0.7 0.7,0.8 0.7-0.3 0.7,1.5 0.7,0.3 0.7,0.6 0.7,0.1 0.7,0.3 0.7,0.9 0.7-0.5 0.7,0.4 0.7,0.1 0.7,0.4 0.7,1.1 0.7-0.6 0.7,1.1 0.7-0.1 0.7,0.8 0.7,0.2 0.7,0.1 0.7,0.5 0.7-0.7 0.7,0.5 0.7,0.4 0.7,0.3 0.7,0.5 0.7,0.5 0.7,0.1 0.7,0.5 0.7-0.1 0.7-0.1 0.7,0.4 0.7,0.5 0.7,0.3 0.7-0.3" fill="none" stroke="#d5d5d5" stroke-width="1.5" stroke-linejoin="round" stroke-linecap="round"/>
<path d="M432.5,195l0.7,0.5 0.7-0.3 0.7,0.9 0.7-1 0.7,0.7 0.7-0.2 0.7-0.4 0.7,0.4 0.7-0.1 0.7,0.5 0.7-0.2 0.7-0.4 0.7,0.3 0.7-0.1 0.7-0.9 0.7,0.7 0.7,0 0.7,0.1 0.7-0.3 0.7-0.5 0.7-0.3 0.7,0.4 0.7-0.6 0.7,0.6 0.7-0.2 0.7,0.2 0.7-0.6 0.7-0.1 0.7,0.6 0.7-0.3 0.7-0.4 0.7,0.2 0.7-0.2 0.7,0.2 0.7-0.2 0.7-0.4 0.7,0.8 0.7-0.2 0.7-0.2 0.7-0.6 0.7-0.1 0.7,0.6 0.7,0 0.7-0.2 0.7-0.6 0.7,0.6 0.7-0.3 0.7-0.3 0.7,0.2 0.7-0.2 0.7,0.2 0.7,0.1 0.7,0.2 0.7-1.1 0.7,0.5 0.7,0.4 0.7-0.4 0.7-0.1 0.7,0.3 0.7-1 0.7,0.8 0.7-0.2 0.7-0.1 0.7-0.4 0.7,0.4 0.7-0.7 0.7,0.5 0.7-0.4 0.7,0.8 0.7-0.2 0.7-0.4 0.7,0.3 0.7-0.5 0.7,0.1 0.7-0.5 0.7,0.8 0.7-0.1 0.7-0.1 0.7-0.8 0.7,0.8 0.7-1 0.7,0.6 0.7-0.1 0.7-0.6 0.7,0.4 0.7,0.5 0.7-0.4 0.7-0.4 0.7,0.5 0.7-0.6 0.7,0.6 0.7-0.7 0.7-0.5 0.7,1 0.7-1.1 0.7,0.1 0.7,0.6 0.7-0.9 0.7,0.4 0.7,0.3 0.7-0.4 0.7-0.4 0.7,0.4 0.7,0 0.7-0.4 0.7,0 0.7-0.4 0.7,0 0.7,0.6 0.7-0.1 0.7-1.2 0.7,0.1 0.7,0 0.7,0.6 0.7-0.8 0.7-0.1 0.7,0.7 0.7-0.8 0.7,0.9 0.7-0.7 0.7,0.5 0.7-0.2 0.7-0.8 0.7,0.6 0.7-0.5 0.7-0.3 0.7-0.2 0.7,0.7 0.7-0.2 0.7-0.4 0.7,0.6 0.7-0.8 0.7,0.3 0.7-0.5 0.7,0.3 0.7,0.6 0.7-0.5 0.7-0.4 0.7,0.1 0.7,0.5 0.7-0.5 0.7,0.7 0.7-1 0.7,1 0.7-0.3 0.7,0.2 0.7-0.7 0.7-0.4 0.7,0 0.7,0.5 0.7-0.9 0.7,0 0.7,0.7 0.7-0.2 0.7-0.3 0.7-0.3 0.7-0.8 0.7,0 0.7-0.7 0.7-0.9 0.7-0.9 0.7-1.5 0.7-1 0.7-1 0.7-1.2 0.7-1.9 0.7-0.8 0.7-2.5 0.7-2.2 0.7-2.6 0.7-3.8 0.7-2.2 0.7-3.1 0.7-4.2 0.7-3.7 0.7-2.6 0.7-3.2 0.7-3.5 0.7-3.7 0.7-2.8 0.7-3.2 0.7-2.3 0.7-2.3 0.7-2.5 0.7-4.3 0.7-2.9 0.7-4.8 0.7-2.1 0.7-3.4 0.7-1.4 0.7-1.8 0.7-1.3 0.7-1.9 0.7-0.8 0.7-1.4 0.7-0.2 0.7-1.5 0.7,0.5 0.7-0.7 0.7-0.8 0.7,1.1 0.7-0.5 0.7,0 0.7,0.7 0.7,0.2 0.7,0.9 0.7,1.2 0.7,1.1 0.7,0.4 0.7,1.3 0.7,1.1 0.7,0.9 0.7,0.5 0.7,0.7 0.7,0.8 0.7,1.3 0.7,0.4 0.7,1.5 0.7,0.2 0.7,1.1 0.7,0.6 0.7,0.7 0.7-0.1 0.7,0.5 0.7,0.9 0.7-0.2 0.7,0.8 0.7,0.7 0.7-0.4 0.7,0.9 0.7-0.1 0.7,0.7 0.7-0.2 0.7,0.5 0.7,0.2 0.7-0.3 0.7,0.7 0.7,0.5 0.7,0.4 0.7,1 0.7,1 0.7,0.7 0.7,0.8 0.7,0 0.7,1.4 0.7,0.6 0.7,1.1 0.7-0.4 0.7,1 0.7,1.9 0.7,0.3 0.7,1.4 0.7,1 0.7,1 0.7,1.2 0.7,1.4 0.7,1.7 0.7,0.6 0.7,1.5 0.7,0.5 0.7,1.6 0.7,0.9 0.7,1.2 0.7,1.2 0.7,0.2 0.7,2.1 0.7,0.7 0.7,0.6 0.7,1.3 0.7,0.5 0.7,1.2 0.7,1.7 0.7,0.8 0.7,1.1 0.7,0.2 0.7,0.8 0.7,1.2 0.7,1.1 0.7,1.1 0.7,0.3 0.7,1.4 0.7,0.6 0.7,0.4 0.7,1.4 0.7-0.1 0.7,1.4 0.7,0.3 0.7,0.5 0.7,1.3 0.7,0.7 0.7,0.8 0.7,0.4 0.7,1.3 0.7,0.4 0.7-0.2 0.7,0.4 0.7,1.7 0.7-0.1 0.7,0.2 0.7,0.5 0.7,1.2 0.7-0.2 0.7,0.7 0.7,0.8 0.7,0.1 0.7,0.8 0.7,0.8 0.7,0.2 0.7,0.3 0.7,0.4 0.7,0 0.7,0.8 0.7,0.4 0.7,0.3 0.7,0.2 0.7,0.7 0.7-0.2 0.7,0.9 0.7,0.7 0.7-0.7 0.7,0.6 0.7,1.2 0.7-0.7 0.7,1.3 0.7,0.1 0.7-0.3 0.7,1.1 0.7-0.4 0.7,1.4 0.7-0.3 0.7,1.1 0.7,0.4 0.7-0.6 0.7,0.6 0.7,0 0.7,1 0.7-0.5 0.7,0.2 0.7,0.3 0.7,1.1 0.7-0.5 0.7,0.3 0.7,0.4 0.7,0.4 0.7,0 0.7,0.9 0.7-0.5 0.7,0.4 0.7,0.6 0.7-0.5 0.7,0.1 0.7,1 0.7-0.4 0.7,0.9 0.7,0.1 0.7-0.3 0.7,0.1 0.7-0.1" fill="none" stroke="#d5d5d5" stroke-width="1.5" stroke-linejoin="round" stroke-linecap="round"/>
<path d="M432.5,195.2l0.7-0.2 0.7,0.1 0.7-0.1 0.7,0.1 0.7,0.7 0.7-0.9 0.7,0.5 0.7,0 0.7-0.2 0.7-0.1 0.7-0.2 0.7-0.3 0.7,0.6 0.7,0 0.7-0.5 0.7-0.4 0.7,0.7 0.7-1 0.7-0.1 0.7,0.5 0.7,0.1 0.7-0.4 0.7-0.6 0.7,1 0.7-1.1 0.7,0.2 0.7,0.7 0.7-0.4 0.7-0.1 0.7-0.9 0.7,0.9 0.7-0.6 0.7-0.5 0.7,0.8 0.7,0.1 0.7-1.1 0.7,0.4 0.7,0.5 0.7-0.8 0.7-0.1 0.7,0.5 0.7-0.4 0.7,0.6 0.7-0.3 0.7,0 0.7-0.3 0.7-0.7 0.7,0.6 0.7-0.2 0.7-0.2 0.7,0 0.7-0.3 0.7-0.2 0.7,0.8 0.7-0.8 0.7-0.3 0.7,1 0.7-0.7 0.7,0.2 0.7-0.5 0.7-0.3 0.7,0.2 0.7,0.5 0.7-0.7 0.7,0.7 0.7-0.8 0.7,0.7 0.7-0.9 0.7,0.3 0.7-0.5 0.7,0 0.7,0.4 0.7-0.2 0.7,0.1 0.7-0.4 0.7,0 0.7,0 0.7,0.6 0.7-1 0.7,0.3 0.7,0.5 0.7-0.4 0.7-0.5 0.7,0.9 0.7-1.2 0.7,0 0.7-0.2 0.7,0.4 0.7,0.4 0.7-0.8 0.7,0 0.7,0.5 0.7-1 0.7-0.2 0.7,0.7 0.7-0.8 0.7,0.4 0.7-0.5 0.7,0.4 0.7,0.2 0.7-0.6 0.7-0.3 0.7,0.3 0.7-0.1 0.7-0.8 0.7,0.1 0.7,0 0.7,0.1 0.7-0.4 0.7,0.3 0.7-0.5 0.7,0.7 0.7-0.8 0.7-0.3 0.7-0.2 0.7-0.1 0.7,0.1 0.7,0.7 0.7-0.7 0.7,0 0.7,0.5 0.7-0.1 0.7-0.3 0.7-0.7 0.7,0 0.7,0.1 0.7-0.3 0.7,0 0.7-0.2 0.7,0 0.7,0.5 0.7-0.2 0.7-0.3 0.7,0 0.7,0.2 0.7,0 0.7-0.8 0.7,1 0.7-0.5 0.7-0.2 0.7,0.8 0.7-0.3 0.7-0.5 0.7-0.4 0.7,0.5 0.7,0 0.7-0.2 0.7-0.4 0.7,0.5 0.7-0.4 0.7,0.5 0.7-0.4 0.7-0.4 0.7,0.5 0.7-0.7 0.7-0.7 0.7,0 0.7-0.6 0.7,0 0.7,0.1 0.7-0.5 0.7-1.1 0.7-1.4 0.7-0.9 0.7-1.1 0.7-1 0.7-1 0.7-2.3 0.7-1.2 0.7-2.2 0.7-2 0.7-2.1 0.7-2.9 0.7-2.3 0.7-3 0.7-2.4 0.7-2.3 0.7-3.2 0.7-1.9 0.7-2.3 0.7-2.5 0.7-1.8 0.7-1.3 0.7-2.8 0.7-2.9 0.7-2.8 0.7-2.5 0.7-2.7 0.7-2 0.7-1.7 0.7-1.5 0.7-0.9 0.7-1 0.7-1.6 0.7-0.2 0.7-1.1 0.7,0.2 0.7-0.5 0.7-1.4 0.7,0.5 0.7-0.4 0.7-0.2 0.7,1.1 0.7,0.3 0.7,0.2 0.7,0.2 0.7,0.9 0.7,0 0.7,0.8 0.7,0.7 0.7,1 0.7,0.7 0.7,0 0.7,0.5 0.7,1.1 0.7,0.6 0.7,0.3 0.7,1.2 0.7,0.5 0.7,0.4 0.7,0.3 0.7,0.6 0.7-0.3 0.7,1 0.7-0.5 0.7,1.2 0.7-0.1 0.7-0.2 0.7,0.2 0.7,0.7 0.7,0.1 0.7,0.5 0.7-0.4 0.7,1.2 0.7-0.3 0.7,0.2 0.7,0.7 0.7,0.3 0.7,0.2 0.7,0.4 0.7,0.8 0.7,0.2 0.7,0.9 0.7,1.3 0.7-0.2 0.7,0.5 0.7,1.5 0.7,0.1 0.7,0.8 0.7,0.8 0.7,1 0.7,0.4 0.7,1.4 0.7,0.1 0.7,1.9 0.7,0.3 0.7,1.4 0.7,0.6 0.7,1.4 0.7,0.5 0.7,1.2 0.7,0.5 0.7,1.5 0.7,0.8 0.7,0.1 0.7,1.6 0.7,1.1 0.7,0.1 0.7,0.7 0.7,1.8 0.7,0.8 0.7-0.1 0.7,1.5 0.7,1 0.7,0 0.7,1.4 0.7,0.2 0.7,1.3 0.7,0.4 0.7,0.7 0.7,0.3 0.7,1.3 0.7,0.7 0.7,0.2 0.7,0.4 0.7,0.7 0.7,0.8 0.7,1.5 0.7,0.3 0.7,0.8 0.7,0.4 0.7-0.2 0.7,0.9 0.7,1.2 0.7,0.4 0.7,0.7 0.7,0.3 0.7,0.3 0.7,0.5 0.7,0.7 0.7-0.2 0.7-0.1 0.7,0.8 0.7,0 0.7,0.7 0.7,0.8 0.7,0 0.7,0.4 0.7,0.1 0.7,0.7 0.7,0.5 0.7,0.5 0.7,0.7 0.7-0.7 0.7,0.6 0.7,0.1 0.7,1.3 0.7,0 0.7,0.3 0.7,0.5 0.7-0.7 0.7,1.4 0.7-0.3 0.7,0.6 0.7,0.1 0.7,0.7 0.7-0.2 0.7,0.3 0.7,0.2 0.7,0.9 0.7,0 0.7-0.1 0.7,0.5 0.7,0.5 0.7,0 0.7,0.5 0.7,0.5 0.7,0 0.7,0.4 0.7-0.4 0.7,0.9 0.7,0.2 0.7-0.3 0.7-0.4 0.7,0.3 0.7,1 0.7,0.3 0.7,0 0.7-0.1 0.7,0.2 0.7-0.3 0.7,0.7 0.7,0.7 0.7-0.8 0.7,0.6 0.7,0.5 0.7-0.1 0.7-0.2" fill="none" stroke="#d5d5d5" stroke-width="1.5" stroke-linejoin="round" stroke-linecap="round"/>
<path d="M432.5,194.1l0.7,0.9 0.7,0.6 0.7,0 0.7-0.5 0.7,0.4 0.7,0 0.7-0.6 0.7,0.4 0.7-0.5 0.7-0.3 0.7-0.4 0.7,0.8 0.7-0.1 0.7-0.9 0.7-0.1 0.7,0.2 0.7-0.2 0.7,0.5 0.7-0.8 0.7,0.4 0.7-0.1 0.7-0.4 0.7,0.5 0.7-0.6 0.7,0 0.7,0.1 0.7-0.4 0.7-0.3 0.7,0.8 0.7-0.3 0.7-0.3 0.7-0.2 0.7,0.1 0.7-0.5 0.7-0.3 0.7,0.4 0.7,0.4 0.7-1 0.7,0.9 0.7-0.8 0.7,0.7 0.7-0.4 0.7-0.6 0.7-0.2 0.7,0.7 0.7,0.1 0.7-0.3 0.7-0.3 0.7-0.2 0.7,0.2 0.7,0 0.7,0 0.7-0.8 0.7,0.6 0.7,0.1 0.7-0.6 0.7-0.7 0.7,0.1 0.7,0.5 0.7-0.3 0.7,0.5 0.7-0.4 0.7,0 0.7-0.7 0.7,0.4 0.7,0.1 0.7,0.2 0.7-0.1 0.7-0.8 0.7,0.2 0.7,0.5 0.7-1.1 0.7-0.1 0.7,0.1 0.7,0.6 0.7-0.6 0.7,0.4 0.7,0.1 0.7-0.1 0.7-1 0.7,0.7 0.7,0.1 0.7-0.2 0.7,0.1 0.7-0.1 0.7-0.3 0.7,0.2 0.7-0.5 0.7-0.6 0.7,0.1 0.7,0.6 0.7-0.8 0.7,0.1 0.7,0.3 0.7-0.3 0.7,0 0.7-0.5 0.7-0.1 0.7-0.7 0.7,0 0.7-0.2 0.7,0.4 0.7-0.2 0.7-0.7 0.7,0.6 0.7-0.8 0.7,0.2 0.7-0.5 0.7,0.4 0.7-0.5 0.7,0.8 0.7-0.8 0.7,0.4 0.7-0.5 0.7-0.3 0.7,0.5 0.7-0.8 0.7,0.2 0.7,0.1 0.7,0.3 0.7-0.5 0.7-0.9 0.7,0.4 0.7,0.5 0.7-0.2 0.7-0.7 0.7-0.3 0.7,0.1 0.7,0.5 0.7-0.8 0.7,0.8 0.7-0.8 0.7,0.4 0.7,0 0.7-0.6 0.7,0.3 0.7,0.1 0.7-0.5 0.7,0.3 0.7,0.1 0.7,0.4 0.7-0.8 0.7-0.1 0.7,0.4 0.7,0.1 0.7-0.2 0.7,0.5 0.7-0.9 0.7,0.3 0.7-0.1 0.7-0.4 0.7,0.2 0.7-0.1 0.7-0.2 0.7,0.3 0.7,0.1 0.7-0.3 0.7-1.1 0.7-0.1 0.7,0.3 0.7-1.5 0.7-0.5 0.7-0.6 0.7,0.3 0.7-1.3 0.7-1 0.7-1.4 0.7-0.3 0.7-1.2 0.7-2 0.7-1.4 0.7-2.1 0.7-2.1 0.7-2.1 0.7-1.8 0.7-2.1 0.7-1.7 0.7-2.3 0.7-1.8 0.7-0.8 0.7-1.6 0.7-1.6 0.7-2.1 0.7-1.6 0.7-1.9 0.7-1.9 0.7-2.8 0.7-1.6 0.7-1.6 0.7-0.9 0.7-1.8 0.7-1.4 0.7-0.5 0.7-0.3 0.7-1.6 0.7-0.1 0.7-1.2 0.7-0.3 0.7,0.1 0.7-0.9 0.7,0.3 0.7,0.2 0.7-0.2 0.7,0.6 0.7,0.3 0.7-0.4 0.7,0.9 0.7,0.3 0.7,0.2 0.7,0.5 0.7,0.5 0.7,0.7 0.7,0.4 0.7,0 0.7,0.8 0.7,0.5 0.7,0.1 0.7,1 0.7-0.3 0.7,0.6 0.7,0.3 0.7,0.4 0.7-0.3 0.7,0.8 0.7-0.4 0.7,0.7 0.7,0.1 0.7,0.5 0.7,0.4 0.7,0.3 0.7-0.7 0.7,1.1 0.7-0.3 0.7,0.3 0.7-0.3 0.7,1.2 0.7-0.4 0.7,0.4 0.7,0.4 0.7,0.4 0.7,0.6 0.7,0.5 0.7,0.8 0.7,0.4 0.7,1 0.7,0.7 0.7,0.5 0.7-0.2 0.7,0.9 0.7,0.7 0.7,0.7 0.7,0.3 0.7,0.5 0.7,1.4 0.7,0.7 0.7,0.4 0.7,1.1 0.7,0.1 0.7,1.6 0.7,0.9 0.7,0.8 0.7-0.3 0.7,1.4 0.7,0.9 0.7-0.1 0.7,1.4 0.7,0.2 0.7,0.8 0.7,0.5 0.7,1 0.7,1.4 0.7,0.4 0.7,0.9 0.7,0.9 0.7-0.3 0.7,1.5 0.7,0.7 0.7,0.3 0.7,0.3 0.7,0.4 0.7,0.9 0.7,0.5 0.7,0.5 0.7,1.1 0.7,0.5 0.7,0.1 0.7,0.5 0.7,0.9 0.7,0.8 0.7,0.4 0.7,0.5 0.7,0.8 0.7,0.4 0.7,0 0.7,0.9 0.7,0.3 0.7,0.1 0.7,0.2 0.7,0.6 0.7,0.9 0.7,0.4 0.7-0.2 0.7,0.7 0.7-0.2 0.7,1 0.7,0.1 0.7,0.7 0.7,0.5 0.7-0.7 0.7,1.4 0.7-0.6 0.7,1.2 0.7,0.4 0.7-0.7 0.7,0.4 0.7,0.1 0.7,1.2 0.7,0.1 0.7,0.5 0.7,0.1 0.7-0.3 0.7,0.8 0.7-0.3 0.7,0.3 0.7,0.4 0.7,0.6 0.7-0.2 0.7,0.5 0.7,0.3 0.7,0.5 0.7-0.1 0.7,0.1 0.7,0.4 0.7,0.1 0.7,0.5 0.7-0.5 0.7,0.2 0.7,0 0.7,0.7 0.7,0.6 0.7-0.1 0.7,0.2 0.7,0.5 0.7,0 0.7-0.4 0.7,0 0.7,0.6 0.7-0.3 0.7,0.6 0.7-0.5 0.7,0.6 0.7,0.5 0.7-0.4 0.7,0 0.7,0.9 0.7-0.6 0.7,1 0.7-0.2" fill="none" stroke="#d5d5d5" stroke-width="1.5" stroke-linejoin="round" stroke-linecap="round"/>
<path d="M432.5,194.6l0.7,0 0.7,0.2 0.7-0.1 0.7-0.2 0.7,1 0.7-0.9 0.7-0.2 0.7,0.9 0.7-0.6 0.7,0 0.7,0.3 0.7-0.4 0.7-0.7 0.7,0 0.7,0.3 0.7-0.1 0.7-0.7 0.7-0.1 0.7,0.2 0.7-0.6 0.7,0.7 0.7-0.2 0.7-0.8 0.7,0.4 0.7,0 0.7-0.8 0.7,0.4 0.7,0.3 0.7-0.5 0.7,0.2 0.7-0.7 0.7,0.9 0.7-0.5 0.7-0.3 0.7-0.7 0.7,0.3 0.7-0.5 0.7,0.4 0.7-0.4 0.7,0 0.7,0 0.7-0.3 0.7,0.1 0.7,0.2 0.7-0.6 0.7,0.5 0.7,0.3 0.7-0.3 0.7,0.2 0.7-1.1 0.7,0.5 0.7-0.6 0.7,0.8 0.7-0.6 0.7,0.2 0.7-0.1 0.7-0.8 0.7-0.1 0.7,0.7 0.7,0 0.7-0.6 0.7-0.5 0.7-0.1 0.7,0.8 0.7-0.2 0.7-0.4 0.7,0.3 0.7,0.1 0.7-1.1 0.7,0.9 0.7,0.2 0.7-0.2 0.7-0.1 0.7-0.6 0.7,0.1 0.7-0.6 0.7,0.7 0.7-0.2 0.7-0.4 0.7-0.5 0.7,0 0.7,0.2 0.7,0.6 0.7-0.7 0.7,0.4 0.7-0.9 0.7,0 0.7-0.2 0.7,0 0.7,0.5 0.7-0.7 0.7-0.1 0.7,0.3 0.7-0.5 0.7,0.4 0.7-0.3 0.7,0 0.7-0.7 0.7-0.2 0.7,0 0.7,0.4 0.7-0.2 0.7-0.6 0.7-0.2 0.7-0.7 0.7,0.8 0.7-0.4 0.7-0.4 0.7-0.5 0.7,0.3 0.7,0.1 0.7-0.6 0.7-0.2 0.7,0.2 0.7-0.1 0.7-0.7 0.7-0.1 0.7,0.2 0.7,0.3 0.7-0.5 0.7-0.5 0.7,0.1 0.7-0.2 0.7,0.6 0.7-0.7 0.7,0.8 0.7-1 0.7-0.2 0.7-0.3 0.7,0.5 0.7,0 0.7,0.2 0.7-0.2 0.7-0.2 0.7-0.6 0.7,1 0.7-0.9 0.7,0 0.7-0.1 0.7,0.5 0.7,0 0.7-0.4 0.7,0 0.7-0.3 0.7,0.6 0.7,0.2 0.7-0.8 0.7,0.1 0.7,0.6 0.7-0.1 0.7-0.7 0.7,1 0.7-0.4 0.7-0.1 0.7-0.6 0.7,0.6 0.7-0.8 0.7,0.1 0.7,0.2 0.7-0.4 0.7-1.1 0.7-0.4 0.7-0.3 0.7-0.6 0.7,0.3 0.7-1 0.7-0.8 0.7-1 0.7-0.8 0.7-1.1 0.7-0.8 0.7-1.6 0.7-0.7 0.7-1.3 0.7-1.3 0.7-1.5 0.7-2 0.7-1.1 0.7-0.8 0.7-1.8 0.7-0.9 0.7-1.6 0.7-0.4 0.7-1.8 0.7-1.4 0.7-1 0.7-2.4 0.7-1.5 0.7-0.6 0.7-1 0.7-1.3 0.7-0.6 0.7-0.3 0.7-0.7 0.7-0.6 0.7-0.8 0.7-1.4 0.7-0.1 0.7-0.3 0.7-0.7 0.7,0.7 0.7-0.7 0.7,0.6 0.7-0.1 0.7-0.4 0.7,0.2 0.7,0.3 0.7-0.2 0.7,0 0.7,0.8 0.7,0.1 0.7,0.3 0.7,0.9 0.7,0.2 0.7-0.1 0.7-0.3 0.7,1.2 0.7-0.4 0.7,0 0.7,1 0.7,0.4 0.7-0.6 0.7,0.5 0.7,0.5 0.7-0.3 0.7,0 0.7-0.1 0.7,0 0.7,1.2 0.7,0.1 0.7-0.5 0.7,0.7 0.7-0.3 0.7,0.9 0.7-0.2 0.7,0.6 0.7,0.1 0.7-0.2 0.7,0.9 0.7,0.5 0.7-0.3 0.7,0.4 0.7,0.7 0.7,1 0.7,0.7 0.7-0.2 0.7,0.9 0.7,0.2 0.7,0 0.7,0.7 0.7,1 0.7,0.1 0.7,0.6 0.7,0.9 0.7-0.1 0.7,1 0.7,0.6 0.7,0.7 0.7,0.8 0.7,0 0.7,0.9 0.7,0.6 0.7,0.1 0.7,1.4 0.7,0.8 0.7,0.2 0.7,0.4 0.7,0.6 0.7,0.7 0.7,0.5 0.7,0.4 0.7,1.4 0.7-0.1 0.7,0.4 0.7,1.1 0.7-0.2 0.7,0.9 0.7,0.8 0.7,0.9 0.7-0.1 0.7,0.2 0.7,1.6 0.7-0.6 0.7,0.9 0.7,0.6 0.7,1.1 0.7-0.3 0.7,0.4 0.7,0.5 0.7,0.5 0.7,0.2 0.7,1.3 0.7,0 0.7,0.7 0.7-0.2 0.7,0.9 0.7,0.7 0.7-0.5 0.7,1.3 0.7-0.5 0.7,0.9 0.7,0.6 0.7-0.3 0.7,0.9 0.7-0.3 0.7,0.4 0.7,0.8 0.7-0.1 0.7-0.3 0.7,0.3 0.7,0.8 0.7,0 0.7-0.1 0.7,1.2 0.7-0.4 0.7,1 0.7-0.5 0.7,0.1 0.7,0.5 0.7,0.7 0.7,0.3 0.7-0.2 0.7-0.1 0.7,0.5 0.7-0.1 0.7,0.4 0.7-0.2 0.7,0.2 0.7,1.3 0.7,0 0.7-0.4 0.7,0.6 0.7-0.5 0.7,1.1 0.7-0.1 0.7,0.3 0.7-0.2 0.7,0.1 0.7,0.6 0.7-0.4 0.7-0.2 0.7,0.2 0.7,1.1 0.7-0.7 0.7-0.1 0.7,0.7 0.7-0.4 0.7,0.5 0.7,0.5 0.7-0.5 0.7,0.3 0.7,0.8 0.7,0 0.7,0.1 0.7-0.9 0.7,1.3 0.7-0.4 0.7-0.4" fill="none" stroke="#d5d5d5" stroke-width="1.5" stroke-linejoin="round" stroke-linecap="round"/>
<path d="M432.5,194.5l0.7-0.6 0.7,1.3 0.7-1 0.7,0.2 0.7,0.4 0.7,0.1 0.7-0.1 0.7,0.2 0.7-1 0.7,0.7 0.7-0.6 0.7,0.6 0.7-0.5 0.7-0.1 0.7-0.8 0.7,0.8 0.7-0.9 0.7-0.2 0.7,0.1 0.7,0.3 0.7-0.6 0.7,0 0.7,0 0.7-0.5 0.7-0.3 0.7,0.3 0.7,0.2 0.7-0.1 0.7-0.7 0.7,0.4 0.7,0.1 0.7-0.2 0.7-0.7 0.7-0.3 0.7,1 0.7-0.4 0.7-0.6 0.7,0.4 0.7-0.3 0.7,0 0.7-0.4 0.7,0.2 0.7-0.4 0.7-0.1 0.7-0.2 0.7,0.4 0.7,0.1 0.7-0.8 0.7-0.4 0.7,0.2 0.7,0.5 0.7-0.6 0.7-0.5 0.7,0.9 0.7-0.6 0.7-0.5 0.7,0.7 0.7-0.4 0.7,0.3 0.7-0.1 0.7-0.1 0.7,0 0.7-0.7 0.7,0.5 0.7-0.5 0.7,0.1 0.7-0.6 0.7,0.4 0.7-0.7 0.7,0.9 0.7-0.9 0.7,0.4 0.7,0.2 0.7-0.1 0.7,0 0.7-0.6 0.7-0.5 0.7,1 0.7-0.9 0.7,0.6 0.7-0.7 0.7,0 0.7,0 0.7-0.1 0.7,0.2 0.7-0.4 0.7-0.6 0.7,0.3 0.7-0.6 0.7,0.8 0.7-1 0.7,0.1 0.7,0.1 0.7-0.4 0.7,0.5 0.7-0.3 0.7-0.7 0.7-0.1 0.7,0.2 0.7-0.4 0.7,0 0.7-0.6 0.7,0.2 0.7-0.2 0.7,0.2 0.7-0.8 0.7,0.4 0.7-0.9 0.7-0.1 0.7-0.2 0.7,0.7 0.7-1.1 0.7,0.1 0.7,0 0.7,0.2 0.7-0.2 0.7-0.8 0.7,0.2 0.7,0.3 0.7-0.9 0.7-0.1 0.7,0.7 0.7-1.1 0.7,0 0.7,0 0.7,0.6 0.7-0.7 0.7,0 0.7,0.1 0.7,0.3 0.7-1.1 0.7,0.1 0.7,0.2 0.7,0.2 0.7-0.6 0.7,0.3 0.7,0.1 0.7-0.6 0.7,0.3 0.7-0.4 0.7,1 0.7-1.1 0.7,0.2 0.7,0.5 0.7-0.4 0.7,0.4 0.7-0.3 0.7,0.8 0.7-0.6 0.7-0.3 0.7-0.2 0.7,0.3 0.7,0.3 0.7-0.1 0.7-0.1 0.7-0.3 0.7,0.4 0.7-0.8 0.7,0.1 0.7,0.3 0.7-0.4 0.7-0.6 0.7,0.1 0.7-0.3 0.7-1 0.7-0.3 0.7-0.1 0.7-1 0.7-0.7 0.7-0.4 0.7-1.4 0.7-0.5 0.7,0 0.7-1.7 0.7-0.3 0.7-1.8 0.7-0.5 0.7-0.7 0.7-1.1 0.7-0.1 0.7-0.8 0.7-1.7 0.7-1 0.7,0 0.7-1.1 0.7-1.4 0.7-1.6 0.7-1 0.7,0 0.7-0.8 0.7-1 0.7-0.9 0.7-0.8 0.7-0.6 0.7-0.6 0.7-0.3 0.7-0.8 0.7-0.5 0.7-0.5 0.7,0.2 0.7,0.1 0.7-1 0.7,0.6 0.7-0.2 0.7-0.5 0.7-0.2 0.7,0.9 0.7-0.7 0.7,0 0.7,0.1 0.7,1 0.7-0.4 0.7-0.4 0.7,0.5 0.7,0.4 0.7,0.1 0.7-0.3 0.7,0.9 0.7,0 0.7-0.4 0.7,0.1 0.7,0 0.7-0.2 0.7,0.8 0.7-0.3 0.7,0.6 0.7,0.3 0.7-0.5 0.7,0.1 0.7,0.3 0.7,0.3 0.7-0.3 0.7,0.6 0.7,0.1 0.7,0 0.7,1.1 0.7,0.1 0.7,0 0.7-0.2 0.7,1.1 0.7,0 0.7,0.9 0.7,0.1 0.7-0.2 0.7,1 0.7,0.2 0.7,0.1 0.7,0.9 0.7-0.2 0.7,0.2 0.7,0.3 0.7,1.1 0.7,0.1 0.7,0.3 0.7,0.3 0.7,1.4 0.7-0.1 0.7,1.1 0.7,0.6 0.7,0.3 0.7-0.2 0.7,1.4 0.7,0.1 0.7,0.7 0.7,0.6 0.7-0.2 0.7,0.6 0.7,1.2 0.7-0.3 0.7,0.3 0.7,0.4 0.7,1.2 0.7,0.2 0.7,1.2 0.7-0.6 0.7,0.9 0.7,0.8 0.7,0.4 0.7,0.7 0.7,0.3 0.7,0.7 0.7,0.5 0.7,0.4 0.7,0.1 0.7,0.2 0.7,0.6 0.7,0 0.7,0.5 0.7,0.7 0.7,0.3 0.7,0.3 0.7,0 0.7,1.5 0.7-0.4 0.7,0.5 0.7,0.2 0.7,0.6 0.7,0.6 0.7,0.6 0.7-0.1 0.7,0.7 0.7-0.4 0.7,0.4 0.7,0.2 0.7,1 0.7-0.7 0.7,0.4 0.7,0.9 0.7-0.4 0.7,0 0.7,0.6 0.7,0.4 0.7,0.2 0.7-0.1 0.7,0.4 0.7,0.1 0.7,0.1 0.7,0.6 0.7-0.2 0.7,0.2 0.7,1.1 0.7,0.1 0.7-0.4 0.7,0.4 0.7-0.3 0.7,0.1 0.7,0.7 0.7,0.7 0.7-0.8 0.7,0.6 0.7,0.5 0.7-0.8 0.7,0.9 0.7-0.3 0.7,0.8 0.7,0.2 0.7,0.2 0.7,0 0.7-0.8 0.7,0.8 0.7,0 0.7-0.2 0.7,0 0.7,0.4 0.7,0.1 0.7,0.1 0.7,0.7 0.7-0.8 0.7,0.9 0.7-0.8 0.7,0.8 0.7-0.2 0.7,0 0.7,0.2 0.7-0.3 0.7,0.2 0.7,0.3 0.7-0.1" fill="none" stroke="#d5d5d5" stroke-width="1.5" stroke-linejoin="round" stroke-linecap="round"/>
<path d="M432.5,194l0.7,0.3 0.7,0.3 0.7,0.2 0.7-0.3 0.7-0.2 0.7,0 0.7,0.6 0.7-0.4 0.7,0.2 0.7-0.6 0.7-0.1 0.7,0.1 0.7,0 0.7-0.5 0.7-0.1 0.7-0.2 0.7-0.2 0.7,0.4 0.7-0.2 0.7-0.5 0.7-0.4 0.7,0.5 0.7-0.5 0.7,0.1 0.7-0.4 0.7-0.4 0.7,0.5 0.7-0.7 0.7,0.6 0.7-0.7 0.7,0 0.7-0.4 0.7,0.1 0.7,0.2 0.7-0.6 0.7,0 0.7-0.2 0.7-0.1 0.7,0.3 0.7-0.4 0.7,0.3 0.7-0.1 0.7-0.3 0.7,0.3 0.7-0.1 0.7-0.7 0.7,0.3 0.7-0.1 0.7-0.6 0.7,0.4 0.7-0.7 0.7,0.4 0.7,0.1 0.7-0.3 0.7-0.1 0.7-0.1 0.7-0.3 0.7-0.3 0.7,0.1 0.7-0.2 0.7,0.4 0.7-0.1 0.7,0 0.7-0.6 0.7,0.4 0.7-0.1 0.7-0.8 0.7,0.4 0.7-0.5 0.7-0.1 0.7,0.2 0.7,0.1 0.7-0.5 0.7,0.1 0.7,0 0.7,0 0.7-0.4 0.7-0.1 0.7-0.2 0.7,0.1 0.7,0.5 0.7-0.8 0.7,0.4 0.7-0.2 0.7,0 0.7-0.1 0.7-0.7 0.7,0.1 0.7,0.2 0.7-0.3 0.7,0.1 0.7-0.9 0.7,0.5 0.7-0.5 0.7,0.2 0.7-0.4 0.7-0.3 0.7-0.1 0.7-0.5 0.7,0.5 0.7-0.2 0.7-0.4 0.7-0.2 0.7-0.1 0.7-0.4 0.7-0.3 0.7,0.1 0.7,0.1 0.7-0.3 0.7-0.2 0.7-0.6 0.7-0.1 0.7-0.1 0.7,0 0.7,0.2 0.7-0.4 0.7-0.2 0.7-0.2 0.7-0.4 0.7-0.1 0.7,0.5 0.7-0.2 0.7-0.4 0.7-0.1 0.7-0.5 0.7-0.2 0.7-0.2 0.7-0.1 0.7,0.1 0.7,0.5 0.7-0.4 0.7-0.4 0.7-0.2 0.7-0.1 0.7,0 0.7,0 0.7,0.1 0.7-0.1 0.7,0 0.7,0.3 0.7-0.4 0.7,0 0.7,0.5 0.7-0.4 0.7,0.3 0.7-0.3 0.7,0.3 0.7-0.5 0.7,0.2 0.7,0.4 0.7-0.5 0.7,0.3 0.7-0.4 0.7-0.1 0.7,0.2 0.7-0.1 0.7-0.4 0.7,0.4 0.7-0.2 0.7-0.1 0.7,0.2 0.7,0 0.7-0.5 0.7-0.3 0.7,0.1 0.7-0.3 0.7-0.5 0.7-0.3 0.7-0.6 0.7-0.1 0.7-0.5 0.7-0.3 0.7-0.9 0.7-0.7 0.7,0.1 0.7-0.7 0.7-0.4 0.7-0.6 0.7-0.5 0.7-0.9 0.7-0.2 0.7-0.8 0.7-0.8 0.7-0.8 0.7-0.7 0.7-0.5 0.7-0.6 0.7-0.6 0.7-0.4 0.7-0.3 0.7-1 0.7-0.5 0.7-1.1 0.7-0.1 0.7-0.7 0.7-0.4 0.7-0.8 0.7-0.2 0.7-0.5 0.7-0.1 0.7-0.6 0.7,0.1 0.7-0.1 0.7-0.4 0.7-0.1 0.7,0.1 0.7-0.2 0.7,0.3 0.7-0.1 0.7-0.3 0.7,0.1 0.7-0.5 0.7,0.7 0.7-0.2 0.7-0.5 0.7,0 0.7,0.7 0.7-0.1 0.7-0.1 0.7-0.1 0.7-0.2 0.7,0.2 0.7,0.4 0.7-0.2 0.7-0.4 0.7,0.2 0.7,0 0.7,0.7 0.7,0.2 0.7,0.2 0.7-0.2 0.7,0.1 0.7-0.1 0.7,0.4 0.7,0.3 0.7,0.3 0.7,0.2 0.7,0.5 0.7,0.4 0.7-0.1 0.7,0.6 0.7-0.1 0.7,0.2 0.7,0.8 0.7-0.3 0.7,0.3 0.7,1 0.7-0.1 0.7,0.3 0.7,0.6 0.7,0.5 0.7-0.1 0.7,0.7 0.7-0.1 0.7,0.9 0.7,0 0.7,0.4 0.7,0.1 0.7,0.4 0.7,0.6 0.7,0.2 0.7,0.9 0.7,0.6 0.7-0.1 0.7,0.8 0.7,0.3 0.7,0.5 0.7,0.5 0.7,0.2 0.7,0.7 0.7-0.1 0.7,0.9 0.7,0.3 0.7,0.1 0.7,0.5 0.7,0.9 0.7,0.2 0.7,0.3 0.7,0.4 0.7,0.7 0.7,0.2 0.7,0.1 0.7,0.9 0.7,0.4 0.7,0.3 0.7,0.3 0.7,0.4 0.7,0 0.7,0.9 0.7,0.2 0.7-0.1 0.7,0.8 0.7,0.1 0.7,0 0.7,1 0.7-0.2 0.7,0.5 0.7,0 0.7,0.7 0.7,0.3 0.7,0.5 0.7,0.4 0.7,0.3 0.7,0 0.7,0.1 0.7,0.7 0.7-0.4 0.7,0.4 0.7,0.4 0.7,0 0.7,0.4 0.7-0.2 0.7,0.3 0.7,0.1 0.7,0.5 0.7,0 0.7,0.6 0.7-0.2 0.7,0.1 0.7,0.6 0.7-0.2 0.7,0.6 0.7,0 0.7-0.2 0.7,0.6 0.7,0.4 0.7-0.4 0.7,0.4 0.7,0.1 0.7,0.5 0.7,0.1 0.7-0.6 0.7,0.4 0.7,0.4 0.7-0.2 0.7,0.2 0.7,0.2 0.7-0.4 0.7,0.1 0.7,0.8 0.7-0.3 0.7,0.1 0.7,0.2 0.7,0.2 0.7,0.2 0.7-0.5 0.7,0.5 0.7-0.4 0.7,0.5 0.7,0.3 0.7-0.2 0.7,0 0.7,0.5 0.7-0.1 0.7,0.3 0.7-0.2 0.7-0.1 0.7,0.3" fill="none" stroke="#f545dc" stroke-width="1.6" stroke-linejoin="round" stroke-linecap="round"/>
</g>
<rect x="432.2" y="30.2" width="251.50000000000006" height="166.4" fill="none" stroke="#000" stroke-width="1.7"/>
<line x1="432.5" y1="196.6" x2="432.5" y2="202.4" stroke="#000" stroke-width="1.6"/>
<text x="432.5" y="214.7" font-size="12.5" font-weight="bold" text-anchor="middle">350</text>
<line x1="480.8" y1="196.6" x2="480.8" y2="202.4" stroke="#000" stroke-width="1.6"/>
<text x="480.8" y="214.7" font-size="12.5" font-weight="bold" text-anchor="middle">400</text>
<line x1="529" y1="196.6" x2="529" y2="202.4" stroke="#000" stroke-width="1.6"/>
<text x="529" y="214.7" font-size="12.5" font-weight="bold" text-anchor="middle">450</text>
<line x1="577.3" y1="196.6" x2="577.3" y2="202.4" stroke="#000" stroke-width="1.6"/>
<text x="577.3" y="214.7" font-size="12.5" font-weight="bold" text-anchor="middle">500</text>
<line x1="625.5" y1="196.6" x2="625.5" y2="202.4" stroke="#000" stroke-width="1.6"/>
<text x="625.5" y="214.7" font-size="12.5" font-weight="bold" text-anchor="middle">550</text>
<line x1="673.8" y1="196.6" x2="673.8" y2="202.4" stroke="#000" stroke-width="1.6"/>
<text x="673.8" y="214.7" font-size="12.5" font-weight="bold" text-anchor="middle">600</text>
<line x1="428" y1="197" x2="432.5" y2="197" stroke="#000" stroke-width="1.6"/>
<text x="426" y="201.3" font-size="12" font-weight="bold" text-anchor="end">0</text>
<line x1="428" y1="149.9" x2="432.5" y2="149.9" stroke="#000" stroke-width="1.6"/>
<text x="424.5" y="154.2" font-size="12" font-weight="bold" text-anchor="end">4.5&#215;10<tspan font-size="8" dy="-5">5</tspan></text>
<line x1="428" y1="102.8" x2="432.5" y2="102.8" stroke="#000" stroke-width="1.6"/>
<text x="424.5" y="107.1" font-size="12" font-weight="bold" text-anchor="end">9.0&#215;10<tspan font-size="8" dy="-5">5</tspan></text>
<line x1="428" y1="55.7" x2="432.5" y2="55.7" stroke="#000" stroke-width="1.6"/>
<text x="424.5" y="60" font-size="12" font-weight="bold" text-anchor="end">1.4&#215;10<tspan font-size="8" dy="-5">6</tspan></text>
<text x="558" y="232.5" font-size="14" font-weight="bold" text-anchor="middle">Wavelength / nm</text>
<text x="0" y="0" font-size="14" font-weight="bold" text-anchor="middle" transform="translate(366 113.3) rotate(-90)">Intensity / counts</text>
<rect x="436.3" y="34.3" width="114.90000000000003" height="75.7" fill="#fff"/>
<defs><clipPath id="cjb"><rect x="436.3" y="34.3" width="114.90000000000003" height="75.7"/></clipPath></defs>
<g clip-path="url(#cjb)">
<path d="M436.3,104l0.5,0.5 0.5,0.7 0.5,0.5 0.5,0.5 0.5,0.4 0.5,0.2 0.5,0.2 0.5,0.2 0.5,0.1 0.5,0 0.5,0 0.5,0 0.5,0 0.5,0 0.5,0 0.5-0.1 0.5,0 0.5-0.1 0.5,0 0.5-0.1 0.5,0 0.5-0.1 0.5,0 0.5,0 0.5-0.1 0.5,0 0.5,0 0.5,0 0.5-0.1 0.5,0 0.5,0 0.5,0 0.5,0 0.5,0 0.5,0 0.5,0 0.5,0 0.5,0 0.5,0 0.5-0.1 0.5,0 0.5,0 0.5,0 0.5,0 0.5,0 0.5,0 0.5,0 0.5,0 0.5,0 0.5,0 0.5,0 0.5,0 0.5,0 0.5,0 0.5,0 0.5-0.1 0.5,0 0.5,0 0.5,0 0.5,0 0.5,0 0.5,0 0.5,0 0.5,0 0.5,0 0.5,0 0.5,0 0.5,0 0.5,0 0.5,0 0.5,0 0.5,0 0.5,0 0.5,0 0.5,0 0.5,0 0.5,0 0.5,0 0.5,0 0.5,0 0.5,0 0.5,0 0.5,0 0.5,0 0.5,0 0.5,0 0.5,0 0.5,0 0.5,0 0.5,0 0.5,0 0.5,0 0.5,0 0.5,0 0.5,0 0.5,0 0.5,0 0.5,0 0.5,0 0.5,0 0.5,0 0.5,0 0.5,0 0.5,0 0.5,0 0.5,0 0.5,0 0.5,0 0.5,0 0.5,0 0.5,0 0.5,0 0.5,0 0.5,0 0.5,0 0.5,0 0.5,0 0.5,0 0.5-0.1 0.5,0 0.5,0 0.5,0 0.5,0 0.5,0 0.5,0 0.5,0 0.5,0 0.5,0 0.5,0 0.5,0 0.5,0 0.5-0.1 0.5,0 0.5,0 0.5,0 0.5,0 0.5,0 0.5,0 0.5,0 0.5,0 0.5,0 0.5,0 0.5,0 0.5-0.1 0.5,0 0.5,0 0.5,0 0.5,0 0.5,0 0.5,0 0.5,0 0.5-0.1 0.5,0 0.5,0 0.5,0 0.5-0.1 0.5,0 0.5,0 0.5-0.1 0.5,0 0.5-0.1 0.5,0 0.5-0.1 0.5-0.1 0.5-0.1 0.5-0.1 0.5-0.1 0.5-0.1 0.5-0.1 0.5-0.2 0.5-0.2 0.5-0.1 0.5-0.2 0.5-0.2 0.5-0.2 0.5-0.3 0.5-0.2 0.5-0.3 0.5-0.3 0.5-0.3 0.5-0.4 0.5-0.4 0.5-0.5 0.5-0.4 0.5-0.5 0.5-0.6 0.5-0.7 0.5-0.8 0.5-1.1 0.5-1.3 0.5-1.4 0.5-1.5 0.5-1.5 0.5-1.5 0.5-1.8 0.5-2.5 0.5-3.3 0.5-4 0.5-4.4 0.5-4.7 0.5-5 0.5-5.1 0.5-4.7 0.5-4.7 0.5-4.5 0.5-4.1 0.5-3.4 0.5-3.2" fill="none" stroke="#00c400" stroke-width="1.3" stroke-linejoin="round" stroke-linecap="round"/>
<path d="M436.3,103.3l0.5,0.6 0.5,0.6 0.5,0.6 0.5,0.5 0.5,0.4 0.5,0.3 0.5,0.2 0.5,0.1 0.5,0.1 0.5,0.1 0.5,0 0.5,0 0.5-0.1 0.5,0 0.5-0.1 0.5-0.1 0.5,0 0.5-0.1 0.5-0.1 0.5-0.1 0.5,0 0.5-0.1 0.5-0.1 0.5-0.1 0.5,0 0.5-0.1 0.5,0 0.5-0.1 0.5,0 0.5-0.1 0.5,0 0.5-0.1 0.5,0 0.5,0 0.5-0.1 0.5,0 0.5-0.1 0.5,0 0.5,0 0.5-0.1 0.5,0 0.5-0.1 0.5,0 0.5,0 0.5-0.1 0.5,0 0.5,0 0.5-0.1 0.5,0 0.5-0.1 0.5,0 0.5,0 0.5-0.1 0.5,0 0.5,0 0.5-0.1 0.5,0 0.5,0 0.5-0.1 0.5,0 0.5,0 0.5-0.1 0.5,0 0.5,0 0.5-0.1 0.5,0 0.5,0 0.5-0.1 0.5,0 0.5,0 0.5-0.1 0.5,0 0.5,0 0.5-0.1 0.5,0 0.5,0 0.5,0 0.5-0.1 0.5,0 0.5,0 0.5-0.1 0.5,0 0.5,0 0.5,0 0.5-0.1 0.5,0 0.5,0 0.5,0 0.5,0 0.5-0.1 0.5,0 0.5,0 0.5,0 0.5-0.1 0.5,0 0.5,0 0.5,0 0.5-0.1 0.5,0 0.5,0 0.5,0 0.5-0.1 0.5,0 0.5,0 0.5-0.1 0.5,0 0.5,0 0.5,0 0.5-0.1 0.5,0 0.5-0.1 0.5,0 0.5,0 0.5-0.1 0.5-0.1 0.5,0 0.5-0.1 0.5,0 0.5-0.1 0.5-0.1 0.5,0 0.5-0.1 0.5-0.1 0.5,0 0.5-0.1 0.5,0 0.5-0.1 0.5-0.1 0.5,0 0.5-0.1 0.5,0 0.5-0.1 0.5-0.1 0.5,0 0.5-0.1 0.5-0.1 0.5,0 0.5-0.1 0.5-0.1 0.5,0 0.5-0.1 0.5,0 0.5-0.1 0.5-0.1 0.5,0 0.5-0.1 0.5,0 0.5-0.1 0.5,0 0.5-0.1 0.5-0.1 0.5,0 0.5-0.1 0.5,0 0.5-0.1 0.5,0 0.5-0.1 0.5-0.1 0.5,0 0.5-0.1 0.5,0 0.5-0.1 0.5-0.1 0.5-0.1 0.5-0.1 0.5-0.1 0.5-0.1 0.5-0.1 0.5-0.2 0.5-0.1 0.5-0.2 0.5-0.1 0.5-0.2 0.5-0.2 0.5-0.2 0.5-0.2 0.5-0.3 0.5-0.2 0.5-0.3 0.5-0.3 0.5-0.4 0.5-0.4 0.5-0.3 0.5-0.4 0.5-0.5 0.5-0.5 0.5-0.6 0.5-0.8 0.5-1 0.5-1.1 0.5-1.3 0.5-1.3 0.5-1.4 0.5-1.3 0.5-1.7 0.5-2.3 0.5-3 0.5-3.7 0.5-4 0.5-4.3 0.5-4.7 0.5-4.6 0.5-4.4 0.5-4.3 0.5-4.1 0.5-3.8 0.5-3.2 0.5-2.9" fill="none" stroke="#d5d5d5" stroke-width="1.1" stroke-linejoin="round" stroke-linecap="round"/>
<path d="M436.3,102.7l0.5,0.5 0.5,0.7 0.5,0.6 0.5,0.5 0.5,0.4 0.5,0.3 0.5,0.3 0.5,0.1 0.5,0.1 0.5,0 0.5,0 0.5,0 0.5-0.1 0.5-0.1 0.5-0.1 0.5-0.1 0.5-0.1 0.5-0.1 0.5-0.1 0.5-0.1 0.5-0.1 0.5-0.1 0.5-0.1 0.5-0.1 0.5-0.1 0.5-0.1 0.5-0.1 0.5,0 0.5-0.1 0.5-0.1 0.5-0.1 0.5,0 0.5-0.1 0.5-0.1 0.5-0.1 0.5,0 0.5-0.1 0.5-0.1 0.5,0 0.5-0.1 0.5-0.1 0.5,0 0.5-0.1 0.5-0.1 0.5,0 0.5-0.1 0.5-0.1 0.5,0 0.5-0.1 0.5-0.1 0.5,0 0.5-0.1 0.5-0.1 0.5,0 0.5-0.1 0.5-0.1 0.5,0 0.5-0.1 0.5-0.1 0.5,0 0.5-0.1 0.5-0.1 0.5,0 0.5-0.1 0.5-0.1 0.5,0 0.5-0.1 0.5-0.1 0.5,0 0.5-0.1 0.5,0 0.5-0.1 0.5-0.1 0.5,0 0.5-0.1 0.5,0 0.5-0.1 0.5,0 0.5-0.1 0.5,0 0.5-0.1 0.5,0 0.5-0.1 0.5,0 0.5-0.1 0.5,0 0.5-0.1 0.5,0 0.5-0.1 0.5,0 0.5-0.1 0.5,0 0.5-0.1 0.5,0 0.5-0.1 0.5,0 0.5-0.1 0.5,0 0.5-0.1 0.5-0.1 0.5,0 0.5-0.1 0.5,0 0.5-0.1 0.5,0 0.5-0.1 0.5,0 0.5-0.1 0.5-0.1 0.5,0 0.5-0.1 0.5-0.1 0.5-0.1 0.5-0.1 0.5-0.1 0.5-0.1 0.5-0.1 0.5-0.1 0.5-0.2 0.5-0.1 0.5-0.1 0.5-0.1 0.5-0.1 0.5-0.2 0.5-0.1 0.5-0.1 0.5-0.1 0.5-0.1 0.5-0.1 0.5-0.1 0.5-0.1 0.5-0.1 0.5-0.2 0.5-0.1 0.5-0.1 0.5-0.1 0.5-0.1 0.5-0.2 0.5-0.1 0.5-0.1 0.5-0.1 0.5-0.2 0.5-0.1 0.5-0.1 0.5-0.1 0.5-0.1 0.5-0.1 0.5-0.1 0.5-0.1 0.5-0.1 0.5-0.1 0.5-0.1 0.5-0.1 0.5,0 0.5-0.1 0.5-0.1 0.5-0.1 0.5-0.1 0.5-0.1 0.5,0 0.5-0.1 0.5-0.1 0.5-0.1 0.5-0.1 0.5-0.1 0.5-0.1 0.5-0.1 0.5-0.2 0.5-0.1 0.5-0.1 0.5-0.2 0.5-0.2 0.5-0.1 0.5-0.2 0.5-0.2 0.5-0.2 0.5-0.2 0.5-0.3 0.5-0.2 0.5-0.3 0.5-0.3 0.5-0.4 0.5-0.3 0.5-0.4 0.5-0.4 0.5-0.4 0.5-0.5 0.5-0.7 0.5-0.9 0.5-1 0.5-1.2 0.5-1.2 0.5-1.2 0.5-1.2 0.5-1.5 0.5-2.1 0.5-2.8 0.5-3.4 0.5-3.6 0.5-3.9 0.5-4.2 0.5-4.2 0.5-4.1 0.5-3.9 0.5-3.7 0.5-3.5 0.5-3 0.5-2.7" fill="none" stroke="#d5d5d5" stroke-width="1.1" stroke-linejoin="round" stroke-linecap="round"/>
<path d="M436.3,102l0.5,0.6 0.5,0.6 0.5,0.6 0.5,0.5 0.5,0.5 0.5,0.3 0.5,0.3 0.5,0.2 0.5,0.1 0.5,0 0.5,0 0.5-0.1 0.5-0.1 0.5-0.1 0.5-0.1 0.5-0.2 0.5-0.1 0.5-0.1 0.5-0.1 0.5-0.2 0.5-0.1 0.5-0.1 0.5-0.2 0.5-0.1 0.5-0.1 0.5-0.2 0.5-0.1 0.5-0.1 0.5-0.1 0.5-0.1 0.5-0.1 0.5-0.1 0.5-0.1 0.5-0.1 0.5-0.1 0.5-0.1 0.5-0.1 0.5-0.1 0.5-0.1 0.5-0.1 0.5-0.1 0.5-0.1 0.5-0.1 0.5-0.1 0.5-0.1 0.5-0.1 0.5-0.1 0.5-0.1 0.5-0.1 0.5-0.1 0.5-0.1 0.5-0.1 0.5-0.1 0.5-0.1 0.5-0.1 0.5-0.1 0.5-0.1 0.5-0.1 0.5-0.1 0.5-0.1 0.5-0.1 0.5-0.1 0.5-0.1 0.5-0.1 0.5,0 0.5-0.1 0.5-0.1 0.5-0.1 0.5-0.1 0.5-0.1 0.5-0.1 0.5-0.1 0.5-0.1 0.5-0.1 0.5,0 0.5-0.1 0.5-0.1 0.5-0.1 0.5-0.1 0.5-0.1 0.5,0 0.5-0.1 0.5-0.1 0.5-0.1 0.5,0 0.5-0.1 0.5-0.1 0.5-0.1 0.5,0 0.5-0.1 0.5-0.1 0.5-0.1 0.5,0 0.5-0.1 0.5-0.1 0.5-0.1 0.5,0 0.5-0.1 0.5-0.1 0.5-0.1 0.5-0.1 0.5,0 0.5-0.1 0.5-0.1 0.5-0.1 0.5-0.1 0.5-0.1 0.5,0 0.5-0.1 0.5-0.1 0.5-0.1 0.5-0.2 0.5-0.1 0.5-0.1 0.5-0.2 0.5-0.2 0.5-0.2 0.5-0.1 0.5-0.2 0.5-0.2 0.5-0.2 0.5-0.2 0.5-0.1 0.5-0.2 0.5-0.2 0.5-0.1 0.5-0.2 0.5-0.1 0.5-0.2 0.5-0.2 0.5-0.1 0.5-0.2 0.5-0.2 0.5-0.1 0.5-0.2 0.5-0.2 0.5-0.2 0.5-0.2 0.5-0.1 0.5-0.2 0.5-0.2 0.5-0.2 0.5-0.1 0.5-0.2 0.5-0.2 0.5-0.1 0.5-0.2 0.5-0.1 0.5-0.1 0.5-0.2 0.5-0.1 0.5-0.1 0.5-0.1 0.5-0.2 0.5-0.1 0.5-0.1 0.5-0.1 0.5-0.1 0.5-0.1 0.5-0.1 0.5-0.1 0.5-0.1 0.5-0.1 0.5-0.1 0.5-0.1 0.5-0.1 0.5-0.2 0.5-0.1 0.5-0.1 0.5-0.2 0.5-0.1 0.5-0.2 0.5-0.1 0.5-0.2 0.5-0.2 0.5-0.2 0.5-0.2 0.5-0.2 0.5-0.2 0.5-0.3 0.5-0.3 0.5-0.3 0.5-0.3 0.5-0.3 0.5-0.3 0.5-0.4 0.5-0.5 0.5-0.6 0.5-0.7 0.5-0.9 0.5-1 0.5-1.1 0.5-1.1 0.5-1.1 0.5-1.4 0.5-1.8 0.5-2.5 0.5-3.1 0.5-3.2 0.5-3.6 0.5-3.8 0.5-3.8 0.5-3.6 0.5-3.6 0.5-3.4 0.5-3.2 0.5-2.6 0.5-2.5" fill="none" stroke="#d5d5d5" stroke-width="1.1" stroke-linejoin="round" stroke-linecap="round"/>
<path d="M436.3,101.3l0.5,0.6 0.5,0.7 0.5,0.6 0.5,0.5 0.5,0.5 0.5,0.4 0.5,0.3 0.5,0.2 0.5,0 0.5,0.1 0.5-0.1 0.5-0.1 0.5-0.1 0.5-0.1 0.5-0.2 0.5-0.2 0.5-0.1 0.5-0.2 0.5-0.1 0.5-0.2 0.5-0.1 0.5-0.2 0.5-0.2 0.5-0.1 0.5-0.2 0.5-0.2 0.5-0.1 0.5-0.1 0.5-0.2 0.5-0.1 0.5-0.2 0.5-0.1 0.5-0.1 0.5-0.2 0.5-0.1 0.5-0.1 0.5-0.2 0.5-0.1 0.5-0.1 0.5-0.2 0.5-0.1 0.5-0.1 0.5-0.1 0.5-0.2 0.5-0.1 0.5-0.1 0.5-0.2 0.5-0.1 0.5-0.1 0.5-0.1 0.5-0.2 0.5-0.1 0.5-0.1 0.5-0.1 0.5-0.2 0.5-0.1 0.5-0.1 0.5-0.2 0.5-0.1 0.5-0.1 0.5-0.1 0.5-0.2 0.5-0.1 0.5-0.1 0.5-0.1 0.5-0.2 0.5-0.1 0.5-0.1 0.5-0.1 0.5-0.1 0.5-0.2 0.5-0.1 0.5-0.1 0.5-0.1 0.5-0.1 0.5-0.1 0.5-0.1 0.5-0.1 0.5-0.2 0.5-0.1 0.5-0.1 0.5-0.1 0.5-0.1 0.5-0.1 0.5-0.1 0.5-0.1 0.5-0.1 0.5-0.1 0.5-0.1 0.5-0.1 0.5-0.1 0.5-0.1 0.5-0.1 0.5-0.1 0.5-0.1 0.5-0.1 0.5-0.1 0.5-0.1 0.5-0.1 0.5-0.1 0.5-0.1 0.5-0.1 0.5-0.1 0.5-0.1 0.5-0.2 0.5-0.1 0.5-0.1 0.5-0.1 0.5-0.1 0.5-0.2 0.5-0.1 0.5-0.2 0.5-0.1 0.5-0.2 0.5-0.2 0.5-0.2 0.5-0.3 0.5-0.2 0.5-0.3 0.5-0.2 0.5-0.3 0.5-0.2 0.5-0.2 0.5-0.2 0.5-0.2 0.5-0.3 0.5-0.2 0.5-0.2 0.5-0.2 0.5-0.2 0.5-0.2 0.5-0.2 0.5-0.3 0.5-0.2 0.5-0.2 0.5-0.3 0.5-0.2 0.5-0.2 0.5-0.3 0.5-0.2 0.5-0.3 0.5-0.2 0.5-0.2 0.5-0.2 0.5-0.2 0.5-0.2 0.5-0.2 0.5-0.2 0.5-0.2 0.5-0.1 0.5-0.2 0.5-0.2 0.5-0.1 0.5-0.2 0.5-0.1 0.5-0.2 0.5-0.1 0.5-0.1 0.5-0.2 0.5-0.1 0.5-0.1 0.5-0.1 0.5-0.1 0.5-0.1 0.5-0.1 0.5-0.2 0.5-0.1 0.5-0.1 0.5-0.2 0.5-0.1 0.5-0.1 0.5-0.2 0.5-0.1 0.5-0.2 0.5-0.2 0.5-0.1 0.5-0.2 0.5-0.2 0.5-0.2 0.5-0.3 0.5-0.2 0.5-0.3 0.5-0.3 0.5-0.2 0.5-0.3 0.5-0.3 0.5-0.4 0.5-0.5 0.5-0.7 0.5-0.7 0.5-0.9 0.5-0.9 0.5-1 0.5-1 0.5-1.2 0.5-1.6 0.5-2.3 0.5-2.7 0.5-2.9 0.5-3.1 0.5-3.4 0.5-3.4 0.5-3.3 0.5-3.2 0.5-3 0.5-2.9 0.5-2.4 0.5-2.3" fill="none" stroke="#d5d5d5" stroke-width="1.1" stroke-linejoin="round" stroke-linecap="round"/>
<path d="M436.3,100.6l0.5,0.6 0.5,0.7 0.5,0.7 0.5,0.5 0.5,0.5 0.5,0.4 0.5,0.3 0.5,0.2 0.5,0.1 0.5,0 0.5,0 0.5-0.2 0.5-0.1 0.5-0.2 0.5-0.2 0.5-0.2 0.5-0.1 0.5-0.2 0.5-0.2 0.5-0.2 0.5-0.2 0.5-0.2 0.5-0.2 0.5-0.2 0.5-0.2 0.5-0.1 0.5-0.2 0.5-0.2 0.5-0.2 0.5-0.1 0.5-0.2 0.5-0.2 0.5-0.1 0.5-0.2 0.5-0.2 0.5-0.1 0.5-0.2 0.5-0.2 0.5-0.1 0.5-0.2 0.5-0.1 0.5-0.2 0.5-0.2 0.5-0.1 0.5-0.2 0.5-0.1 0.5-0.2 0.5-0.2 0.5-0.1 0.5-0.2 0.5-0.1 0.5-0.2 0.5-0.1 0.5-0.2 0.5-0.2 0.5-0.1 0.5-0.2 0.5-0.1 0.5-0.2 0.5-0.1 0.5-0.2 0.5-0.2 0.5-0.1 0.5-0.2 0.5-0.1 0.5-0.2 0.5-0.1 0.5-0.2 0.5-0.1 0.5-0.2 0.5-0.1 0.5-0.2 0.5-0.1 0.5-0.2 0.5-0.1 0.5-0.1 0.5-0.2 0.5-0.1 0.5-0.1 0.5-0.2 0.5-0.1 0.5-0.1 0.5-0.2 0.5-0.1 0.5-0.1 0.5-0.2 0.5-0.1 0.5-0.1 0.5-0.1 0.5-0.2 0.5-0.1 0.5-0.1 0.5-0.1 0.5-0.2 0.5-0.1 0.5-0.1 0.5-0.1 0.5-0.2 0.5-0.1 0.5-0.1 0.5-0.2 0.5-0.1 0.5-0.2 0.5-0.1 0.5-0.1 0.5-0.2 0.5-0.1 0.5-0.1 0.5-0.2 0.5-0.2 0.5-0.1 0.5-0.2 0.5-0.2 0.5-0.3 0.5-0.2 0.5-0.3 0.5-0.3 0.5-0.3 0.5-0.4 0.5-0.3 0.5-0.3 0.5-0.2 0.5-0.3 0.5-0.3 0.5-0.2 0.5-0.3 0.5-0.3 0.5-0.2 0.5-0.3 0.5-0.3 0.5-0.2 0.5-0.3 0.5-0.3 0.5-0.2 0.5-0.3 0.5-0.3 0.5-0.3 0.5-0.3 0.5-0.3 0.5-0.3 0.5-0.3 0.5-0.3 0.5-0.3 0.5-0.2 0.5-0.3 0.5-0.2 0.5-0.3 0.5-0.2 0.5-0.2 0.5-0.2 0.5-0.2 0.5-0.2 0.5-0.2 0.5-0.2 0.5-0.2 0.5-0.2 0.5-0.1 0.5-0.2 0.5-0.1 0.5-0.1 0.5-0.2 0.5-0.1 0.5-0.1 0.5-0.1 0.5-0.2 0.5-0.1 0.5-0.1 0.5-0.1 0.5-0.2 0.5-0.1 0.5-0.2 0.5-0.1 0.5-0.2 0.5-0.1 0.5-0.2 0.5-0.1 0.5-0.2 0.5-0.2 0.5-0.1 0.5-0.3 0.5-0.2 0.5-0.2 0.5-0.2 0.5-0.2 0.5-0.3 0.5-0.2 0.5-0.4 0.5-0.4 0.5-0.5 0.5-0.6 0.5-0.8 0.5-0.8 0.5-0.8 0.5-0.9 0.5-1 0.5-1.5 0.5-1.9 0.5-2.4 0.5-2.5 0.5-2.8 0.5-3 0.5-3 0.5-2.9 0.5-2.8 0.5-2.7 0.5-2.5 0.5-2.2 0.5-2" fill="none" stroke="#d5d5d5" stroke-width="1.1" stroke-linejoin="round" stroke-linecap="round"/>
<path d="M436.3,100l0.5,0.6 0.5,0.7 0.5,0.6 0.5,0.6 0.5,0.5 0.5,0.4 0.5,0.4 0.5,0.2 0.5,0.1 0.5,0 0.5-0.1 0.5-0.1 0.5-0.2 0.5-0.2 0.5-0.2 0.5-0.3 0.5-0.2 0.5-0.2 0.5-0.2 0.5-0.2 0.5-0.2 0.5-0.2 0.5-0.3 0.5-0.2 0.5-0.2 0.5-0.2 0.5-0.2 0.5-0.3 0.5-0.2 0.5-0.2 0.5-0.2 0.5-0.1 0.5-0.2 0.5-0.2 0.5-0.2 0.5-0.2 0.5-0.2 0.5-0.2 0.5-0.2 0.5-0.2 0.5-0.2 0.5-0.2 0.5-0.2 0.5-0.2 0.5-0.2 0.5-0.1 0.5-0.2 0.5-0.2 0.5-0.2 0.5-0.2 0.5-0.2 0.5-0.2 0.5-0.2 0.5-0.1 0.5-0.2 0.5-0.2 0.5-0.2 0.5-0.2 0.5-0.2 0.5-0.2 0.5-0.2 0.5-0.1 0.5-0.2 0.5-0.2 0.5-0.2 0.5-0.2 0.5-0.2 0.5-0.1 0.5-0.2 0.5-0.2 0.5-0.2 0.5-0.2 0.5-0.1 0.5-0.2 0.5-0.2 0.5-0.1 0.5-0.2 0.5-0.2 0.5-0.1 0.5-0.2 0.5-0.1 0.5-0.2 0.5-0.2 0.5-0.1 0.5-0.2 0.5-0.1 0.5-0.2 0.5-0.1 0.5-0.2 0.5-0.1 0.5-0.2 0.5-0.1 0.5-0.2 0.5-0.1 0.5-0.2 0.5-0.1 0.5-0.2 0.5-0.2 0.5-0.1 0.5-0.2 0.5-0.1 0.5-0.2 0.5-0.2 0.5-0.1 0.5-0.2 0.5-0.1 0.5-0.2 0.5-0.2 0.5-0.2 0.5-0.2 0.5-0.2 0.5-0.2 0.5-0.3 0.5-0.2 0.5-0.4 0.5-0.3 0.5-0.4 0.5-0.3 0.5-0.4 0.5-0.4 0.5-0.3 0.5-0.4 0.5-0.3 0.5-0.3 0.5-0.3 0.5-0.3 0.5-0.3 0.5-0.4 0.5-0.3 0.5-0.3 0.5-0.3 0.5-0.3 0.5-0.4 0.5-0.3 0.5-0.3 0.5-0.4 0.5-0.4 0.5-0.3 0.5-0.4 0.5-0.3 0.5-0.4 0.5-0.3 0.5-0.3 0.5-0.4 0.5-0.3 0.5-0.3 0.5-0.2 0.5-0.3 0.5-0.3 0.5-0.2 0.5-0.3 0.5-0.2 0.5-0.2 0.5-0.2 0.5-0.2 0.5-0.2 0.5-0.2 0.5-0.2 0.5-0.2 0.5-0.1 0.5-0.2 0.5-0.1 0.5-0.1 0.5-0.2 0.5-0.1 0.5-0.1 0.5-0.1 0.5-0.2 0.5-0.1 0.5-0.1 0.5-0.2 0.5-0.1 0.5-0.2 0.5-0.1 0.5-0.1 0.5-0.2 0.5-0.1 0.5-0.2 0.5-0.2 0.5-0.1 0.5-0.2 0.5-0.2 0.5-0.2 0.5-0.2 0.5-0.2 0.5-0.1 0.5-0.3 0.5-0.3 0.5-0.4 0.5-0.5 0.5-0.6 0.5-0.7 0.5-0.7 0.5-0.7 0.5-0.9 0.5-1.3 0.5-1.7 0.5-2 0.5-2.2 0.5-2.4 0.5-2.5 0.5-2.6 0.5-2.5 0.5-2.5 0.5-2.3 0.5-2.3 0.5-1.9 0.5-1.7" fill="none" stroke="#d5d5d5" stroke-width="1.1" stroke-linejoin="round" stroke-linecap="round"/>
<path d="M436.3,99.3l0.5,0.6 0.5,0.7 0.5,0.7 0.5,0.6 0.5,0.5 0.5,0.5 0.5,0.3 0.5,0.3 0.5,0 0.5,0 0.5-0.1 0.5-0.1 0.5-0.2 0.5-0.3 0.5-0.2 0.5-0.3 0.5-0.2 0.5-0.2 0.5-0.2 0.5-0.3 0.5-0.2 0.5-0.3 0.5-0.3 0.5-0.2 0.5-0.3 0.5-0.2 0.5-0.3 0.5-0.2 0.5-0.2 0.5-0.3 0.5-0.2 0.5-0.2 0.5-0.3 0.5-0.2 0.5-0.2 0.5-0.2 0.5-0.3 0.5-0.2 0.5-0.2 0.5-0.2 0.5-0.2 0.5-0.3 0.5-0.2 0.5-0.2 0.5-0.2 0.5-0.3 0.5-0.2 0.5-0.2 0.5-0.2 0.5-0.2 0.5-0.2 0.5-0.3 0.5-0.2 0.5-0.2 0.5-0.2 0.5-0.2 0.5-0.3 0.5-0.2 0.5-0.2 0.5-0.2 0.5-0.2 0.5-0.2 0.5-0.3 0.5-0.2 0.5-0.2 0.5-0.2 0.5-0.2 0.5-0.2 0.5-0.2 0.5-0.2 0.5-0.2 0.5-0.2 0.5-0.3 0.5-0.2 0.5-0.1 0.5-0.2 0.5-0.2 0.5-0.2 0.5-0.2 0.5-0.2 0.5-0.2 0.5-0.2 0.5-0.2 0.5-0.1 0.5-0.2 0.5-0.2 0.5-0.2 0.5-0.1 0.5-0.2 0.5-0.2 0.5-0.2 0.5-0.2 0.5-0.1 0.5-0.2 0.5-0.2 0.5-0.2 0.5-0.1 0.5-0.2 0.5-0.2 0.5-0.2 0.5-0.2 0.5-0.2 0.5-0.2 0.5-0.2 0.5-0.1 0.5-0.2 0.5-0.2 0.5-0.2 0.5-0.3 0.5-0.2 0.5-0.2 0.5-0.3 0.5-0.3 0.5-0.3 0.5-0.4 0.5-0.4 0.5-0.4 0.5-0.4 0.5-0.5 0.5-0.4 0.5-0.4 0.5-0.4 0.5-0.4 0.5-0.3 0.5-0.4 0.5-0.4 0.5-0.3 0.5-0.4 0.5-0.4 0.5-0.3 0.5-0.4 0.5-0.4 0.5-0.4 0.5-0.4 0.5-0.4 0.5-0.4 0.5-0.4 0.5-0.4 0.5-0.4 0.5-0.4 0.5-0.4 0.5-0.4 0.5-0.4 0.5-0.4 0.5-0.3 0.5-0.4 0.5-0.3 0.5-0.3 0.5-0.3 0.5-0.3 0.5-0.3 0.5-0.2 0.5-0.3 0.5-0.3 0.5-0.2 0.5-0.2 0.5-0.2 0.5-0.2 0.5-0.2 0.5-0.2 0.5-0.1 0.5-0.2 0.5-0.1 0.5-0.2 0.5-0.1 0.5-0.1 0.5-0.2 0.5-0.1 0.5-0.1 0.5-0.2 0.5-0.1 0.5-0.1 0.5-0.2 0.5-0.1 0.5-0.1 0.5-0.2 0.5-0.1 0.5-0.1 0.5-0.2 0.5-0.1 0.5-0.2 0.5-0.1 0.5-0.2 0.5-0.1 0.5-0.1 0.5-0.2 0.5-0.1 0.5-0.2 0.5-0.4 0.5-0.3 0.5-0.5 0.5-0.5 0.5-0.6 0.5-0.6 0.5-0.8 0.5-1 0.5-1.4 0.5-1.7 0.5-1.8 0.5-2 0.5-2.2 0.5-2.2 0.5-2.1 0.5-2.1 0.5-2 0.5-1.9 0.5-1.7 0.5-1.5" fill="none" stroke="#d5d5d5" stroke-width="1.1" stroke-linejoin="round" stroke-linecap="round"/>
<path d="M436.3,98.6l0.5,0.7 0.5,0.7 0.5,0.7 0.5,0.6 0.5,0.5 0.5,0.5 0.5,0.4 0.5,0.2 0.5,0.1 0.5,0 0.5-0.1 0.5-0.2 0.5-0.2 0.5-0.3 0.5-0.3 0.5-0.3 0.5-0.2 0.5-0.3 0.5-0.2 0.5-0.3 0.5-0.3 0.5-0.3 0.5-0.3 0.5-0.2 0.5-0.3 0.5-0.3 0.5-0.3 0.5-0.3 0.5-0.2 0.5-0.3 0.5-0.2 0.5-0.3 0.5-0.3 0.5-0.2 0.5-0.3 0.5-0.2 0.5-0.3 0.5-0.2 0.5-0.3 0.5-0.2 0.5-0.3 0.5-0.3 0.5-0.2 0.5-0.3 0.5-0.2 0.5-0.3 0.5-0.2 0.5-0.3 0.5-0.2 0.5-0.3 0.5-0.2 0.5-0.3 0.5-0.2 0.5-0.3 0.5-0.2 0.5-0.2 0.5-0.3 0.5-0.2 0.5-0.3 0.5-0.2 0.5-0.3 0.5-0.2 0.5-0.3 0.5-0.2 0.5-0.3 0.5-0.2 0.5-0.3 0.5-0.2 0.5-0.2 0.5-0.3 0.5-0.2 0.5-0.2 0.5-0.3 0.5-0.2 0.5-0.2 0.5-0.2 0.5-0.3 0.5-0.2 0.5-0.2 0.5-0.2 0.5-0.2 0.5-0.2 0.5-0.2 0.5-0.2 0.5-0.3 0.5-0.2 0.5-0.2 0.5-0.2 0.5-0.2 0.5-0.2 0.5-0.2 0.5-0.2 0.5-0.2 0.5-0.2 0.5-0.2 0.5-0.2 0.5-0.2 0.5-0.2 0.5-0.2 0.5-0.2 0.5-0.3 0.5-0.2 0.5-0.2 0.5-0.2 0.5-0.2 0.5-0.2 0.5-0.3 0.5-0.2 0.5-0.2 0.5-0.3 0.5-0.3 0.5-0.3 0.5-0.3 0.5-0.4 0.5-0.4 0.5-0.5 0.5-0.4 0.5-0.5 0.5-0.5 0.5-0.5 0.5-0.5 0.5-0.4 0.5-0.4 0.5-0.5 0.5-0.4 0.5-0.4 0.5-0.4 0.5-0.4 0.5-0.5 0.5-0.4 0.5-0.4 0.5-0.4 0.5-0.5 0.5-0.4 0.5-0.5 0.5-0.4 0.5-0.5 0.5-0.5 0.5-0.5 0.5-0.4 0.5-0.5 0.5-0.4 0.5-0.5 0.5-0.4 0.5-0.4 0.5-0.4 0.5-0.3 0.5-0.4 0.5-0.3 0.5-0.4 0.5-0.3 0.5-0.3 0.5-0.3 0.5-0.3 0.5-0.2 0.5-0.3 0.5-0.2 0.5-0.3 0.5-0.2 0.5-0.1 0.5-0.2 0.5-0.2 0.5-0.1 0.5-0.2 0.5-0.1 0.5-0.2 0.5-0.1 0.5-0.1 0.5-0.2 0.5-0.1 0.5-0.1 0.5-0.2 0.5-0.1 0.5-0.1 0.5-0.1 0.5-0.1 0.5-0.1 0.5-0.2 0.5-0.1 0.5-0.1 0.5-0.1 0.5-0.1 0.5-0.1 0.5-0.1 0.5-0.1 0.5-0.1 0.5-0.1 0.5-0.1 0.5-0.2 0.5-0.2 0.5-0.4 0.5-0.4 0.5-0.4 0.5-0.5 0.5-0.6 0.5-0.8 0.5-1.1 0.5-1.4 0.5-1.5 0.5-1.6 0.5-1.7 0.5-1.8 0.5-1.7 0.5-1.8 0.5-1.6 0.5-1.6 0.5-1.4 0.5-1.3" fill="none" stroke="#d5d5d5" stroke-width="1.1" stroke-linejoin="round" stroke-linecap="round"/>
<path d="M436.3,97.9l0.5,0.7 0.5,0.7 0.5,0.7 0.5,0.7 0.5,0.5 0.5,0.5 0.5,0.4 0.5,0.3 0.5,0.1 0.5,0 0.5-0.2 0.5-0.2 0.5-0.2 0.5-0.3 0.5-0.3 0.5-0.4 0.5-0.2 0.5-0.3 0.5-0.3 0.5-0.3 0.5-0.3 0.5-0.3 0.5-0.4 0.5-0.3 0.5-0.3 0.5-0.3 0.5-0.3 0.5-0.3 0.5-0.3 0.5-0.3 0.5-0.3 0.5-0.3 0.5-0.3 0.5-0.3 0.5-0.2 0.5-0.3 0.5-0.3 0.5-0.3 0.5-0.3 0.5-0.3 0.5-0.3 0.5-0.2 0.5-0.3 0.5-0.3 0.5-0.3 0.5-0.3 0.5-0.2 0.5-0.3 0.5-0.3 0.5-0.3 0.5-0.3 0.5-0.2 0.5-0.3 0.5-0.3 0.5-0.3 0.5-0.3 0.5-0.2 0.5-0.3 0.5-0.3 0.5-0.3 0.5-0.3 0.5-0.2 0.5-0.3 0.5-0.3 0.5-0.3 0.5-0.2 0.5-0.3 0.5-0.3 0.5-0.2 0.5-0.3 0.5-0.3 0.5-0.2 0.5-0.3 0.5-0.2 0.5-0.3 0.5-0.3 0.5-0.2 0.5-0.2 0.5-0.3 0.5-0.2 0.5-0.3 0.5-0.2 0.5-0.2 0.5-0.3 0.5-0.2 0.5-0.2 0.5-0.3 0.5-0.2 0.5-0.2 0.5-0.2 0.5-0.3 0.5-0.2 0.5-0.2 0.5-0.3 0.5-0.2 0.5-0.2 0.5-0.3 0.5-0.2 0.5-0.2 0.5-0.3 0.5-0.2 0.5-0.3 0.5-0.2 0.5-0.2 0.5-0.3 0.5-0.2 0.5-0.3 0.5-0.2 0.5-0.3 0.5-0.3 0.5-0.3 0.5-0.4 0.5-0.3 0.5-0.5 0.5-0.4 0.5-0.5 0.5-0.6 0.5-0.5 0.5-0.6 0.5-0.5 0.5-0.6 0.5-0.4 0.5-0.5 0.5-0.5 0.5-0.5 0.5-0.4 0.5-0.5 0.5-0.5 0.5-0.5 0.5-0.4 0.5-0.5 0.5-0.5 0.5-0.5 0.5-0.5 0.5-0.5 0.5-0.5 0.5-0.5 0.5-0.6 0.5-0.5 0.5-0.5 0.5-0.5 0.5-0.6 0.5-0.4 0.5-0.5 0.5-0.5 0.5-0.4 0.5-0.4 0.5-0.4 0.5-0.4 0.5-0.4 0.5-0.3 0.5-0.4 0.5-0.3 0.5-0.3 0.5-0.3 0.5-0.3 0.5-0.2 0.5-0.3 0.5-0.2 0.5-0.2 0.5-0.2 0.5-0.2 0.5-0.2 0.5-0.1 0.5-0.2 0.5-0.1 0.5-0.1 0.5-0.2 0.5-0.1 0.5-0.1 0.5-0.2 0.5-0.1 0.5-0.1 0.5-0.1 0.5-0.1 0.5-0.1 0.5-0.1 0.5-0.1 0.5-0.1 0.5-0.1 0.5-0.1 0.5-0.1 0.5,0 0.5-0.1 0.5,0 0.5,0 0.5,0 0.5,0 0.5-0.1 0.5-0.2 0.5-0.1 0.5-0.3 0.5-0.3 0.5-0.4 0.5-0.4 0.5-0.6 0.5-0.9 0.5-1 0.5-1.1 0.5-1.2 0.5-1.4 0.5-1.4 0.5-1.3 0.5-1.4 0.5-1.3 0.5-1.3 0.5-1.1 0.5-1.1" fill="none" stroke="#d5d5d5" stroke-width="1.1" stroke-linejoin="round" stroke-linecap="round"/>
<path d="M436.3,97.2l0.5,0.7 0.5,0.8 0.5,0.7 0.5,0.6 0.5,0.7 0.5,0.5 0.5,0.4 0.5,0.3 0.5,0.1 0.5-0.1 0.5-0.1 0.5-0.3 0.5-0.2 0.5-0.4 0.5-0.3 0.5-0.3 0.5-0.4 0.5-0.3 0.5-0.3 0.5-0.3 0.5-0.3 0.5-0.4 0.5-0.3 0.5-0.4 0.5-0.4 0.5-0.3 0.5-0.3 0.5-0.4 0.5-0.3 0.5-0.3 0.5-0.3 0.5-0.4 0.5-0.3 0.5-0.3 0.5-0.3 0.5-0.3 0.5-0.3 0.5-0.4 0.5-0.3 0.5-0.3 0.5-0.3 0.5-0.3 0.5-0.3 0.5-0.4 0.5-0.3 0.5-0.3 0.5-0.3 0.5-0.3 0.5-0.3 0.5-0.3 0.5-0.3 0.5-0.3 0.5-0.3 0.5-0.4 0.5-0.3 0.5-0.3 0.5-0.3 0.5-0.3 0.5-0.3 0.5-0.3 0.5-0.3 0.5-0.3 0.5-0.3 0.5-0.3 0.5-0.3 0.5-0.3 0.5-0.3 0.5-0.3 0.5-0.3 0.5-0.3 0.5-0.3 0.5-0.3 0.5-0.3 0.5-0.3 0.5-0.3 0.5-0.3 0.5-0.2 0.5-0.3 0.5-0.3 0.5-0.2 0.5-0.3 0.5-0.3 0.5-0.2 0.5-0.3 0.5-0.2 0.5-0.3 0.5-0.3 0.5-0.2 0.5-0.3 0.5-0.2 0.5-0.3 0.5-0.2 0.5-0.3 0.5-0.2 0.5-0.3 0.5-0.2 0.5-0.3 0.5-0.3 0.5-0.2 0.5-0.3 0.5-0.3 0.5-0.2 0.5-0.3 0.5-0.3 0.5-0.2 0.5-0.3 0.5-0.3 0.5-0.3 0.5-0.3 0.5-0.3 0.5-0.4 0.5-0.4 0.5-0.4 0.5-0.4 0.5-0.5 0.5-0.6 0.5-0.6 0.5-0.6 0.5-0.7 0.5-0.6 0.5-0.5 0.5-0.6 0.5-0.5 0.5-0.5 0.5-0.6 0.5-0.5 0.5-0.5 0.5-0.5 0.5-0.5 0.5-0.6 0.5-0.5 0.5-0.5 0.5-0.6 0.5-0.5 0.5-0.6 0.5-0.6 0.5-0.6 0.5-0.5 0.5-0.6 0.5-0.6 0.5-0.6 0.5-0.6 0.5-0.5 0.5-0.5 0.5-0.5 0.5-0.5 0.5-0.5 0.5-0.4 0.5-0.4 0.5-0.4 0.5-0.4 0.5-0.4 0.5-0.4 0.5-0.3 0.5-0.3 0.5-0.4 0.5-0.2 0.5-0.3 0.5-0.3 0.5-0.2 0.5-0.2 0.5-0.2 0.5-0.2 0.5-0.1 0.5-0.2 0.5-0.1 0.5-0.2 0.5-0.1 0.5-0.1 0.5-0.2 0.5-0.1 0.5-0.1 0.5-0.1 0.5-0.1 0.5-0.1 0.5-0.1 0.5-0.1 0.5,0 0.5-0.1 0.5-0.1 0.5,0 0.5-0.1 0.5,0 0.5,0 0.5,0.1 0.5,0 0.5,0.1 0.5,0 0.5,0.1 0.5-0.1 0.5,0 0.5-0.1 0.5-0.2 0.5-0.2 0.5-0.3 0.5-0.5 0.5-0.5 0.5-0.7 0.5-0.8 0.5-0.8 0.5-0.9 0.5-1 0.5-1 0.5-1 0.5-0.9 0.5-1 0.5-0.9 0.5-0.8" fill="none" stroke="#d5d5d5" stroke-width="1.1" stroke-linejoin="round" stroke-linecap="round"/>
<path d="M436.3,96.5l0.5,0.7 0.5,0.7 0.5,0.8 0.5,0.7 0.5,0.6 0.5,0.5 0.5,0.5 0.5,0.3 0.5,0.1 0.5-0.1 0.5-0.1 0.5-0.3 0.5-0.3 0.5-0.4 0.5-0.4 0.5-0.3 0.5-0.4 0.5-0.3 0.5-0.3 0.5-0.4 0.5-0.4 0.5-0.4 0.5-0.3 0.5-0.4 0.5-0.4 0.5-0.4 0.5-0.4 0.5-0.3 0.5-0.4 0.5-0.4 0.5-0.3 0.5-0.4 0.5-0.3 0.5-0.4 0.5-0.3 0.5-0.4 0.5-0.3 0.5-0.4 0.5-0.3 0.5-0.4 0.5-0.3 0.5-0.4 0.5-0.3 0.5-0.4 0.5-0.3 0.5-0.4 0.5-0.3 0.5-0.3 0.5-0.4 0.5-0.3 0.5-0.4 0.5-0.3 0.5-0.4 0.5-0.3 0.5-0.4 0.5-0.3 0.5-0.3 0.5-0.4 0.5-0.3 0.5-0.4 0.5-0.3 0.5-0.4 0.5-0.3 0.5-0.3 0.5-0.4 0.5-0.3 0.5-0.3 0.5-0.4 0.5-0.3 0.5-0.3 0.5-0.4 0.5-0.3 0.5-0.3 0.5-0.3 0.5-0.3 0.5-0.3 0.5-0.3 0.5-0.3 0.5-0.3 0.5-0.3 0.5-0.3 0.5-0.3 0.5-0.3 0.5-0.3 0.5-0.3 0.5-0.3 0.5-0.3 0.5-0.2 0.5-0.3 0.5-0.3 0.5-0.3 0.5-0.3 0.5-0.2 0.5-0.3 0.5-0.3 0.5-0.3 0.5-0.3 0.5-0.3 0.5-0.3 0.5-0.3 0.5-0.3 0.5-0.3 0.5-0.3 0.5-0.3 0.5-0.3 0.5-0.3 0.5-0.3 0.5-0.3 0.5-0.3 0.5-0.4 0.5-0.4 0.5-0.4 0.5-0.5 0.5-0.5 0.5-0.6 0.5-0.6 0.5-0.7 0.5-0.7 0.5-0.7 0.5-0.6 0.5-0.7 0.5-0.6 0.5-0.5 0.5-0.6 0.5-0.6 0.5-0.6 0.5-0.6 0.5-0.5 0.5-0.6 0.5-0.6 0.5-0.6 0.5-0.6 0.5-0.6 0.5-0.6 0.5-0.6 0.5-0.7 0.5-0.6 0.5-0.7 0.5-0.6 0.5-0.7 0.5-0.6 0.5-0.6 0.5-0.7 0.5-0.5 0.5-0.6 0.5-0.5 0.5-0.5 0.5-0.5 0.5-0.5 0.5-0.4 0.5-0.5 0.5-0.4 0.5-0.4 0.5-0.4 0.5-0.3 0.5-0.4 0.5-0.3 0.5-0.3 0.5-0.2 0.5-0.3 0.5-0.2 0.5-0.2 0.5-0.2 0.5-0.2 0.5-0.1 0.5-0.2 0.5-0.1 0.5-0.2 0.5-0.1 0.5-0.1 0.5-0.1 0.5-0.1 0.5-0.1 0.5-0.1 0.5-0.1 0.5-0.1 0.5-0.1 0.5,0 0.5,0 0.5-0.1 0.5,0 0.5,0 0.5,0 0.5,0.1 0.5,0.1 0.5,0.1 0.5,0.1 0.5,0.2 0.5,0.2 0.5,0.1 0.5,0.1 0.5,0 0.5,0 0.5-0.1 0.5-0.2 0.5-0.1 0.5-0.3 0.5-0.3 0.5-0.4 0.5-0.4 0.5-0.4 0.5-0.6 0.5-0.5 0.5-0.6 0.5-0.6 0.5-0.6 0.5-0.6 0.5-0.6" fill="none" stroke="#f545dc" stroke-width="1.3" stroke-linejoin="round" stroke-linecap="round"/>
</g>
<rect x="436.3" y="34.3" width="114.90000000000003" height="75.7" fill="none" stroke="#222" stroke-width="1.4"/>
<line x1="445" y1="110" x2="445" y2="112.5" stroke="#000" stroke-width="1"/>
<text x="0" y="0" font-size="9" font-weight="bold" text-anchor="middle" transform="translate(445 121.8) scale(0.86 1)">360</text>
<line x1="470.4" y1="110" x2="470.4" y2="112.5" stroke="#000" stroke-width="1"/>
<text x="0" y="0" font-size="9" font-weight="bold" text-anchor="middle" transform="translate(470.4 121.8) scale(0.86 1)">390</text>
<line x1="495.8" y1="110" x2="495.8" y2="112.5" stroke="#000" stroke-width="1"/>
<text x="0" y="0" font-size="9" font-weight="bold" text-anchor="middle" transform="translate(495.8 121.8) scale(0.86 1)">420</text>
<line x1="521.2" y1="110" x2="521.2" y2="112.5" stroke="#000" stroke-width="1"/>
<text x="0" y="0" font-size="9" font-weight="bold" text-anchor="middle" transform="translate(521.2 121.8) scale(0.86 1)">450</text>
<line x1="546.6" y1="110" x2="546.6" y2="112.5" stroke="#000" stroke-width="1"/>
<text x="0" y="0" font-size="9" font-weight="bold" text-anchor="middle" transform="translate(546.6 121.8) scale(0.86 1)">480</text>
<defs><clipPath id="cc"><rect x="78.2" y="269.8" width="252.10000000000002" height="166.7"/></clipPath></defs>
<g clip-path="url(#cc)">
<path d="M78.5,416.3l0.6-1.7 0.6,0.1 0.6,2.3 0.6-1.2 0.6-2 0.6,2 0.6-0.2 0.6-2.3 0.6,2.7 0.6-2.6 0.6,0.9 0.6,0.6 0.6-0.8 0.6-0.5 0.6,0.4 0.6,0.4 0.6,0.9 0.6-0.3 0.6,0.3 0.6-0.6 0.6-1 0.6-0.4 0.6,1.6 0.6,0 0.6-1.9 0.6,1.3 0.6-1.3 0.6-1 0.6,1.2 0.6,1.2 0.6-1.1 0.6,0.8 0.6,0 0.6-0.2 0.6-1.6 0.6,1.8 0.6-2.6 0.6,1.2 0.6-1.3 0.6,0.9 0.6,1.4 0.6-0.3 0.6,0.5 0.6-1.4 0.6-0.2 0.6-1.1 0.6,0.9 0.6,1.2 0.6-1.8 0.6,1.5 0.6-1.7 0.6,1.4 0.6-1.9 0.6,2.3 0.6-2.6 0.6-0.1 0.6,1.4 0.6,0.6 0.6-0.2 0.6-1 0.6,0.9 0.6-1.5 0.6,0.3 0.6-0.1 0.6-0.2 0.6-0.6 0.6,0.5 0.6,1 0.6,0.1 0.6-0.8 0.6,0.8 0.6-0.9 0.6,1.5 0.6-2.4 0.6,2.2 0.6,0.4 0.6-1 0.6,0.2 0.6,1 0.6-2.6 0.6-0.1 0.6,1.2 0.6,0.6 0.6-0.5 0.6-0.2 0.6-0.2 0.6,0.1 0.6,1.2 0.6-2.4 0.6,1.8 0.6-1.7 0.6,2.2 0.6-1.7 0.6,1.6 0.6-1.5 0.6,1 0.6-0.4 0.6,1.3 0.6-1.4 0.6,0.1 0.6,0 0.6-0.8 0.6,2.1 0.6-1.8 0.6-0.6 0.6,0.2 0.6,1.5 0.6,0.6 0.6-1 0.6,1.1 0.6-2.2 0.6,2 0.6-0.3 0.6-1.7 0.6-0.3 0.6,1 0.6-0.1 0.6,0.3 0.6,0.7 0.6-1.5 0.6,0.1 0.6,0.2 0.6-0.5 0.6,0.8 0.6,0.5 0.6-1 0.6-0.4 0.6,1.8 0.6-1.9 0.6,2.3 0.6-0.7 0.6-1.2 0.6-0.6 0.6,2.5 0.6-2.5 0.6,2.2 0.6-0.6 0.6,0.4 0.6-1.4 0.6,1.6 0.6-1.5 0.6,1.1 0.6,1.1 0.6-1.1 0.6-1.3 0.6,0.2 0.6,0.6 0.6,1.2 0.6-0.1 0.6-1.2 0.6,0.6 0.6-0.6 0.6,0.4 0.6-0.5 0.6,1.9 0.6-1.7 0.6-0.2 0.6,1 0.6-1.2 0.6-0.3 0.6,1 0.6,1.2 0.6-1.4 0.6-0.2 0.6,0 0.6,1 0.6-1 0.6,0.8 0.6,0 0.6-1.4 0.6,0.9 0.6,1.5 0.6-1.8 0.6,1.7 0.6-2 0.6,1.2 0.6-0.1 0.6,0.7 0.6-1.9 0.6,0.4 0.6,0.8 0.6,1.6 0.6-1.2 0.6,1.1 0.6-1 0.6,1.4 0.6-2.7 0.6,2.4 0.6-1.7 0.6-0.1 0.6,1 0.6-0.3 0.6,1.8 0.6-0.2 0.6-0.6 0.6-1.4 0.6,0 0.6,0.6 0.6-0.3 0.6-0.3 0.6,0 0.6,0.2 0.6,0.1 0.6-0.5 0.6,0.6 0.6,1.9 0.6-0.3 0.6-0.6 0.6,1 0.6,0 0.6-2.5 0.6-0.2 0.6,0.9 0.6,0.6 0.6,1.5 0.6-2.9 0.6,2 0.6,0.3 0.6-1.6 0.6,1.6 0.6,0.3 0.6-2.3 0.6,1.7 0.6-0.5 0.6,0.9 0.6-1.9 0.6,1.6 0.6-1.9 0.6,0 0.6,1.3 0.6-0.3 0.6,0.3 0.6-0.7 0.6,2.4 0.6-1.7 0.6,0.3 0.6-0.4 0.6,1.6 0.6-2.2 0.6,2.3 0.6-2.2 0.6,2.1 0.6-1.3 0.6,0.5 0.6-1 0.6,1.7 0.6-1.8 0.6,1.8 0.6-0.4 0.6,0.7 0.6,0.3 0.6-0.5 0.6-1.9 0.6,2 0.6-2.2 0.6,2.2 0.6,0.3 0.6-2.3 0.6-0.3 0.6,2.4 0.6-1.4 0.6,1 0.6,0.4 0.6,0.4 0.6-1.2 0.6,1 0.6,0.2 0.6-0.4 0.6-1.2 0.6,1.7 0.6-1.5 0.6,1.5 0.6-1.6 0.6,0.3 0.6-1.3 0.6,0.2 0.6,2.5 0.6-1.4 0.6,0.9 0.6-0.8 0.6,0.8 0.6-0.6 0.6-1.1 0.6,0.5 0.6,1 0.6-1.4 0.6,2.3 0.6-2.6 0.6,1.5 0.6,1 0.6-0.4 0.6-1.8 0.6-0.1 0.6,1.9 0.6-0.9 0.6-0.9 0.6,0.1 0.6,1.6 0.6-1.9 0.6,0.8 0.6,2 0.6-2.1 0.6,1.8 0.6-2.4 0.6,0.5 0.6-0.4 0.6,2.1 0.6-0.5 0.6,0.6 0.6,0.2 0.6-0.3 0.6-1.8 0.6,1 0.6-1.2 0.6,2.3 0.6-1.3 0.6,0.3 0.6,1.3 0.6,0.3 0.6-1.1 0.6-0.6 0.6,1.4 0.6,0 0.6-1.9 0.6,0.7 0.6,1.5 0.6,0.1 0.6-0.2 0.6-1.2 0.6-1 0.6,2.2 0.6-2 0.6,1.2 0.6-0.6 0.6,1.4 0.6-1.5 0.6,0.1 0.6,1.4 0.6-0.3 0.6,0.8 0.6-2.6 0.6,0 0.6,1.7 0.6-0.5 0.6,1.2 0.6-1.3 0.6-1.2 0.6,1.3 0.6-0.7 0.6,1.7 0.6,0 0.6,0.2 0.6-2.3 0.6,1.4 0.6-1.1 0.6,2.4 0.6-2.5 0.6,1.6 0.6,0.2 0.6-1.6 0.6,1.2 0.6-1.4 0.6-0.2 0.6,0.8 0.6-0.6 0.6,1.1 0.6,0.7 0.6,0.8 0.6-2 0.6,0.6 0.6,0.7 0.6-1.1 0.6,0 0.6,0.2 0.6,1.4 0.6-1.4 0.6,1.3 0.6-1.9 0.6,0.5 0.6,0 0.6-0.2 0.6-0.2 0.6,0.8 0.6,1.2 0.6-0.4 0.6,1 0.6-2 0.6,0 0.6-0.2 0.6,0.8 0.6-1.1 0.6,2.1 0.6-1.1 0.6-1.2 0.6,1.5 0.6-0.3 0.6-0.6 0.6,0.3 0.6,1.1 0.6,1 0.6-1.1 0.6-1 0.6-0.7 0.6,0.9 0.6-0.2 0.6,0.6 0.6,0.1 0.6-0.5 0.6-0.4 0.6,2.4 0.6,0 0.6-0.6 0.6,0.6 0.6-1 0.6,0.5 0.6-0.9 0.6,0.7 0.6,0.6 0.6-0.4" fill="none" stroke="#00c400" stroke-width="2.0" stroke-linejoin="round" stroke-linecap="round"/>
<path d="M78.5,416.3l0.6-0.2 0.6-0.2 0.6-0.3 0.6-0.2 0.6-0.2 0.6-0.2 0.6-0.2 0.6-0.1 0.6-0.2 0.6-0.1 0.6-0.1 0.6-0.1 0.6-0.1 0.6,0 0.6-0.1 0.6,0 0.6-0.1 0.6,0 0.6-0.1 0.6,0 0.6-0.1 0.6,0 0.6,0 0.6-0.1 0.6-0.1 0.6,0 0.6-0.1 0.6,0 0.6-0.1 0.6-0.1 0.6,0 0.6-0.1 0.6-0.1 0.6,0 0.6-0.1 0.6,0 0.6-0.1 0.6-0.1 0.6,0 0.6-0.1 0.6-0.1 0.6,0 0.6-0.1 0.6-0.1 0.6,0 0.6-0.1 0.6-0.1 0.6,0 0.6-0.1 0.6-0.1 0.6,0 0.6-0.1 0.6,0 0.6-0.1 0.6,0 0.6,0 0.6-0.1 0.6,0 0.6,0 0.6-0.1 0.6,0 0.6,0 0.6-0.1 0.6,0 0.6,0 0.6,0 0.6,0 0.6-0.1 0.6,0 0.6,0 0.6,0 0.6,0 0.6-0.1 0.6,0 0.6,0 0.6,0 0.6,0 0.6-0.1 0.6,0 0.6,0 0.6,0 0.6,0 0.6,0 0.6,0 0.6-0.1 0.6,0 0.6,0 0.6,0 0.6,0 0.6,0 0.6,0 0.6,0 0.6,0 0.6,0 0.6,0 0.6,0 0.6,0 0.6,0 0.6-0.1 0.6,0 0.6,0 0.6,0 0.6,0 0.6,0 0.6,0.1 0.6,0 0.6,0 0.6,0 0.6,0 0.6,0 0.6,0 0.6,0 0.6,0 0.6,0 0.6,0 0.6,0 0.6,0 0.6,0 0.6,0 0.6,0 0.6,0 0.6,0 0.6,0 0.6,0 0.6,0 0.6,0 0.6,0 0.6,0 0.6,0 0.6,0 0.6,0 0.6,0 0.6,0 0.6,0 0.6,0 0.6,0 0.6,0.1 0.6,0 0.6,0 0.6,0 0.6,0 0.6,0 0.6,0 0.6,0 0.6,0 0.6,0 0.6,0 0.6,0 0.6,0.1 0.6,0 0.6,0 0.6,0 0.6,0 0.6,0 0.6,0 0.6,0.1 0.6,0 0.6,0 0.6,0 0.6,0 0.6,0.1 0.6,0 0.6,0 0.6,0 0.6,0.1 0.6,0 0.6,0 0.6,0 0.6,0.1 0.6,0 0.6,0 0.6,0.1 0.6,0 0.6,0 0.6,0 0.6,0.1 0.6,0 0.6,0 0.6,0.1 0.6,0 0.6,0 0.6,0 0.6,0.1 0.6,0 0.6,0 0.6,0.1 0.6,0 0.6,0 0.6,0.1 0.6,0 0.6,0.1 0.6,0 0.6,0.1 0.6,0 0.6,0 0.6,0 0.6,0.1 0.6,0 0.6,0 0.6,0 0.6,0.1 0.6,0 0.6,0 0.6,0 0.6,0.1 0.6,0 0.6,0 0.6,0 0.6,0 0.6,0.1 0.6,0 0.6,0 0.6,0 0.6,0 0.6,0.1 0.6,0 0.6,0 0.6,0 0.6,0 0.6,0.1 0.6,0 0.6,0 0.6,0 0.6,0 0.6,0.1 0.6,0 0.6,0 0.6,0 0.6,0 0.6,0.1 0.6,0 0.6,0 0.6,0 0.6,0 0.6,0.1 0.6,0 0.6,0 0.6,0 0.6,0 0.6,0 0.6,0.1 0.6,0 0.6,0 0.6,0 0.6,0 0.6,0.1 0.6,0 0.6,0 0.6,0 0.6,0 0.6,0.1 0.6,0 0.6,0 0.6,0 0.6,0 0.6,0.1 0.6,0 0.6,0 0.6,0 0.6,0 0.6,0 0.6,0.1 0.6,0 0.6,0 0.6,0 0.6,0 0.6,0.1 0.6,0 0.6,0 0.6,0 0.6,0 0.6,0 0.6,0.1 0.6,0 0.6,0 0.6,0 0.6,0 0.6,0.1 0.6,0 0.6,0 0.6,0 0.6,0 0.6,0 0.6,0.1 0.6,0 0.6,0 0.6,0 0.6,0 0.6,0.1 0.6,0 0.6,0 0.6,0 0.6,0 0.6,0 0.6,0.1 0.6,0 0.6,0 0.6,0 0.6,0 0.6,0 0.6,0.1 0.6,0 0.6,0 0.6,0 0.6,0 0.6,0 0.6,0.1 0.6,0 0.6,0 0.6,0 0.6,0 0.6,0 0.6,0.1 0.6,0 0.6,0 0.6,0 0.6,0 0.6,0 0.6,0.1 0.6,0 0.6,0 0.6,0 0.6,0 0.6,0 0.6,0.1 0.6,0 0.6,0 0.6,0 0.6,0 0.6,0 0.6,0.1 0.6,0 0.6,0 0.6,0 0.6,0 0.6,0 0.6,0.1 0.6,0 0.6,0 0.6,0 0.6,0 0.6,0 0.6,0 0.6,0.1 0.6,0 0.6,0 0.6,0 0.6,0 0.6,0 0.6,0.1 0.6,0 0.6,0 0.6,0 0.6,0 0.6,0 0.6,0.1 0.6,0 0.6,0 0.6,0 0.6,0 0.6,0.1 0.6,0 0.6,0 0.6,0 0.6,0 0.6,0 0.6,0.1 0.6,0 0.6,0 0.6,0 0.6,0 0.6,0.1 0.6,0 0.6,0 0.6,0 0.6,0 0.6,0.1 0.6,0 0.6,0 0.6,0 0.6,0 0.6,0.1 0.6,0 0.6,0 0.6,0 0.6,0 0.6,0.1 0.6,0 0.6,0 0.6,0 0.6,0 0.6,0.1 0.6,0 0.6,0 0.6,0 0.6,0.1 0.6,0 0.6,0 0.6,0 0.6,0 0.6,0.1 0.6,0 0.6,0 0.6,0 0.6,0.1 0.6,0 0.6,0 0.6,0 0.6,0.1 0.6,0 0.6,0 0.6,0 0.6,0.1 0.6,0 0.6,0 0.6,0 0.6,0 0.6,0.1 0.6,0" fill="none" stroke="#000" stroke-width="1.0" stroke-linejoin="round" stroke-linecap="round" opacity="0.85"/>
<path d="M78.5,415.9l0.6-1.7 0.6-1.8 0.6-1.8 0.6-1.9 0.6-2.1 0.6-2.2 0.6-2 0.6-1.6 0.6,0 0.6,1.2 0.6-0.4 0.6-0.8 0.6-0.8 0.6-0.7 0.6-0.6 0.6-0.6 0.6-0.6 0.6-0.5 0.6-0.4 0.6-0.2 0.6,0 0.6,0.4 0.6,0.4 0.6,0.4 0.6,0.4 0.6,0.3 0.6,0.2 0.6,0.1 0.6,0.1 0.6,0.1 0.6,0 0.6,0.1 0.6,0 0.6,0 0.6,0.1 0.6,0 0.6,0 0.6,0 0.6,0 0.6-0.1 0.6-0.1 0.6-0.1 0.6-0.1 0.6,0 0.6,0 0.6,0 0.6,0 0.6,0.1 0.6,0.1 0.6,0 0.6,0.1 0.6,0 0.6,0.1 0.6,0.1 0.6,0 0.6,0.1 0.6,0.1 0.6,0 0.6,0.1 0.6,0.1 0.6,0 0.6,0.1 0.6,0 0.6,0.1 0.6,0.1 0.6,0 0.6,0.1 0.6,0.1 0.6,0 0.6,0.1 0.6,0 0.6,0.1 0.6,0.1 0.6,0 0.6,0.1 0.6,0.1 0.6,0 0.6,0.1 0.6,0.1 0.6,0 0.6,0.1 0.6,0 0.6,0.1 0.6,0.1 0.6,0 0.6,0.1 0.6,0.1 0.6,0 0.6,0.1 0.6,0.1 0.6,0 0.6,0.1 0.6,0 0.6,0.1 0.6,0.1 0.6,0 0.6,0.1 0.6,0.1 0.6,0 0.6,0.1 0.6,0.1 0.6,0 0.6,0.1 0.6,0.1 0.6,0 0.6,0.1 0.6,0.1 0.6,0 0.6,0.1 0.6,0.1 0.6,0 0.6,0.1 0.6,0 0.6,0.1 0.6,0.1 0.6,0 0.6,0.1 0.6,0 0.6,0.1 0.6,0.1 0.6,0 0.6,0.1 0.6,0 0.6,0.1 0.6,0 0.6,0.1 0.6,0 0.6,0.1 0.6,0 0.6,0.1 0.6,0 0.6,0.1 0.6,0 0.6,0.1 0.6,0 0.6,0.1 0.6,0 0.6,0 0.6,0.1 0.6,0 0.6,0.1 0.6,0 0.6,0.1 0.6,0 0.6,0.1 0.6,0 0.6,0 0.6,0.1 0.6,0 0.6,0.1 0.6,0 0.6,0.1 0.6,0 0.6,0.1 0.6,0 0.6,0.1 0.6,0 0.6,0.1 0.6,0 0.6,0.1 0.6,0 0.6,0.1 0.6,0 0.6,0.1 0.6,0 0.6,0.1 0.6,0 0.6,0.1 0.6,0 0.6,0.1 0.6,0 0.6,0.1 0.6,0 0.6,0.1 0.6,0.1 0.6,0 0.6,0.1 0.6,0 0.6,0.1 0.6,0 0.6,0.1 0.6,0 0.6,0.1 0.6,0 0.6,0 0.6,0.1 0.6,0.1 0.6,0 0.6,0.1 0.6,0 0.6,0.1 0.6,0 0.6,0.1 0.6,0 0.6,0 0.6,0.1 0.6,0 0.6,0 0.6,0.1 0.6,0 0.6,0 0.6,0.1 0.6,0 0.6,0.1 0.6,0 0.6,0 0.6,0.1 0.6,0 0.6,0 0.6,0.1 0.6,0 0.6,0 0.6,0.1 0.6,0 0.6,0 0.6,0.1 0.6,0 0.6,0 0.6,0.1 0.6,0 0.6,0.1 0.6,0 0.6,0 0.6,0.1 0.6,0 0.6,0 0.6,0.1 0.6,0 0.6,0 0.6,0.1 0.6,0 0.6,0 0.6,0.1 0.6,0 0.6,0 0.6,0.1 0.6,0 0.6,0 0.6,0.1 0.6,0 0.6,0 0.6,0.1 0.6,0 0.6,0 0.6,0.1 0.6,0 0.6,0 0.6,0.1 0.6,0 0.6,0 0.6,0.1 0.6,0 0.6,0 0.6,0.1 0.6,0 0.6,0 0.6,0.1 0.6,0 0.6,0 0.6,0.1 0.6,0 0.6,0 0.6,0.1 0.6,0 0.6,0 0.6,0.1 0.6,0 0.6,0 0.6,0.1 0.6,0 0.6,0 0.6,0.1 0.6,0 0.6,0 0.6,0.1 0.6,0 0.6,0 0.6,0.1 0.6,0 0.6,0 0.6,0.1 0.6,0 0.6,0 0.6,0 0.6,0.1 0.6,0 0.6,0 0.6,0.1 0.6,0 0.6,0 0.6,0.1 0.6,0 0.6,0 0.6,0 0.6,0.1 0.6,0 0.6,0 0.6,0.1 0.6,0 0.6,0 0.6,0 0.6,0.1 0.6,0 0.6,0 0.6,0.1 0.6,0 0.6,0 0.6,0 0.6,0.1 0.6,0 0.6,0 0.6,0 0.6,0.1 0.6,0 0.6,0 0.6,0 0.6,0.1 0.6,0 0.6,0 0.6,0.1 0.6,0 0.6,0 0.6,0 0.6,0.1 0.6,0 0.6,0 0.6,0 0.6,0.1 0.6,0 0.6,0 0.6,0 0.6,0.1 0.6,0 0.6,0 0.6,0 0.6,0.1 0.6,0 0.6,0 0.6,0 0.6,0.1 0.6,0 0.6,0 0.6,0 0.6,0.1 0.6,0 0.6,0 0.6,0 0.6,0.1 0.6,0 0.6,0 0.6,0.1 0.6,0 0.6,0 0.6,0 0.6,0 0.6,0.1 0.6,0 0.6,0 0.6,0 0.6,0.1 0.6,0 0.6,0 0.6,0 0.6,0.1 0.6,0 0.6,0 0.6,0 0.6,0.1 0.6,0 0.6,0 0.6,0 0.6,0.1 0.6,0 0.6,0 0.6,0 0.6,0.1 0.6,0 0.6,0 0.6,0 0.6,0.1 0.6,0 0.6,0 0.6,0 0.6,0 0.6,0.1 0.6,0 0.6,0 0.6,0 0.6,0.1 0.6,0 0.6,0 0.6,0 0.6,0 0.6,0.1 0.6,0 0.6,0 0.6,0 0.6,0.1 0.6,0 0.6,0 0.6,0 0.6,0 0.6,0.1 0.6,0 0.6,0 0.6,0 0.6,0 0.6,0.1 0.6,0 0.6,0 0.6,0 0.6,0 0.6,0.1 0.6,0 0.6,0 0.6,0 0.6,0 0.6,0.1 0.6,0" fill="none" stroke="#0000ff" stroke-width="2.2" stroke-linejoin="round" stroke-linecap="round"/>
<path d="M78,417C78.4,415.8 79.5,412 80.5,410C81.5,408 82.5,406.5 83.8,405C85.1,403.5 86.5,402.2 88.2,401.2C90,400.2 92.4,399.4 94.3,399C96.2,398.6 96.6,398.7 99.7,398.7C102.8,398.7 107.6,398.8 113,399.2C118.4,399.6 125.7,400.6 132,401.3C138.3,402 144.6,402.7 150.9,403.3C157.2,403.9 163.6,404.3 169.9,404.8C176.2,405.3 183.9,406 188.9,406.4C193.9,406.8 189.8,406.6 200,407.2C210.2,407.8 233.3,409.2 250,410C266.7,410.8 286.6,411.6 300,412.2C313.4,412.8 325.2,413.1 330.2,413.3" fill="none" stroke="#000" stroke-width="1.1" stroke-linejoin="round" stroke-linecap="round" opacity="0.8"/>
<path d="M78.5,367.9l0.5-6.8 0.5-7.1 0.5-5.1 0.5-5.9 0.5-6.8 0.5-4.3 0.5-4.5 0.5-3 0.5-3.8 0.5-3.4 0.5-3.1 0.5-2.3 0.5-2.9 0.5,0.2 0.5-4.9 0.5-2.3 0.5,0.9 0.5-3.6 0.5-0.7 0.5-3 0.5-2.5 0.5-1.3 0.5,1.7 0.5-3.9 0.5,0.2 0.5-1.5 0.5,0.3 0.5-1.6 0.5,0.6 0.5-2.6 0.5,0.5 0.5,0.8 0.5-1.9 0.5,0.8 0.5-3.3 0.5,2.2 0.5-1.9 0.5,1.6 0.5-1.2 0.5-1.7 0.5,1.5 0.5-2.1 0.5,1 0.5,0.6 0.5-1.9 0.5-0.4 0.5,2.5 0.5-2.1 0.5,1.9 0.5-0.9 0.5-0.8 0.5,2.3 0.5-1.5 0.5-0.2 0.5,2.1 0.5,0.5 0.5-2 0.5,2.3 0.5-2.6 0.5,2.4 0.5-0.4 0.5-0.9 0.5,0.8 0.5,0 0.5,1.3 0.5-0.5 0.5,0.3 0.5,1 0.5-0.8 0.5-0.6 0.5,1.6 0.5,1.4 0.5-1.7 0.5,0.4 0.5,2.3 0.5-2.1 0.5,2.8 0.5-1.8 0.5,0 0.5,1.9 0.5,0.8 0.5-1.1 0.5-0.3 0.5-0.1 0.5-0.1 0.5,2.5 0.5,0.5 0.5-1.1 0.5,0.9 0.5,1.2 0.5,0.2 0.5,0.3 0.5,1.1 0.5-1.8 0.5,2.7 0.5-0.8 0.5-0.6 0.5,1.5 0.5-0.8 0.5,0.7 0.5,1.7 0.5,0.3 0.5-0.3 0.5,1 0.5,0.6 0.5-1.2 0.5-0.7 0.5,3.1 0.5-2.4 0.5,1.6 0.5-0.8 0.5,1.8 0.5,1.1 0.5-2 0.5,1.8 0.5,0.1 0.5,1.2 0.5,1.1 0.5-0.4 0.5-1.6 0.5,1.3 0.5,0.7 0.5-0.6 0.5,2.5 0.5-1.2 0.5,0.3 0.5-0.1 0.5,1.4 0.5,1.2 0.5-1.9 0.5,1.5 0.5-0.3 0.5-0.4 0.5,1.4 0.5,1 0.5,0.3 0.5,1.5 0.5-0.6 0.5,1 0.5-0.4 0.5,0.2 0.5,1 0.5,0.2 0.5-0.1 0.5-1 0.5,0.1 0.5,2.2 0.5-2.4 0.5,1.4 0.5,1.8 0.5-1.5 0.5,1 0.5-0.2 0.5,1.2 0.5,0.9 0.5-2.1 0.5,1.4 0.5,1.7 0.5-1.1 0.5,2.1 0.5-1.9 0.5,1 0.5-0.8 0.5,2.6 0.5-1 0.5,1.4 0.5-0.1 0.5-1.1 0.5,2.2 0.5-2.2 0.5,3 0.5-0.1 0.5-1.4 0.5,1.3 0.5-0.4 0.5,0.7 0.5,1.8 0.5-1.3 0.5,0.7 0.5-1.4 0.5,0.4 0.5,1.6 0.5,0.2 0.5,1.9 0.5-0.8 0.5,1.3 0.5-0.7 0.5,1.4 0.5-1.6 0.5-0.7 0.5,2.7 0.5,0 0.5-1.2 0.5,0.3 0.5,1.2 0.5,1.6 0.5-0.4 0.5-0.5 0.5,0.7 0.5-0.4 0.5,0.4 0.5-0.4 0.5,1.9 0.5-1.9 0.5,1.9 0.5-1.2 0.5,0.4 0.5,2.3 0.5,0.5 0.5-0.8 0.5,1.7 0.5-0.6 0.5-0.3 0.5,0.4 0.5-1.6 0.5,0.5 0.5,2.3 0.5-0.9 0.5,2.1 0.5-2 0.5,0.3 0.5,0 0.5,2.6 0.5-1 0.5-0.7 0.5-0.3 0.5,1.9 0.5-1.6 0.5,3 0.5-2 0.5,2.1 0.5,0.6 0.5-1.6 0.5,1.2 0.5,0.6 0.5-0.5 0.5,0.1 0.5,1.8 0.5-1.8 0.5,1.3 0.5-1.6 0.5,2.1 0.5,1.5 0.5-1.6 0.5,1.4 0.5-1.1 0.5,0.4 0.5,0.3 0.5,1.8 0.5-1.5 0.5-0.6 0.5,1.9 0.5,0.3 0.5,0.4 0.5-0.2 0.5-0.3 0.5,1.6 0.5-1.3 0.5,0.3 0.5,0 0.5-0.1 0.5,0.7 0.5,1.8 0.5-0.6 0.5,0.4 0.5-0.5 0.5,0.4 0.5,1.6 0.5,1.1 0.5-2.3 0.5,2 0.5,1.1 0.5-1.1 0.5,1.4 0.5-2.1 0.5,2.2 0.5-1.9 0.5,0.6 0.5-0.2 0.5,0 0.5,2.6 0.5-1.1 0.5,0.3 0.5,1.4 0.5-1.3 0.5,2.2 0.5-2 0.5,2.8 0.5-0.1 0.5-1 0.5,1.6 0.5-0.1 0.5,0.6 0.5-1.9 0.5,0.6 0.5-0.2 0.5,0.7 0.5,0.5 0.5,1.2 0.5-1.5 0.5,0.9 0.5-0.7 0.5,0.8 0.5-1.1 0.5,1.8 0.5,0.4 0.5,0.1 0.5,1.1 0.5-0.9 0.5-0.6 0.5,2.3 0.5-1.5 0.5-0.5 0.5,1.2 0.5,0.8 0.5-1.2 0.5,0.1 0.5-0.3 0.5,1.7 0.5-0.4 0.5,1.5 0.5-1.8 0.5,1.6 0.5-1.3 0.5,0.4 0.5-0.1 0.5,1.9 0.5,0.4 0.5-0.7 0.5,1.4 0.5,0.1 0.5,0.4 0.5-0.5 0.5-0.5 0.5,0.1 0.5,1.4 0.5-1.4 0.5,0 0.5,2.6 0.5,0 0.5-0.7 0.5,0.7 0.5-2.3 0.5,2.5 0.5-0.4 0.5-0.8 0.5,0.1 0.5,1.5 0.5,0.9 0.5-0.4 0.5-2 0.5,1.9 0.5-0.6 0.5-0.2 0.5-0.4 0.5,1.8 0.5-0.8 0.5,0.4 0.5,0.7 0.5,1.4 0.5-1.8 0.5,1.2 0.5,0.3 0.5,0.6 0.5,0.4 0.5-1.8 0.5,2.2 0.5-2.4 0.5,1.4 0.5,1.1 0.5,0.7 0.5-1.6 0.5,1.2 0.5,0.2 0.5-1.9 0.5,2.4 0.5,0.4 0.5-2 0.5,0.7 0.5,0.5 0.5,1.8 0.5,0.2 0.5-2.3 0.5,0.8 0.5-0.7 0.5-0.1 0.5,0.7 0.5,2.5 0.5,0 0.5-2.1 0.5,1.5 0.5,0.2 0.5-0.5 0.5,1.5 0.5-2.3 0.5,0.7 0.5-0.3 0.5,2.7 0.5-0.2 0.5-1 0.5-1 0.5,2.6 0.5-0.1 0.5,0.4 0.5,0.4 0.5-0.8 0.5-0.4 0.5,1.1 0.5-1.9 0.5,2.3 0.5-1.5 0.5,0.5 0.5,1.6 0.5-2.7 0.5,1.2 0.5,1.7 0.5-1.2 0.5,1.7 0.5-0.4 0.5-1.5 0.5,1 0.5-0.3 0.5,1.1 0.5,0.3 0.5-0.5 0.5-1.3 0.5,2.7 0.5-2.1 0.5,1.6 0.5,0.7 0.5-1 0.5-1.2 0.5,1.7 0.5-1.3 0.5,0.4 0.5,0.2 0.5,0 0.5,1.4 0.5,0.7 0.5-0.9 0.5,1.8 0.5-2.7 0.5,0.9 0.5,0.1 0.5,0.8 0.5,0.5 0.5-1.1 0.5,0.6 0.5,0 0.5-0.1 0.5-0.8 0.5,2.4 0.5-2.2 0.5,1.3 0.5-0.5 0.5,0.7 0.5,1.1 0.5,0.4 0.5,0.3 0.5-0.7 0.5-1 0.5-0.7 0.5,0.5 0.5,2.5 0.5-1.5 0.5,0 0.5,0.1 0.5,0 0.5-0.3 0.5,0.3 0.5,0.7 0.5,0.1 0.5-1.2 0.5,0.3 0.5-0.2 0.5,1.5 0.5,0.7 0.5,0.8 0.5-1.4 0.5,0.8 0.5,0.6 0.5-0.7 0.5,0.1 0.5-1.1 0.5,1.8 0.5,0.2 0.5-1.2 0.5,1.2 0.5-1.3 0.5-0.3 0.5,0.9 0.5,0.7 0.5-0.4 0.5-0.3 0.5,2.4 0.5-0.8 0.5-1.2 0.5-0.6 0.5,2.2 0.5,0.7 0.5-0.5 0.5,0 0.5,1" fill="none" stroke="#f545dc" stroke-width="2.4" stroke-linejoin="round" stroke-linecap="round"/>
<path d="M78.5,367C78.7,364.5 79.4,356.4 79.7,352C80,347.6 80.1,345 80.6,340.7C81,336.4 81.8,330.4 82.4,326C83,321.6 83.5,317.8 84.2,314C84.9,310.2 85.7,306.8 86.5,303.5C87.3,300.2 88.2,296.8 89.2,294C90.2,291.2 91.5,288.8 92.8,286.8C94.1,284.9 95.8,283.3 97.2,282.3C98.6,281.3 99.8,281.2 101,281C102.2,280.8 103.1,280.9 104.5,281.2C105.9,281.5 106.7,281.6 109.4,282.9C112.1,284.2 117.1,286.7 120.9,289.1C124.7,291.5 128.5,294.4 132.3,297.1C136.1,299.8 140,302.6 143.8,305.1C147.6,307.6 151.4,309.7 155.2,312C159,314.3 162.9,316.6 166.7,318.9C170.5,321.2 174.4,323.7 178.2,325.8C182,327.9 186,329.7 189.6,331.5C193.2,333.3 194.8,334.1 200,336.7C205.2,339.3 213.9,344 220.8,347.1C227.8,350.2 234.8,352.8 241.7,355.4C248.6,358 255.6,360.4 262.5,362.7C269.4,365 276.4,367.1 283.3,369C290.2,370.9 296.4,372.5 304.2,374.2C312,375.9 325.9,378.5 330.2,379.4" fill="none" stroke="#2a0a2a" stroke-width="1.1" stroke-linejoin="round" stroke-linecap="round"/>
</g>
<rect x="78.2" y="269.8" width="252.10000000000002" height="166.7" fill="none" stroke="#000" stroke-width="1.7"/>
<line x1="78" y1="436.5" x2="78" y2="440.5" stroke="#000" stroke-width="1.6"/>
<text x="78" y="454.3" font-size="12" font-weight="bold" text-anchor="middle">0</text>
<line x1="138.8" y1="436.5" x2="138.8" y2="440.5" stroke="#000" stroke-width="1.6"/>
<text x="138.8" y="454.3" font-size="12" font-weight="bold" text-anchor="middle">20</text>
<line x1="199.6" y1="436.5" x2="199.6" y2="440.5" stroke="#000" stroke-width="1.6"/>
<text x="199.6" y="454.3" font-size="12" font-weight="bold" text-anchor="middle">40</text>
<line x1="260.4" y1="436.5" x2="260.4" y2="440.5" stroke="#000" stroke-width="1.6"/>
<text x="260.4" y="454.3" font-size="12" font-weight="bold" text-anchor="middle">60</text>
<line x1="321.2" y1="436.5" x2="321.2" y2="440.5" stroke="#000" stroke-width="1.6"/>
<text x="321.2" y="454.3" font-size="12" font-weight="bold" text-anchor="middle">80</text>
<line x1="72" y1="411.8" x2="78.5" y2="411.8" stroke="#000" stroke-width="1.6"/>
<text x="66.2" y="416.2" font-size="12.7" font-weight="bold" text-anchor="end">1.0&#215;10</text>
<text x="66.6" y="411.4" font-size="8.3" font-weight="bold" text-anchor="start">4</text>
<line x1="72" y1="376.2" x2="78.5" y2="376.2" stroke="#000" stroke-width="1.6"/>
<text x="66.2" y="380.8" font-size="12.7" font-weight="bold" text-anchor="end">1.5&#215;10</text>
<text x="66.6" y="375.9" font-size="8.3" font-weight="bold" text-anchor="start">4</text>
<line x1="72" y1="340.8" x2="78.5" y2="340.8" stroke="#000" stroke-width="1.6"/>
<text x="66.2" y="345.2" font-size="12.7" font-weight="bold" text-anchor="end">2.0&#215;10</text>
<text x="66.6" y="340.4" font-size="8.3" font-weight="bold" text-anchor="start">4</text>
<line x1="72" y1="305.2" x2="78.5" y2="305.2" stroke="#000" stroke-width="1.6"/>
<text x="66.2" y="309.8" font-size="12.7" font-weight="bold" text-anchor="end">2.5&#215;10</text>
<text x="66.6" y="304.9" font-size="8.3" font-weight="bold" text-anchor="start">4</text>
<line x1="72" y1="269.8" x2="78.5" y2="269.8" stroke="#000" stroke-width="1.6"/>
<text x="66.2" y="274.2" font-size="12.7" font-weight="bold" text-anchor="end">3.0&#215;10</text>
<text x="66.6" y="269.4" font-size="8.3" font-weight="bold" text-anchor="start">4</text>
<text x="204.6" y="473.8" font-size="14" font-weight="bold" text-anchor="middle">Time / <tspan font-weight="normal">&#956;</tspan>s</text>
<text x="0" y="0" font-size="14" font-weight="bold" text-anchor="middle" transform="translate(12 353.2) rotate(-90)">Intensity / counts</text>
<line x1="216.2" y1="279.7" x2="234.5" y2="279.7" stroke="#f545dc" stroke-width="2"/>
<text x="244.5" y="284.1" font-size="12" font-weight="normal" text-anchor="start">+ light x355 nm</text>
<line x1="216.2" y1="301.2" x2="234.5" y2="301.2" stroke="#0000ff" stroke-width="2"/>
<text x="244.5" y="305.6" font-size="12" font-weight="normal" text-anchor="start">+ light x473 nm</text>
<line x1="216.2" y1="321.6" x2="234.5" y2="321.6" stroke="#00c400" stroke-width="2"/>
<text x="244.5" y="326" font-size="12" font-weight="normal" text-anchor="start">- light</text>
<path d="M442.4,417.9l9.8,1.8 19.3-4.8 18.3-7.8 19-8.4 19.1-14.1 18.3-14 19-11.7 18.4-14.6 18.9-14 18.7-16.6 19-7.5" fill="none" stroke="#f545dc" stroke-width="1.9" stroke-linejoin="round" stroke-linecap="round"/>
<circle cx="442.4" cy="417.9" r="3.5" fill="#f545dc"/>
<circle cx="452.2" cy="419.7" r="3.5" fill="#f545dc"/>
<circle cx="471.5" cy="414.9" r="3.5" fill="#f545dc"/>
<circle cx="489.8" cy="407.1" r="3.5" fill="#f545dc"/>
<circle cx="508.8" cy="398.7" r="3.5" fill="#f545dc"/>
<circle cx="527.9" cy="384.6" r="3.5" fill="#f545dc"/>
<circle cx="546.2" cy="370.6" r="3.5" fill="#f545dc"/>
<circle cx="565.2" cy="358.9" r="3.5" fill="#f545dc"/>
<circle cx="583.6" cy="344.3" r="3.5" fill="#f545dc"/>
<circle cx="602.5" cy="330.3" r="3.5" fill="#f545dc"/>
<circle cx="621.2" cy="313.7" r="3.5" fill="#f545dc"/>
<circle cx="640.2" cy="306.2" r="3.5" fill="#f545dc"/>
<path d="M447.7,417.9l28.6-7.6 28-1.6 41.9,1.3 56.3,2.3" fill="none" stroke="#0000ff" stroke-width="1.8" stroke-linejoin="round" stroke-linecap="round"/>
<rect x="444.3" y="414.5" width="6.8" height="6.8" fill="#fff" stroke="#0000ff" stroke-width="1.9"/>
<rect x="472.9" y="406.9" width="6.8" height="6.8" fill="#fff" stroke="#0000ff" stroke-width="1.9"/>
<rect x="500.9" y="405.3" width="6.8" height="6.8" fill="#fff" stroke="#0000ff" stroke-width="1.9"/>
<rect x="542.8" y="406.6" width="6.8" height="6.8" fill="#fff" stroke="#0000ff" stroke-width="1.9"/>
<rect x="599.1" y="408.9" width="6.8" height="6.8" fill="#fff" stroke="#0000ff" stroke-width="1.9"/>
<rect x="433.7" y="268.5" width="249.50000000000006" height="166.10000000000002" fill="none" stroke="#000" stroke-width="1.7"/>
<line x1="433.9" y1="434.6" x2="433.9" y2="439.8" stroke="#000" stroke-width="1.6"/>
<text x="433.9" y="452.8" font-size="12.5" font-weight="bold" text-anchor="middle">0</text>
<line x1="511.7" y1="434.6" x2="511.7" y2="439.8" stroke="#000" stroke-width="1.6"/>
<text x="511.7" y="452.8" font-size="12.5" font-weight="bold" text-anchor="middle">50</text>
<line x1="589.4" y1="434.6" x2="589.4" y2="439.8" stroke="#000" stroke-width="1.6"/>
<text x="589.4" y="452.8" font-size="12.5" font-weight="bold" text-anchor="middle">100</text>
<line x1="667.2" y1="434.6" x2="667.2" y2="439.8" stroke="#000" stroke-width="1.6"/>
<text x="667.2" y="452.8" font-size="12.5" font-weight="bold" text-anchor="middle">150</text>
<line x1="428.5" y1="434.5" x2="433.7" y2="434.5" stroke="#000" stroke-width="1.6"/>
<text x="427" y="439" font-size="12.5" font-weight="bold" text-anchor="end">0</text>
<line x1="428.5" y1="401.3" x2="433.7" y2="401.3" stroke="#000" stroke-width="1.6"/>
<text x="427" y="405.8" font-size="12.5" font-weight="bold" text-anchor="end">2</text>
<line x1="428.5" y1="368.1" x2="433.7" y2="368.1" stroke="#000" stroke-width="1.6"/>
<text x="427" y="372.6" font-size="12.5" font-weight="bold" text-anchor="end">4</text>
<line x1="428.5" y1="334.9" x2="433.7" y2="334.9" stroke="#000" stroke-width="1.6"/>
<text x="427" y="339.4" font-size="12.5" font-weight="bold" text-anchor="end">6</text>
<line x1="428.5" y1="301.7" x2="433.7" y2="301.7" stroke="#000" stroke-width="1.6"/>
<text x="427" y="306.2" font-size="12.5" font-weight="bold" text-anchor="end">8</text>
<line x1="428.5" y1="268.5" x2="433.7" y2="268.5" stroke="#000" stroke-width="1.6"/>
<text x="427" y="273" font-size="12.5" font-weight="bold" text-anchor="end">10</text>
<text x="558.8" y="476.8" font-size="13.8" font-weight="bold" text-anchor="middle">Light fluence / J&#183;cm<tspan font-size="9" dy="-6.8">-2</tspan></text>
<text x="0" y="0" font-size="13.5" font-weight="bold" text-anchor="start" transform="translate(405 384.5) rotate(-90)">enhancement</text>
<text x="0" y="0" font-size="12.5" font-weight="normal" text-anchor="start" font-style="italic" transform="translate(404.0 403.4) rotate(-90)">&#981;</text>
<text x="0" y="0" font-size="9.5" font-weight="normal" text-anchor="start" transform="translate(407.3 396.4) rotate(-90)">&#916;</text>
<line x1="444.2" y1="279.6" x2="462.5" y2="279.6" stroke="#f545dc" stroke-width="1.9"/>
<circle cx="453.3" cy="279.6" r="3.5" fill="#f545dc"/>
<text x="471.5" y="283.9" font-size="12" font-weight="normal" text-anchor="start">x355 nm</text>
<line x1="444.2" y1="298.3" x2="462.5" y2="298.3" stroke="#0000ff" stroke-width="1.8"/>
<rect x="449.9" y="294.9" width="6.8" height="6.8" fill="#fff" stroke="#0000ff" stroke-width="1.9"/>
<text x="471.5" y="302.6" font-size="12" font-weight="normal" text-anchor="start">x473 nm</text>
</svg>
</body></html>
